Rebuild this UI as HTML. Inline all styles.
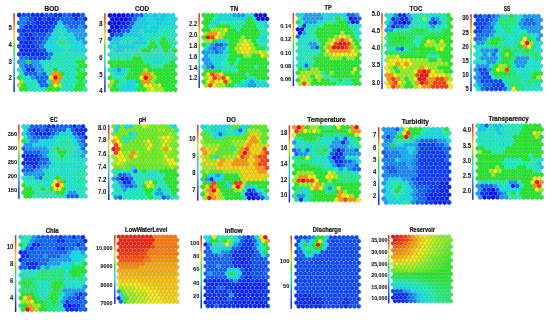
<!DOCTYPE html>
<html><head><meta charset="utf-8"><title>SOM component planes</title>
<style>
html,body{margin:0;padding:0;background:#fff;}
body{width:550px;height:320px;overflow:hidden;}
svg{display:block;}
.t{font-family:"Liberation Sans",sans-serif;font-weight:bold;fill:#181818;stroke:#181818;stroke-width:0.22px;}
.k{font-family:"Liberation Sans",sans-serif;font-weight:bold;fill:#181818;stroke:#181818;stroke-width:0.08px;}
</style></head><body>
<svg width="550" height="320" viewBox="0 0 550 320">
<defs><linearGradient id="cbg" x1="0" y1="0" x2="0" y2="1"><stop offset="0.00" stop-color="#ec120c"/><stop offset="0.09" stop-color="#ff3e05"/><stop offset="0.18" stop-color="#ff9600"/><stop offset="0.27" stop-color="#faf000"/><stop offset="0.36" stop-color="#96f814"/><stop offset="0.45" stop-color="#19ee19"/><stop offset="0.55" stop-color="#14f5b9"/><stop offset="0.64" stop-color="#04e3ec"/><stop offset="0.73" stop-color="#0f9cfc"/><stop offset="0.82" stop-color="#0862ff"/><stop offset="0.91" stop-color="#042afc"/><stop offset="1.00" stop-color="#000ee8"/></linearGradient><polygon id="h0" points="2.27,1.30 0.00,2.61 -2.27,1.30 -2.27,-1.30 -0.00,-2.61 2.27,-1.30"/><pattern id="d0" patternUnits="userSpaceOnUse" x="18.13" y="11.20" width="4.535" height="7.820"><g fill="#fff" fill-opacity="0.6"><circle cx="1.13" cy="1.30" r="0.5"/><circle cx="1.13" cy="6.52" r="0.5"/><circle cx="3.40" cy="2.61" r="0.5"/><circle cx="3.40" cy="5.21" r="0.5"/></g></pattern><polygon id="h1" points="2.24,1.30 0.00,2.60 -2.24,1.30 -2.24,-1.30 -0.00,-2.60 2.24,-1.30"/><pattern id="d1" patternUnits="userSpaceOnUse" x="108.92" y="11.50" width="4.484" height="7.810"><g fill="#fff" fill-opacity="0.6"><circle cx="1.12" cy="1.30" r="0.5"/><circle cx="1.12" cy="6.51" r="0.5"/><circle cx="3.36" cy="2.60" r="0.5"/><circle cx="3.36" cy="5.21" r="0.5"/></g></pattern><polygon id="h2" points="2.18,1.23 0.00,2.46 -2.18,1.23 -2.18,-1.23 -0.00,-2.46 2.18,-1.23"/><pattern id="d2" patternUnits="userSpaceOnUse" x="202.69" y="11.57" width="4.361" height="7.387"><g fill="#fff" fill-opacity="0.6"><circle cx="1.09" cy="1.23" r="0.5"/><circle cx="1.09" cy="6.16" r="0.5"/><circle cx="3.27" cy="2.46" r="0.5"/><circle cx="3.27" cy="4.92" r="0.5"/></g></pattern><polygon id="h3" points="2.12,1.21 0.00,2.41 -2.12,1.21 -2.12,-1.21 -0.00,-2.41 2.12,-1.21"/><pattern id="d3" patternUnits="userSpaceOnUse" x="296.86" y="11.29" width="4.232" height="7.239"><g fill="#fff" fill-opacity="0.6"><circle cx="1.06" cy="1.21" r="0.5"/><circle cx="1.06" cy="6.03" r="0.5"/><circle cx="3.17" cy="2.41" r="0.5"/><circle cx="3.17" cy="4.83" r="0.5"/></g></pattern><polygon id="h4" points="2.20,1.25 0.00,2.50 -2.20,1.25 -2.20,-1.25 -0.00,-2.50 2.20,-1.25"/><pattern id="d4" patternUnits="userSpaceOnUse" x="385.60" y="11.55" width="4.406" height="7.505"><g fill="#fff" fill-opacity="0.6"><circle cx="1.10" cy="1.25" r="0.5"/><circle cx="1.10" cy="6.25" r="0.5"/><circle cx="3.30" cy="2.50" r="0.5"/><circle cx="3.30" cy="5.00" r="0.5"/></g></pattern><polygon id="h5" points="2.23,1.28 0.00,2.55 -2.23,1.28 -2.23,-1.28 -0.00,-2.55 2.23,-1.28"/><pattern id="d5" patternUnits="userSpaceOnUse" x="474.72" y="12.32" width="4.465" height="7.662"><g fill="#fff" fill-opacity="0.6"><circle cx="1.12" cy="1.28" r="0.5"/><circle cx="1.12" cy="6.39" r="0.5"/><circle cx="3.35" cy="2.55" r="0.5"/><circle cx="3.35" cy="5.11" r="0.5"/></g></pattern><polygon id="h6" points="2.13,1.23 0.00,2.45 -2.13,1.23 -2.13,-1.23 -0.00,-2.45 2.13,-1.23"/><pattern id="d6" patternUnits="userSpaceOnUse" x="22.56" y="122.77" width="4.252" height="7.352"><g fill="#fff" fill-opacity="0.6"><circle cx="1.06" cy="1.23" r="0.5"/><circle cx="1.06" cy="6.13" r="0.5"/><circle cx="3.19" cy="2.45" r="0.5"/><circle cx="3.19" cy="4.90" r="0.5"/></g></pattern><polygon id="h7" points="2.18,1.25 0.00,2.49 -2.18,1.25 -2.18,-1.25 -0.00,-2.49 2.18,-1.25"/><pattern id="d7" patternUnits="userSpaceOnUse" x="112.59" y="122.75" width="4.355" height="7.475"><g fill="#fff" fill-opacity="0.6"><circle cx="1.09" cy="1.25" r="0.5"/><circle cx="1.09" cy="6.23" r="0.5"/><circle cx="3.27" cy="2.49" r="0.5"/><circle cx="3.27" cy="4.98" r="0.5"/></g></pattern><polygon id="h8" points="2.21,1.25 0.00,2.50 -2.21,1.25 -2.21,-1.25 -0.00,-2.50 2.21,-1.25"/><pattern id="d8" patternUnits="userSpaceOnUse" x="201.61" y="122.95" width="4.426" height="7.515"><g fill="#fff" fill-opacity="0.6"><circle cx="1.11" cy="1.25" r="0.5"/><circle cx="1.11" cy="6.26" r="0.5"/><circle cx="3.32" cy="2.50" r="0.5"/><circle cx="3.32" cy="5.01" r="0.5"/></g></pattern><polygon id="h9" points="2.22,1.27 0.00,2.54 -2.22,1.27 -2.22,-1.27 -0.00,-2.54 2.22,-1.27"/><pattern id="d9" patternUnits="userSpaceOnUse" x="293.21" y="123.53" width="4.439" height="7.623"><g fill="#fff" fill-opacity="0.6"><circle cx="1.11" cy="1.27" r="0.5"/><circle cx="1.11" cy="6.35" r="0.5"/><circle cx="3.33" cy="2.54" r="0.5"/><circle cx="3.33" cy="5.08" r="0.5"/></g></pattern><polygon id="h10" points="2.25,1.28 0.00,2.57 -2.25,1.28 -2.25,-1.28 -0.00,-2.57 2.25,-1.28"/><pattern id="d10" patternUnits="userSpaceOnUse" x="382.72" y="125.42" width="4.490" height="7.702"><g fill="#fff" fill-opacity="0.6"><circle cx="1.12" cy="1.28" r="0.5"/><circle cx="1.12" cy="6.42" r="0.5"/><circle cx="3.37" cy="2.57" r="0.5"/><circle cx="3.37" cy="5.13" r="0.5"/></g></pattern><polygon id="h11" points="2.19,1.25 0.00,2.51 -2.19,1.25 -2.19,-1.25 -0.00,-2.51 2.19,-1.25"/><pattern id="d11" patternUnits="userSpaceOnUse" x="476.70" y="122.00" width="4.387" height="7.530"><g fill="#fff" fill-opacity="0.6"><circle cx="1.10" cy="1.25" r="0.5"/><circle cx="1.10" cy="6.27" r="0.5"/><circle cx="3.29" cy="2.51" r="0.5"/><circle cx="3.29" cy="5.02" r="0.5"/></g></pattern><polygon id="h12" points="2.22,1.27 0.00,2.53 -2.22,1.27 -2.22,-1.27 -0.00,-2.53 2.22,-1.27"/><pattern id="d12" patternUnits="userSpaceOnUse" x="19.71" y="233.43" width="4.432" height="7.603"><g fill="#fff" fill-opacity="0.6"><circle cx="1.11" cy="1.27" r="0.5"/><circle cx="1.11" cy="6.34" r="0.5"/><circle cx="3.32" cy="2.53" r="0.5"/><circle cx="3.32" cy="5.07" r="0.5"/></g></pattern><polygon id="h13" points="2.01,1.14 0.00,2.28 -2.01,1.14 -2.01,-1.14 -0.00,-2.28 2.01,-1.14"/><pattern id="d13" patternUnits="userSpaceOnUse" x="117.80" y="233.26" width="4.013" height="6.836"><g fill="#fff" fill-opacity="0.6"><circle cx="1.00" cy="1.14" r="0.5"/><circle cx="1.00" cy="5.70" r="0.5"/><circle cx="3.01" cy="2.28" r="0.5"/><circle cx="3.01" cy="4.56" r="0.5"/></g></pattern><polygon id="h14" points="2.13,1.20 0.00,2.41 -2.13,1.20 -2.13,-1.20 -0.00,-2.41 2.13,-1.20"/><pattern id="d14" patternUnits="userSpaceOnUse" x="204.67" y="233.70" width="4.265" height="7.230"><g fill="#fff" fill-opacity="0.6"><circle cx="1.07" cy="1.20" r="0.5"/><circle cx="1.07" cy="6.02" r="0.5"/><circle cx="3.20" cy="2.41" r="0.5"/><circle cx="3.20" cy="4.82" r="0.5"/></g></pattern><polygon id="h15" points="2.14,1.21 0.00,2.41 -2.14,1.21 -2.14,-1.21 -0.00,-2.41 2.14,-1.21"/><pattern id="d15" patternUnits="userSpaceOnUse" x="295.47" y="233.89" width="4.284" height="7.244"><g fill="#fff" fill-opacity="0.6"><circle cx="1.07" cy="1.21" r="0.5"/><circle cx="1.07" cy="6.04" r="0.5"/><circle cx="3.21" cy="2.41" r="0.5"/><circle cx="3.21" cy="4.83" r="0.5"/></g></pattern><polygon id="h16" points="1.99,1.13 0.00,2.26 -1.99,1.13 -1.99,-1.13 -0.00,-2.26 1.99,-1.13"/><pattern id="d16" patternUnits="userSpaceOnUse" x="392.00" y="233.27" width="3.987" height="6.787"><g fill="#fff" fill-opacity="0.6"><circle cx="1.00" cy="1.13" r="0.5"/><circle cx="1.00" cy="5.66" r="0.5"/><circle cx="2.99" cy="2.26" r="0.5"/><circle cx="2.99" cy="4.52" r="0.5"/></g></pattern></defs>
<rect width="550" height="320" fill="#fff"/>
<g stroke="#454550" stroke-opacity="0.33" stroke-width="0.6" stroke-linejoin="round"><use href="#h0" x="19.3" y="15.1" fill="#042bfc"/><use href="#h0" x="23.8" y="15.1" fill="#064dfe"/><use href="#h0" x="28.3" y="15.1" fill="#064dfe"/><use href="#h0" x="32.9" y="15.1" fill="#042bfc"/><use href="#h0" x="37.4" y="15.1" fill="#042bfc"/><use href="#h0" x="41.9" y="15.1" fill="#042bfc"/><use href="#h0" x="46.5" y="15.1" fill="#064dfe"/><use href="#h0" x="51.0" y="15.1" fill="#064dfe"/><use href="#h0" x="55.6" y="15.1" fill="#042bfc"/><use href="#h0" x="60.1" y="15.1" fill="#042bfc"/><use href="#h0" x="64.6" y="15.1" fill="#0863ff"/><use href="#h0" x="69.2" y="15.1" fill="#0863ff"/><use href="#h0" x="73.7" y="15.1" fill="#042bfc"/><use href="#h0" x="78.2" y="15.1" fill="#042bfc"/><use href="#h0" x="82.8" y="15.1" fill="#0863ff"/><use href="#h0" x="21.5" y="19.0" fill="#0b7bfe"/><use href="#h0" x="26.1" y="19.0" fill="#0b7bfe"/><use href="#h0" x="30.6" y="19.0" fill="#064dfe"/><use href="#h0" x="35.1" y="19.0" fill="#042bfc"/><use href="#h0" x="39.7" y="19.0" fill="#042bfc"/><use href="#h0" x="44.2" y="19.0" fill="#064dfe"/><use href="#h0" x="48.7" y="19.0" fill="#042bfc"/><use href="#h0" x="53.3" y="19.0" fill="#042bfc"/><use href="#h0" x="57.8" y="19.0" fill="#064dfe"/><use href="#h0" x="62.4" y="19.0" fill="#0863ff"/><use href="#h0" x="66.9" y="19.0" fill="#0863ff"/><use href="#h0" x="71.4" y="19.0" fill="#0863ff"/><use href="#h0" x="76.0" y="19.0" fill="#042bfc"/><use href="#h0" x="80.5" y="19.0" fill="#0863ff"/><use href="#h0" x="85.0" y="19.0" fill="#042bfc"/><use href="#h0" x="19.3" y="22.9" fill="#0b7bfe"/><use href="#h0" x="23.8" y="22.9" fill="#0b7bfe"/><use href="#h0" x="28.3" y="22.9" fill="#064dfe"/><use href="#h0" x="32.9" y="22.9" fill="#064dfe"/><use href="#h0" x="37.4" y="22.9" fill="#042bfc"/><use href="#h0" x="41.9" y="22.9" fill="#042bfc"/><use href="#h0" x="46.5" y="22.9" fill="#042bfc"/><use href="#h0" x="51.0" y="22.9" fill="#042bfc"/><use href="#h0" x="55.6" y="22.9" fill="#064dfe"/><use href="#h0" x="60.1" y="22.9" fill="#05e4ea"/><use href="#h0" x="64.6" y="22.9" fill="#0863ff"/><use href="#h0" x="69.2" y="22.9" fill="#0863ff"/><use href="#h0" x="73.7" y="22.9" fill="#0863ff"/><use href="#h0" x="78.2" y="22.9" fill="#0863ff"/><use href="#h0" x="82.8" y="22.9" fill="#0863ff"/><use href="#h0" x="21.5" y="26.8" fill="#0b7bfe"/><use href="#h0" x="26.1" y="26.8" fill="#042bfc"/><use href="#h0" x="30.6" y="26.8" fill="#042bfc"/><use href="#h0" x="35.1" y="26.8" fill="#042bfc"/><use href="#h0" x="39.7" y="26.8" fill="#042bfc"/><use href="#h0" x="44.2" y="26.8" fill="#042bfc"/><use href="#h0" x="48.7" y="26.8" fill="#042bfc"/><use href="#h0" x="53.3" y="26.8" fill="#064dfe"/><use href="#h0" x="57.8" y="26.8" fill="#05e4ea"/><use href="#h0" x="62.4" y="26.8" fill="#05e4ea"/><use href="#h0" x="66.9" y="26.8" fill="#0f9efc"/><use href="#h0" x="71.4" y="26.8" fill="#0863ff"/><use href="#h0" x="76.0" y="26.8" fill="#0863ff"/><use href="#h0" x="80.5" y="26.8" fill="#0f9efc"/><use href="#h0" x="85.0" y="26.8" fill="#0863ff"/><use href="#h0" x="19.3" y="30.7" fill="#064dfe"/><use href="#h0" x="23.8" y="30.7" fill="#042bfc"/><use href="#h0" x="28.3" y="30.7" fill="#064dfe"/><use href="#h0" x="32.9" y="30.7" fill="#042bfc"/><use href="#h0" x="37.4" y="30.7" fill="#042bfc"/><use href="#h0" x="41.9" y="30.7" fill="#042bfc"/><use href="#h0" x="46.5" y="30.7" fill="#042bfc"/><use href="#h0" x="51.0" y="30.7" fill="#064dfe"/><use href="#h0" x="55.6" y="30.7" fill="#05e4ea"/><use href="#h0" x="60.1" y="30.7" fill="#14f5b2"/><use href="#h0" x="64.6" y="30.7" fill="#05e4ea"/><use href="#h0" x="69.2" y="30.7" fill="#0f9efc"/><use href="#h0" x="73.7" y="30.7" fill="#0f9efc"/><use href="#h0" x="78.2" y="30.7" fill="#0f9efc"/><use href="#h0" x="82.8" y="30.7" fill="#0f9efc"/><use href="#h0" x="21.5" y="34.7" fill="#064dfe"/><use href="#h0" x="26.1" y="34.7" fill="#042bfc"/><use href="#h0" x="30.6" y="34.7" fill="#042bfc"/><use href="#h0" x="35.1" y="34.7" fill="#064dfe"/><use href="#h0" x="39.7" y="34.7" fill="#064dfe"/><use href="#h0" x="44.2" y="34.7" fill="#064dfe"/><use href="#h0" x="48.7" y="34.7" fill="#0b7bfe"/><use href="#h0" x="53.3" y="34.7" fill="#05e4ea"/><use href="#h0" x="57.8" y="34.7" fill="#05e4ea"/><use href="#h0" x="62.4" y="34.7" fill="#14f5b2"/><use href="#h0" x="66.9" y="34.7" fill="#05e4ea"/><use href="#h0" x="71.4" y="34.7" fill="#05e4ea"/><use href="#h0" x="76.0" y="34.7" fill="#0f9efc"/><use href="#h0" x="80.5" y="34.7" fill="#0f9efc"/><use href="#h0" x="85.0" y="34.7" fill="#0f9efc"/><use href="#h0" x="19.3" y="38.6" fill="#064dfe"/><use href="#h0" x="23.8" y="38.6" fill="#064dfe"/><use href="#h0" x="28.3" y="38.6" fill="#042bfc"/><use href="#h0" x="32.9" y="38.6" fill="#042bfc"/><use href="#h0" x="37.4" y="38.6" fill="#064dfe"/><use href="#h0" x="41.9" y="38.6" fill="#064dfe"/><use href="#h0" x="46.5" y="38.6" fill="#0b7bfe"/><use href="#h0" x="51.0" y="38.6" fill="#05e4ea"/><use href="#h0" x="55.6" y="38.6" fill="#05e4ea"/><use href="#h0" x="60.1" y="38.6" fill="#14f5b2"/><use href="#h0" x="64.6" y="38.6" fill="#14f5b2"/><use href="#h0" x="69.2" y="38.6" fill="#05e4ea"/><use href="#h0" x="73.7" y="38.6" fill="#05e4ea"/><use href="#h0" x="78.2" y="38.6" fill="#0f9efc"/><use href="#h0" x="82.8" y="38.6" fill="#0f9efc"/><use href="#h0" x="21.5" y="42.5" fill="#042bfc"/><use href="#h0" x="26.1" y="42.5" fill="#042bfc"/><use href="#h0" x="30.6" y="42.5" fill="#042bfc"/><use href="#h0" x="35.1" y="42.5" fill="#064dfe"/><use href="#h0" x="39.7" y="42.5" fill="#064dfe"/><use href="#h0" x="44.2" y="42.5" fill="#0b7bfe"/><use href="#h0" x="48.7" y="42.5" fill="#05e4ea"/><use href="#h0" x="53.3" y="42.5" fill="#05e4ea"/><use href="#h0" x="57.8" y="42.5" fill="#14f5b2"/><use href="#h0" x="62.4" y="42.5" fill="#16f278"/><use href="#h0" x="66.9" y="42.5" fill="#14f5b2"/><use href="#h0" x="71.4" y="42.5" fill="#05e4ea"/><use href="#h0" x="76.0" y="42.5" fill="#05e4ea"/><use href="#h0" x="80.5" y="42.5" fill="#05e4ea"/><use href="#h0" x="85.0" y="42.5" fill="#0f9efc"/><use href="#h0" x="19.3" y="46.4" fill="#064dfe"/><use href="#h0" x="23.8" y="46.4" fill="#042bfc"/><use href="#h0" x="28.3" y="46.4" fill="#042bfc"/><use href="#h0" x="32.9" y="46.4" fill="#042bfc"/><use href="#h0" x="37.4" y="46.4" fill="#064dfe"/><use href="#h0" x="41.9" y="46.4" fill="#0b7bfe"/><use href="#h0" x="46.5" y="46.4" fill="#05e4ea"/><use href="#h0" x="51.0" y="46.4" fill="#05e4ea"/><use href="#h0" x="55.6" y="46.4" fill="#05e4ea"/><use href="#h0" x="60.1" y="46.4" fill="#14f5b2"/><use href="#h0" x="64.6" y="46.4" fill="#14f5b2"/><use href="#h0" x="69.2" y="46.4" fill="#14f5b2"/><use href="#h0" x="73.7" y="46.4" fill="#05e4ea"/><use href="#h0" x="78.2" y="46.4" fill="#05e4ea"/><use href="#h0" x="82.8" y="46.4" fill="#05e4ea"/><use href="#h0" x="21.5" y="50.3" fill="#042bfc"/><use href="#h0" x="26.1" y="50.3" fill="#042bfc"/><use href="#h0" x="30.6" y="50.3" fill="#042bfc"/><use href="#h0" x="35.1" y="50.3" fill="#042bfc"/><use href="#h0" x="39.7" y="50.3" fill="#064dfe"/><use href="#h0" x="44.2" y="50.3" fill="#064dfe"/><use href="#h0" x="48.7" y="50.3" fill="#05e4ea"/><use href="#h0" x="53.3" y="50.3" fill="#05e4ea"/><use href="#h0" x="57.8" y="50.3" fill="#05e4ea"/><use href="#h0" x="62.4" y="50.3" fill="#05e4ea"/><use href="#h0" x="66.9" y="50.3" fill="#14f5b2"/><use href="#h0" x="71.4" y="50.3" fill="#05e4ea"/><use href="#h0" x="76.0" y="50.3" fill="#05e4ea"/><use href="#h0" x="80.5" y="50.3" fill="#05e4ea"/><use href="#h0" x="85.0" y="50.3" fill="#05e4ea"/><use href="#h0" x="19.3" y="54.2" fill="#064dfe"/><use href="#h0" x="23.8" y="54.2" fill="#042bfc"/><use href="#h0" x="28.3" y="54.2" fill="#042bfc"/><use href="#h0" x="32.9" y="54.2" fill="#042bfc"/><use href="#h0" x="37.4" y="54.2" fill="#042bfc"/><use href="#h0" x="41.9" y="54.2" fill="#042bfc"/><use href="#h0" x="46.5" y="54.2" fill="#064dfe"/><use href="#h0" x="51.0" y="54.2" fill="#0b7bfe"/><use href="#h0" x="55.6" y="54.2" fill="#10f0c6"/><use href="#h0" x="60.1" y="54.2" fill="#10f0c6"/><use href="#h0" x="64.6" y="54.2" fill="#10f0c6"/><use href="#h0" x="69.2" y="54.2" fill="#10f0c6"/><use href="#h0" x="73.7" y="54.2" fill="#10f0c6"/><use href="#h0" x="78.2" y="54.2" fill="#10f0c6"/><use href="#h0" x="82.8" y="54.2" fill="#10f0c6"/><use href="#h0" x="21.5" y="58.1" fill="#0b7bfe"/><use href="#h0" x="26.1" y="58.1" fill="#0b7bfe"/><use href="#h0" x="30.6" y="58.1" fill="#064dfe"/><use href="#h0" x="35.1" y="58.1" fill="#064dfe"/><use href="#h0" x="39.7" y="58.1" fill="#064dfe"/><use href="#h0" x="44.2" y="58.1" fill="#064dfe"/><use href="#h0" x="48.7" y="58.1" fill="#0b7bfe"/><use href="#h0" x="53.3" y="58.1" fill="#10f0c6"/><use href="#h0" x="57.8" y="58.1" fill="#10f0c6"/><use href="#h0" x="62.4" y="58.1" fill="#10f0c6"/><use href="#h0" x="66.9" y="58.1" fill="#10f0c6"/><use href="#h0" x="71.4" y="58.1" fill="#10f0c6"/><use href="#h0" x="76.0" y="58.1" fill="#10f0c6"/><use href="#h0" x="80.5" y="58.1" fill="#10f0c6"/><use href="#h0" x="85.0" y="58.1" fill="#10f0c6"/><use href="#h0" x="19.3" y="62.0" fill="#0f9efc"/><use href="#h0" x="23.8" y="62.0" fill="#0f9efc"/><use href="#h0" x="28.3" y="62.0" fill="#19ee20"/><use href="#h0" x="32.9" y="62.0" fill="#0f9efc"/><use href="#h0" x="37.4" y="62.0" fill="#0f9efc"/><use href="#h0" x="41.9" y="62.0" fill="#10f0c6"/><use href="#h0" x="46.5" y="62.0" fill="#10f0c6"/><use href="#h0" x="51.0" y="62.0" fill="#10f0c6"/><use href="#h0" x="55.6" y="62.0" fill="#14f5b2"/><use href="#h0" x="60.1" y="62.0" fill="#14f5b2"/><use href="#h0" x="64.6" y="62.0" fill="#10f0c6"/><use href="#h0" x="69.2" y="62.0" fill="#10f0c6"/><use href="#h0" x="73.7" y="62.0" fill="#10f0c6"/><use href="#h0" x="78.2" y="62.0" fill="#19ee20"/><use href="#h0" x="82.8" y="62.0" fill="#19ee20"/><use href="#h0" x="21.5" y="65.9" fill="#0f9efc"/><use href="#h0" x="26.1" y="65.9" fill="#0863ff"/><use href="#h0" x="30.6" y="65.9" fill="#0863ff"/><use href="#h0" x="35.1" y="65.9" fill="#0f9efc"/><use href="#h0" x="39.7" y="65.9" fill="#0f9efc"/><use href="#h0" x="44.2" y="65.9" fill="#10f0c6"/><use href="#h0" x="48.7" y="65.9" fill="#14f5b2"/><use href="#h0" x="53.3" y="65.9" fill="#14f5b2"/><use href="#h0" x="57.8" y="65.9" fill="#14f5b2"/><use href="#h0" x="62.4" y="65.9" fill="#10f0c6"/><use href="#h0" x="66.9" y="65.9" fill="#10f0c6"/><use href="#h0" x="71.4" y="65.9" fill="#10f0c6"/><use href="#h0" x="76.0" y="65.9" fill="#14f5b2"/><use href="#h0" x="80.5" y="65.9" fill="#19ee20"/><use href="#h0" x="85.0" y="65.9" fill="#19ee20"/><use href="#h0" x="19.3" y="69.8" fill="#10f0c6"/><use href="#h0" x="23.8" y="69.8" fill="#0f9efc"/><use href="#h0" x="28.3" y="69.8" fill="#042bfc"/><use href="#h0" x="32.9" y="69.8" fill="#042bfc"/><use href="#h0" x="37.4" y="69.8" fill="#0f9efc"/><use href="#h0" x="41.9" y="69.8" fill="#0f9efc"/><use href="#h0" x="46.5" y="69.8" fill="#10f0c6"/><use href="#h0" x="51.0" y="69.8" fill="#14f5b2"/><use href="#h0" x="55.6" y="69.8" fill="#19ee20"/><use href="#h0" x="60.1" y="69.8" fill="#14f5b2"/><use href="#h0" x="64.6" y="69.8" fill="#10f0c6"/><use href="#h0" x="69.2" y="69.8" fill="#10f0c6"/><use href="#h0" x="73.7" y="69.8" fill="#10f0c6"/><use href="#h0" x="78.2" y="69.8" fill="#19ee20"/><use href="#h0" x="82.8" y="69.8" fill="#14f5b2"/><use href="#h0" x="21.5" y="73.8" fill="#10f0c6"/><use href="#h0" x="26.1" y="73.8" fill="#0863ff"/><use href="#h0" x="30.6" y="73.8" fill="#0863ff"/><use href="#h0" x="35.1" y="73.8" fill="#0863ff"/><use href="#h0" x="39.7" y="73.8" fill="#0f9efc"/><use href="#h0" x="44.2" y="73.8" fill="#0863ff"/><use href="#h0" x="48.7" y="73.8" fill="#14f5b2"/><use href="#h0" x="53.3" y="73.8" fill="#ff9800"/><use href="#h0" x="57.8" y="73.8" fill="#ff9800"/><use href="#h0" x="62.4" y="73.8" fill="#19ee20"/><use href="#h0" x="66.9" y="73.8" fill="#10f0c6"/><use href="#h0" x="71.4" y="73.8" fill="#10f0c6"/><use href="#h0" x="76.0" y="73.8" fill="#14f5b2"/><use href="#h0" x="80.5" y="73.8" fill="#19ee20"/><use href="#h0" x="85.0" y="73.8" fill="#19ee20"/><use href="#h0" x="19.3" y="77.7" fill="#19ee20"/><use href="#h0" x="23.8" y="77.7" fill="#10f0c6"/><use href="#h0" x="28.3" y="77.7" fill="#10f0c6"/><use href="#h0" x="32.9" y="77.7" fill="#0f9efc"/><use href="#h0" x="37.4" y="77.7" fill="#0863ff"/><use href="#h0" x="41.9" y="77.7" fill="#0863ff"/><use href="#h0" x="46.5" y="77.7" fill="#0863ff"/><use href="#h0" x="51.0" y="77.7" fill="#f7f001"/><use href="#h0" x="55.6" y="77.7" fill="#ec120c"/><use href="#h0" x="60.1" y="77.7" fill="#ff9800"/><use href="#h0" x="64.6" y="77.7" fill="#14f5b2"/><use href="#h0" x="69.2" y="77.7" fill="#10f0c6"/><use href="#h0" x="73.7" y="77.7" fill="#10f0c6"/><use href="#h0" x="78.2" y="77.7" fill="#19ee20"/><use href="#h0" x="82.8" y="77.7" fill="#19ee20"/><use href="#h0" x="21.5" y="81.6" fill="#91f814"/><use href="#h0" x="26.1" y="81.6" fill="#14f5b2"/><use href="#h0" x="30.6" y="81.6" fill="#10f0c6"/><use href="#h0" x="35.1" y="81.6" fill="#10f0c6"/><use href="#h0" x="39.7" y="81.6" fill="#0863ff"/><use href="#h0" x="44.2" y="81.6" fill="#0863ff"/><use href="#h0" x="48.7" y="81.6" fill="#10f0c6"/><use href="#h0" x="53.3" y="81.6" fill="#ff9800"/><use href="#h0" x="57.8" y="81.6" fill="#ff9800"/><use href="#h0" x="62.4" y="81.6" fill="#14f5b2"/><use href="#h0" x="66.9" y="81.6" fill="#10f0c6"/><use href="#h0" x="71.4" y="81.6" fill="#10f0c6"/><use href="#h0" x="76.0" y="81.6" fill="#14f5b2"/><use href="#h0" x="80.5" y="81.6" fill="#19ee20"/><use href="#h0" x="85.0" y="81.6" fill="#14f5b2"/><use href="#h0" x="19.3" y="85.5" fill="#91f814"/><use href="#h0" x="23.8" y="85.5" fill="#19ee20"/><use href="#h0" x="28.3" y="85.5" fill="#10f0c6"/><use href="#h0" x="32.9" y="85.5" fill="#10f0c6"/><use href="#h0" x="37.4" y="85.5" fill="#10f0c6"/><use href="#h0" x="41.9" y="85.5" fill="#0863ff"/><use href="#h0" x="46.5" y="85.5" fill="#0863ff"/><use href="#h0" x="51.0" y="85.5" fill="#19ee20"/><use href="#h0" x="55.6" y="85.5" fill="#f7f001"/><use href="#h0" x="60.1" y="85.5" fill="#91f814"/><use href="#h0" x="64.6" y="85.5" fill="#10f0c6"/><use href="#h0" x="69.2" y="85.5" fill="#10f0c6"/><use href="#h0" x="73.7" y="85.5" fill="#14f5b2"/><use href="#h0" x="78.2" y="85.5" fill="#19ee20"/><use href="#h0" x="82.8" y="85.5" fill="#19ee20"/><use href="#h0" x="21.5" y="89.4" fill="#19ee20"/><use href="#h0" x="26.1" y="89.4" fill="#19ee20"/><use href="#h0" x="30.6" y="89.4" fill="#10f0c6"/><use href="#h0" x="35.1" y="89.4" fill="#10f0c6"/><use href="#h0" x="39.7" y="89.4" fill="#10f0c6"/><use href="#h0" x="44.2" y="89.4" fill="#10f0c6"/><use href="#h0" x="48.7" y="89.4" fill="#19ee20"/><use href="#h0" x="53.3" y="89.4" fill="#19ee20"/><use href="#h0" x="57.8" y="89.4" fill="#19ee20"/><use href="#h0" x="62.4" y="89.4" fill="#14f5b2"/><use href="#h0" x="66.9" y="89.4" fill="#10f0c6"/><use href="#h0" x="71.4" y="89.4" fill="#10f0c6"/><use href="#h0" x="76.0" y="89.4" fill="#19ee20"/><use href="#h0" x="80.5" y="89.4" fill="#19ee20"/><use href="#h0" x="85.0" y="89.4" fill="#14f5b2"/></g>
<rect x="16.0" y="11.5" width="72.3" height="81.5" fill="url(#d0)"/>
<rect x="13.40" y="13.10" width="1.4" height="78.90" fill="url(#cbg)"/>
<rect x="13.40" y="13.10" width="1.4" height="78.90" fill="#707080" fill-opacity="0.18"/>
<text x="51.8" y="11.0" class="t" font-size="6.50" text-anchor="middle" textLength="14.4" lengthAdjust="spacingAndGlyphs">BOD</text>
<text x="11.9" y="30.4" class="k" font-size="6.60" text-anchor="end" textLength="3.4" lengthAdjust="spacingAndGlyphs">5</text>
<text x="11.9" y="47.1" class="k" font-size="6.60" text-anchor="end" textLength="3.4" lengthAdjust="spacingAndGlyphs">4</text>
<text x="11.9" y="64.0" class="k" font-size="6.60" text-anchor="end" textLength="3.4" lengthAdjust="spacingAndGlyphs">3</text>
<text x="11.9" y="80.4" class="k" font-size="6.60" text-anchor="end" textLength="3.4" lengthAdjust="spacingAndGlyphs">2</text>
<g stroke="#454550" stroke-opacity="0.33" stroke-width="0.6" stroke-linejoin="round"><use href="#h1" x="110.0" y="15.4" fill="#000ee8"/><use href="#h1" x="114.5" y="15.4" fill="#000ee8"/><use href="#h1" x="119.0" y="15.4" fill="#000ee8"/><use href="#h1" x="123.5" y="15.4" fill="#000ee8"/><use href="#h1" x="128.0" y="15.4" fill="#042bfc"/><use href="#h1" x="132.5" y="15.4" fill="#042bfc"/><use href="#h1" x="136.9" y="15.4" fill="#0863ff"/><use href="#h1" x="141.4" y="15.4" fill="#0863ff"/><use href="#h1" x="145.9" y="15.4" fill="#07d0f0"/><use href="#h1" x="150.4" y="15.4" fill="#05e4ea"/><use href="#h1" x="154.9" y="15.4" fill="#07d0f0"/><use href="#h1" x="159.4" y="15.4" fill="#05e4ea"/><use href="#h1" x="163.8" y="15.4" fill="#07d0f0"/><use href="#h1" x="168.3" y="15.4" fill="#05e4ea"/><use href="#h1" x="172.8" y="15.4" fill="#05e4ea"/><use href="#h1" x="112.3" y="19.3" fill="#000ee8"/><use href="#h1" x="116.8" y="19.3" fill="#000ee8"/><use href="#h1" x="121.3" y="19.3" fill="#000ee8"/><use href="#h1" x="125.7" y="19.3" fill="#000ee8"/><use href="#h1" x="130.2" y="19.3" fill="#042bfc"/><use href="#h1" x="134.7" y="19.3" fill="#0863ff"/><use href="#h1" x="139.2" y="19.3" fill="#07d0f0"/><use href="#h1" x="143.7" y="19.3" fill="#07d0f0"/><use href="#h1" x="148.2" y="19.3" fill="#05e4ea"/><use href="#h1" x="152.6" y="19.3" fill="#05e4ea"/><use href="#h1" x="157.1" y="19.3" fill="#07d0f0"/><use href="#h1" x="161.6" y="19.3" fill="#07d0f0"/><use href="#h1" x="166.1" y="19.3" fill="#05e4ea"/><use href="#h1" x="170.6" y="19.3" fill="#05e4ea"/><use href="#h1" x="175.1" y="19.3" fill="#05e4ea"/><use href="#h1" x="110.0" y="23.2" fill="#000ee8"/><use href="#h1" x="114.5" y="23.2" fill="#000ee8"/><use href="#h1" x="119.0" y="23.2" fill="#000ee8"/><use href="#h1" x="123.5" y="23.2" fill="#000ee8"/><use href="#h1" x="128.0" y="23.2" fill="#042bfc"/><use href="#h1" x="132.5" y="23.2" fill="#0863ff"/><use href="#h1" x="136.9" y="23.2" fill="#07d0f0"/><use href="#h1" x="141.4" y="23.2" fill="#07d0f0"/><use href="#h1" x="145.9" y="23.2" fill="#07d0f0"/><use href="#h1" x="150.4" y="23.2" fill="#05e4ea"/><use href="#h1" x="154.9" y="23.2" fill="#05e4ea"/><use href="#h1" x="159.4" y="23.2" fill="#07d0f0"/><use href="#h1" x="163.8" y="23.2" fill="#05e4ea"/><use href="#h1" x="168.3" y="23.2" fill="#05e4ea"/><use href="#h1" x="172.8" y="23.2" fill="#05e4ea"/><use href="#h1" x="112.3" y="27.1" fill="#000ee8"/><use href="#h1" x="116.8" y="27.1" fill="#000ee8"/><use href="#h1" x="121.3" y="27.1" fill="#042bfc"/><use href="#h1" x="125.7" y="27.1" fill="#042bfc"/><use href="#h1" x="130.2" y="27.1" fill="#0863ff"/><use href="#h1" x="134.7" y="27.1" fill="#06d8ef"/><use href="#h1" x="139.2" y="27.1" fill="#06d8ef"/><use href="#h1" x="143.7" y="27.1" fill="#06d8ef"/><use href="#h1" x="148.2" y="27.1" fill="#0eefcb"/><use href="#h1" x="152.6" y="27.1" fill="#06d8ef"/><use href="#h1" x="157.1" y="27.1" fill="#06d8ef"/><use href="#h1" x="161.6" y="27.1" fill="#0eefcb"/><use href="#h1" x="166.1" y="27.1" fill="#0eefcb"/><use href="#h1" x="170.6" y="27.1" fill="#0eefcb"/><use href="#h1" x="175.1" y="27.1" fill="#0eefcb"/><use href="#h1" x="110.0" y="31.0" fill="#000ee8"/><use href="#h1" x="114.5" y="31.0" fill="#042bfc"/><use href="#h1" x="119.0" y="31.0" fill="#042bfc"/><use href="#h1" x="123.5" y="31.0" fill="#0863ff"/><use href="#h1" x="128.0" y="31.0" fill="#0863ff"/><use href="#h1" x="132.5" y="31.0" fill="#06d8ef"/><use href="#h1" x="136.9" y="31.0" fill="#06d8ef"/><use href="#h1" x="141.4" y="31.0" fill="#0eefcb"/><use href="#h1" x="145.9" y="31.0" fill="#06d8ef"/><use href="#h1" x="150.4" y="31.0" fill="#06d8ef"/><use href="#h1" x="154.9" y="31.0" fill="#06d8ef"/><use href="#h1" x="159.4" y="31.0" fill="#0eefcb"/><use href="#h1" x="163.8" y="31.0" fill="#0eefcb"/><use href="#h1" x="168.3" y="31.0" fill="#0eefcb"/><use href="#h1" x="172.8" y="31.0" fill="#0eefcb"/><use href="#h1" x="112.3" y="34.9" fill="#042bfc"/><use href="#h1" x="116.8" y="34.9" fill="#0863ff"/><use href="#h1" x="121.3" y="34.9" fill="#0863ff"/><use href="#h1" x="125.7" y="34.9" fill="#06d8ef"/><use href="#h1" x="130.2" y="34.9" fill="#06d8ef"/><use href="#h1" x="134.7" y="34.9" fill="#06d8ef"/><use href="#h1" x="139.2" y="34.9" fill="#06d8ef"/><use href="#h1" x="143.7" y="34.9" fill="#0eefcb"/><use href="#h1" x="148.2" y="34.9" fill="#0eefcb"/><use href="#h1" x="152.6" y="34.9" fill="#0eefcb"/><use href="#h1" x="157.1" y="34.9" fill="#0eefcb"/><use href="#h1" x="161.6" y="34.9" fill="#14f5b2"/><use href="#h1" x="166.1" y="34.9" fill="#14f5b2"/><use href="#h1" x="170.6" y="34.9" fill="#14f5b2"/><use href="#h1" x="175.1" y="34.9" fill="#0eefcb"/><use href="#h1" x="110.0" y="38.8" fill="#0863ff"/><use href="#h1" x="114.5" y="38.8" fill="#06d8ef"/><use href="#h1" x="119.0" y="38.8" fill="#06d8ef"/><use href="#h1" x="123.5" y="38.8" fill="#0eefcb"/><use href="#h1" x="128.0" y="38.8" fill="#0eefcb"/><use href="#h1" x="132.5" y="38.8" fill="#0eefcb"/><use href="#h1" x="136.9" y="38.8" fill="#0eefcb"/><use href="#h1" x="141.4" y="38.8" fill="#06d8ef"/><use href="#h1" x="145.9" y="38.8" fill="#0eefcb"/><use href="#h1" x="150.4" y="38.8" fill="#0eefcb"/><use href="#h1" x="154.9" y="38.8" fill="#14f5b2"/><use href="#h1" x="159.4" y="38.8" fill="#14f5b2"/><use href="#h1" x="163.8" y="38.8" fill="#19ee20"/><use href="#h1" x="168.3" y="38.8" fill="#14f5b2"/><use href="#h1" x="172.8" y="38.8" fill="#14f5b2"/><use href="#h1" x="112.3" y="42.7" fill="#06d8ef"/><use href="#h1" x="116.8" y="42.7" fill="#06d8ef"/><use href="#h1" x="121.3" y="42.7" fill="#0eefcb"/><use href="#h1" x="125.7" y="42.7" fill="#0eefcb"/><use href="#h1" x="130.2" y="42.7" fill="#0eefcb"/><use href="#h1" x="134.7" y="42.7" fill="#06d8ef"/><use href="#h1" x="139.2" y="42.7" fill="#06d8ef"/><use href="#h1" x="143.7" y="42.7" fill="#06d8ef"/><use href="#h1" x="148.2" y="42.7" fill="#14f5b2"/><use href="#h1" x="152.6" y="42.7" fill="#19ee20"/><use href="#h1" x="157.1" y="42.7" fill="#14f5b2"/><use href="#h1" x="161.6" y="42.7" fill="#19ee20"/><use href="#h1" x="166.1" y="42.7" fill="#19ee20"/><use href="#h1" x="170.6" y="42.7" fill="#14f5b2"/><use href="#h1" x="175.1" y="42.7" fill="#14f5b2"/><use href="#h1" x="110.0" y="46.6" fill="#06d8ef"/><use href="#h1" x="114.5" y="46.6" fill="#0eefcb"/><use href="#h1" x="119.0" y="46.6" fill="#06d8ef"/><use href="#h1" x="123.5" y="46.6" fill="#06d8ef"/><use href="#h1" x="128.0" y="46.6" fill="#06d8ef"/><use href="#h1" x="132.5" y="46.6" fill="#06d8ef"/><use href="#h1" x="136.9" y="46.6" fill="#0eefcb"/><use href="#h1" x="141.4" y="46.6" fill="#0eefcb"/><use href="#h1" x="145.9" y="46.6" fill="#14f5b2"/><use href="#h1" x="150.4" y="46.6" fill="#19ee20"/><use href="#h1" x="154.9" y="46.6" fill="#19ee20"/><use href="#h1" x="159.4" y="46.6" fill="#14f5b2"/><use href="#h1" x="163.8" y="46.6" fill="#19ee20"/><use href="#h1" x="168.3" y="46.6" fill="#19ee20"/><use href="#h1" x="172.8" y="46.6" fill="#14f5b2"/><use href="#h1" x="112.3" y="50.5" fill="#0eefcb"/><use href="#h1" x="116.8" y="50.5" fill="#06d8ef"/><use href="#h1" x="121.3" y="50.5" fill="#06d8ef"/><use href="#h1" x="125.7" y="50.5" fill="#0eefcb"/><use href="#h1" x="130.2" y="50.5" fill="#0eefcb"/><use href="#h1" x="134.7" y="50.5" fill="#0eefcb"/><use href="#h1" x="139.2" y="50.5" fill="#14f5b2"/><use href="#h1" x="143.7" y="50.5" fill="#19ee20"/><use href="#h1" x="148.2" y="50.5" fill="#19ee20"/><use href="#h1" x="152.6" y="50.5" fill="#14f5b2"/><use href="#h1" x="157.1" y="50.5" fill="#14f5b2"/><use href="#h1" x="161.6" y="50.5" fill="#14f5b2"/><use href="#h1" x="166.1" y="50.5" fill="#19ee20"/><use href="#h1" x="170.6" y="50.5" fill="#14f5b2"/><use href="#h1" x="175.1" y="50.5" fill="#19ee20"/><use href="#h1" x="110.0" y="54.5" fill="#0eefcb"/><use href="#h1" x="114.5" y="54.5" fill="#0eefcb"/><use href="#h1" x="119.0" y="54.5" fill="#0eefcb"/><use href="#h1" x="123.5" y="54.5" fill="#0eefcb"/><use href="#h1" x="128.0" y="54.5" fill="#0eefcb"/><use href="#h1" x="132.5" y="54.5" fill="#14f5b2"/><use href="#h1" x="136.9" y="54.5" fill="#14f5b2"/><use href="#h1" x="141.4" y="54.5" fill="#14f5b2"/><use href="#h1" x="145.9" y="54.5" fill="#14f5b2"/><use href="#h1" x="150.4" y="54.5" fill="#0eefcb"/><use href="#h1" x="154.9" y="54.5" fill="#0eefcb"/><use href="#h1" x="159.4" y="54.5" fill="#0eefcb"/><use href="#h1" x="163.8" y="54.5" fill="#14f5b2"/><use href="#h1" x="168.3" y="54.5" fill="#14f5b2"/><use href="#h1" x="172.8" y="54.5" fill="#14f5b2"/><use href="#h1" x="112.3" y="58.4" fill="#0eefcb"/><use href="#h1" x="116.8" y="58.4" fill="#14f5b2"/><use href="#h1" x="121.3" y="58.4" fill="#14f5b2"/><use href="#h1" x="125.7" y="58.4" fill="#14f5b2"/><use href="#h1" x="130.2" y="58.4" fill="#14f5b2"/><use href="#h1" x="134.7" y="58.4" fill="#19ee20"/><use href="#h1" x="139.2" y="58.4" fill="#19ee20"/><use href="#h1" x="143.7" y="58.4" fill="#14f5b2"/><use href="#h1" x="148.2" y="58.4" fill="#14f5b2"/><use href="#h1" x="152.6" y="58.4" fill="#0eefcb"/><use href="#h1" x="157.1" y="58.4" fill="#0eefcb"/><use href="#h1" x="161.6" y="58.4" fill="#0eefcb"/><use href="#h1" x="166.1" y="58.4" fill="#14f5b2"/><use href="#h1" x="170.6" y="58.4" fill="#14f5b2"/><use href="#h1" x="175.1" y="58.4" fill="#14f5b2"/><use href="#h1" x="110.0" y="62.3" fill="#19ee20"/><use href="#h1" x="114.5" y="62.3" fill="#19ee20"/><use href="#h1" x="119.0" y="62.3" fill="#19ee20"/><use href="#h1" x="123.5" y="62.3" fill="#19ee20"/><use href="#h1" x="128.0" y="62.3" fill="#19ee20"/><use href="#h1" x="132.5" y="62.3" fill="#19ee20"/><use href="#h1" x="136.9" y="62.3" fill="#19ee20"/><use href="#h1" x="141.4" y="62.3" fill="#19ee20"/><use href="#h1" x="145.9" y="62.3" fill="#14f5b2"/><use href="#h1" x="150.4" y="62.3" fill="#14f5b2"/><use href="#h1" x="154.9" y="62.3" fill="#05e4ea"/><use href="#h1" x="159.4" y="62.3" fill="#05e4ea"/><use href="#h1" x="163.8" y="62.3" fill="#14f5b2"/><use href="#h1" x="168.3" y="62.3" fill="#14f5b2"/><use href="#h1" x="172.8" y="62.3" fill="#19ee20"/><use href="#h1" x="112.3" y="66.2" fill="#19ee20"/><use href="#h1" x="116.8" y="66.2" fill="#19ee20"/><use href="#h1" x="121.3" y="66.2" fill="#19ee20"/><use href="#h1" x="125.7" y="66.2" fill="#19ee20"/><use href="#h1" x="130.2" y="66.2" fill="#19ee20"/><use href="#h1" x="134.7" y="66.2" fill="#19ee20"/><use href="#h1" x="139.2" y="66.2" fill="#19ee20"/><use href="#h1" x="143.7" y="66.2" fill="#19ee20"/><use href="#h1" x="148.2" y="66.2" fill="#19ee20"/><use href="#h1" x="152.6" y="66.2" fill="#14f5b2"/><use href="#h1" x="157.1" y="66.2" fill="#14f5b2"/><use href="#h1" x="161.6" y="66.2" fill="#14f5b2"/><use href="#h1" x="166.1" y="66.2" fill="#19ee20"/><use href="#h1" x="170.6" y="66.2" fill="#19ee20"/><use href="#h1" x="175.1" y="66.2" fill="#19ee20"/><use href="#h1" x="110.0" y="70.1" fill="#14f5b2"/><use href="#h1" x="114.5" y="70.1" fill="#05e4ea"/><use href="#h1" x="119.0" y="70.1" fill="#0f9efc"/><use href="#h1" x="123.5" y="70.1" fill="#05e4ea"/><use href="#h1" x="128.0" y="70.1" fill="#14f5b2"/><use href="#h1" x="132.5" y="70.1" fill="#19ee20"/><use href="#h1" x="136.9" y="70.1" fill="#19ee20"/><use href="#h1" x="141.4" y="70.1" fill="#19ee20"/><use href="#h1" x="145.9" y="70.1" fill="#91f814"/><use href="#h1" x="150.4" y="70.1" fill="#19ee20"/><use href="#h1" x="154.9" y="70.1" fill="#19ee20"/><use href="#h1" x="159.4" y="70.1" fill="#19ee20"/><use href="#h1" x="163.8" y="70.1" fill="#19ee20"/><use href="#h1" x="168.3" y="70.1" fill="#19ee20"/><use href="#h1" x="172.8" y="70.1" fill="#19ee20"/><use href="#h1" x="112.3" y="74.0" fill="#14f5b2"/><use href="#h1" x="116.8" y="74.0" fill="#05e4ea"/><use href="#h1" x="121.3" y="74.0" fill="#05e4ea"/><use href="#h1" x="125.7" y="74.0" fill="#14f5b2"/><use href="#h1" x="130.2" y="74.0" fill="#19ee20"/><use href="#h1" x="134.7" y="74.0" fill="#19ee20"/><use href="#h1" x="139.2" y="74.0" fill="#19ee20"/><use href="#h1" x="143.7" y="74.0" fill="#ff9800"/><use href="#h1" x="148.2" y="74.0" fill="#ff9800"/><use href="#h1" x="152.6" y="74.0" fill="#91f814"/><use href="#h1" x="157.1" y="74.0" fill="#19ee20"/><use href="#h1" x="161.6" y="74.0" fill="#19ee20"/><use href="#h1" x="166.1" y="74.0" fill="#19ee20"/><use href="#h1" x="170.6" y="74.0" fill="#19ee20"/><use href="#h1" x="175.1" y="74.0" fill="#19ee20"/><use href="#h1" x="110.0" y="77.9" fill="#19ee20"/><use href="#h1" x="114.5" y="77.9" fill="#14f5b2"/><use href="#h1" x="119.0" y="77.9" fill="#14f5b2"/><use href="#h1" x="123.5" y="77.9" fill="#14f5b2"/><use href="#h1" x="128.0" y="77.9" fill="#19ee20"/><use href="#h1" x="132.5" y="77.9" fill="#19ee20"/><use href="#h1" x="136.9" y="77.9" fill="#19ee20"/><use href="#h1" x="141.4" y="77.9" fill="#f7f001"/><use href="#h1" x="145.9" y="77.9" fill="#ec120c"/><use href="#h1" x="150.4" y="77.9" fill="#ff9800"/><use href="#h1" x="154.9" y="77.9" fill="#91f814"/><use href="#h1" x="159.4" y="77.9" fill="#19ee20"/><use href="#h1" x="163.8" y="77.9" fill="#19ee20"/><use href="#h1" x="168.3" y="77.9" fill="#19ee20"/><use href="#h1" x="172.8" y="77.9" fill="#19ee20"/><use href="#h1" x="112.3" y="81.8" fill="#91f814"/><use href="#h1" x="116.8" y="81.8" fill="#19ee20"/><use href="#h1" x="121.3" y="81.8" fill="#14f5b2"/><use href="#h1" x="125.7" y="81.8" fill="#14f5b2"/><use href="#h1" x="130.2" y="81.8" fill="#05e4ea"/><use href="#h1" x="134.7" y="81.8" fill="#05e4ea"/><use href="#h1" x="139.2" y="81.8" fill="#19ee20"/><use href="#h1" x="143.7" y="81.8" fill="#ff9800"/><use href="#h1" x="148.2" y="81.8" fill="#ff9800"/><use href="#h1" x="152.6" y="81.8" fill="#91f814"/><use href="#h1" x="157.1" y="81.8" fill="#19ee20"/><use href="#h1" x="161.6" y="81.8" fill="#19ee20"/><use href="#h1" x="166.1" y="81.8" fill="#19ee20"/><use href="#h1" x="170.6" y="81.8" fill="#19ee20"/><use href="#h1" x="175.1" y="81.8" fill="#19ee20"/><use href="#h1" x="110.0" y="85.7" fill="#91f814"/><use href="#h1" x="114.5" y="85.7" fill="#19ee20"/><use href="#h1" x="119.0" y="85.7" fill="#14f5b2"/><use href="#h1" x="123.5" y="85.7" fill="#05e4ea"/><use href="#h1" x="128.0" y="85.7" fill="#05e4ea"/><use href="#h1" x="132.5" y="85.7" fill="#05e4ea"/><use href="#h1" x="136.9" y="85.7" fill="#14f5b2"/><use href="#h1" x="141.4" y="85.7" fill="#19ee20"/><use href="#h1" x="145.9" y="85.7" fill="#f7f001"/><use href="#h1" x="150.4" y="85.7" fill="#f7f001"/><use href="#h1" x="154.9" y="85.7" fill="#91f814"/><use href="#h1" x="159.4" y="85.7" fill="#f7f001"/><use href="#h1" x="163.8" y="85.7" fill="#19ee20"/><use href="#h1" x="168.3" y="85.7" fill="#19ee20"/><use href="#h1" x="172.8" y="85.7" fill="#19ee20"/><use href="#h1" x="112.3" y="89.6" fill="#19ee20"/><use href="#h1" x="116.8" y="89.6" fill="#19ee20"/><use href="#h1" x="121.3" y="89.6" fill="#05e4ea"/><use href="#h1" x="125.7" y="89.6" fill="#05e4ea"/><use href="#h1" x="130.2" y="89.6" fill="#05e4ea"/><use href="#h1" x="134.7" y="89.6" fill="#05e4ea"/><use href="#h1" x="139.2" y="89.6" fill="#19ee20"/><use href="#h1" x="143.7" y="89.6" fill="#19ee20"/><use href="#h1" x="148.2" y="89.6" fill="#91f814"/><use href="#h1" x="152.6" y="89.6" fill="#f7f001"/><use href="#h1" x="157.1" y="89.6" fill="#91f814"/><use href="#h1" x="161.6" y="89.6" fill="#91f814"/><use href="#h1" x="166.1" y="89.6" fill="#19ee20"/><use href="#h1" x="170.6" y="89.6" fill="#19ee20"/><use href="#h1" x="175.1" y="89.6" fill="#19ee20"/></g>
<rect x="106.8" y="11.8" width="71.5" height="81.4" fill="url(#d1)"/>
<rect x="104.20" y="13.40" width="1.4" height="78.80" fill="url(#cbg)"/>
<rect x="104.20" y="13.40" width="1.4" height="78.80" fill="#707080" fill-opacity="0.18"/>
<text x="142.0" y="11.4" class="t" font-size="6.46" text-anchor="middle" textLength="14.1" lengthAdjust="spacingAndGlyphs">COD</text>
<text x="102.5" y="26.3" class="k" font-size="6.53" text-anchor="end" textLength="3.3" lengthAdjust="spacingAndGlyphs">8</text>
<text x="102.5" y="42.9" class="k" font-size="6.53" text-anchor="end" textLength="3.3" lengthAdjust="spacingAndGlyphs">7</text>
<text x="102.5" y="60.1" class="k" font-size="6.53" text-anchor="end" textLength="3.3" lengthAdjust="spacingAndGlyphs">6</text>
<text x="102.5" y="76.7" class="k" font-size="6.53" text-anchor="end" textLength="3.3" lengthAdjust="spacingAndGlyphs">5</text>
<text x="102.5" y="92.9" class="k" font-size="6.53" text-anchor="end" textLength="3.3" lengthAdjust="spacingAndGlyphs">4</text>
<g stroke="#454550" stroke-opacity="0.33" stroke-width="0.6" stroke-linejoin="round"><use href="#h2" x="203.8" y="15.3" fill="#19ee20"/><use href="#h2" x="208.1" y="15.3" fill="#19ee20"/><use href="#h2" x="212.5" y="15.3" fill="#19ee20"/><use href="#h2" x="216.9" y="15.3" fill="#14f5b2"/><use href="#h2" x="221.2" y="15.3" fill="#05e4ea"/><use href="#h2" x="225.6" y="15.3" fill="#05e4ea"/><use href="#h2" x="229.9" y="15.3" fill="#05e4ea"/><use href="#h2" x="234.3" y="15.3" fill="#0f9efc"/><use href="#h2" x="238.7" y="15.3" fill="#0f9efc"/><use href="#h2" x="243.0" y="15.3" fill="#0f9efc"/><use href="#h2" x="247.4" y="15.3" fill="#05e4ea"/><use href="#h2" x="251.8" y="15.3" fill="#05e4ea"/><use href="#h2" x="256.1" y="15.3" fill="#000ee8"/><use href="#h2" x="260.5" y="15.3" fill="#000ee8"/><use href="#h2" x="264.8" y="15.3" fill="#000ee8"/><use href="#h2" x="206.0" y="19.0" fill="#19ee20"/><use href="#h2" x="210.3" y="19.0" fill="#19ee20"/><use href="#h2" x="214.7" y="19.0" fill="#14f5b2"/><use href="#h2" x="219.0" y="19.0" fill="#05e4ea"/><use href="#h2" x="223.4" y="19.0" fill="#05e4ea"/><use href="#h2" x="227.8" y="19.0" fill="#05e4ea"/><use href="#h2" x="232.1" y="19.0" fill="#05e4ea"/><use href="#h2" x="236.5" y="19.0" fill="#05e4ea"/><use href="#h2" x="240.9" y="19.0" fill="#05e4ea"/><use href="#h2" x="245.2" y="19.0" fill="#05e4ea"/><use href="#h2" x="249.6" y="19.0" fill="#19ee20"/><use href="#h2" x="253.9" y="19.0" fill="#14f5b2"/><use href="#h2" x="258.3" y="19.0" fill="#000ee8"/><use href="#h2" x="262.7" y="19.0" fill="#000ee8"/><use href="#h2" x="267.0" y="19.0" fill="#000ee8"/><use href="#h2" x="203.8" y="22.6" fill="#19ee20"/><use href="#h2" x="208.1" y="22.6" fill="#19ee20"/><use href="#h2" x="212.5" y="22.6" fill="#05e4ea"/><use href="#h2" x="216.9" y="22.6" fill="#05e4ea"/><use href="#h2" x="221.2" y="22.6" fill="#14f5b2"/><use href="#h2" x="225.6" y="22.6" fill="#14f5b2"/><use href="#h2" x="229.9" y="22.6" fill="#14f5b2"/><use href="#h2" x="234.3" y="22.6" fill="#14f5b2"/><use href="#h2" x="238.7" y="22.6" fill="#14f5b2"/><use href="#h2" x="243.0" y="22.6" fill="#14f5b2"/><use href="#h2" x="247.4" y="22.6" fill="#19ee20"/><use href="#h2" x="251.8" y="22.6" fill="#19ee20"/><use href="#h2" x="256.1" y="22.6" fill="#14f5b2"/><use href="#h2" x="260.5" y="22.6" fill="#05e4ea"/><use href="#h2" x="264.8" y="22.6" fill="#05e4ea"/><use href="#h2" x="206.0" y="26.3" fill="#19ee20"/><use href="#h2" x="210.3" y="26.3" fill="#14f5b2"/><use href="#h2" x="214.7" y="26.3" fill="#14f5b2"/><use href="#h2" x="219.0" y="26.3" fill="#19ee20"/><use href="#h2" x="223.4" y="26.3" fill="#19ee20"/><use href="#h2" x="227.8" y="26.3" fill="#19ee20"/><use href="#h2" x="232.1" y="26.3" fill="#14f5b2"/><use href="#h2" x="236.5" y="26.3" fill="#14f5b2"/><use href="#h2" x="240.9" y="26.3" fill="#14f5b2"/><use href="#h2" x="245.2" y="26.3" fill="#19ee20"/><use href="#h2" x="249.6" y="26.3" fill="#19ee20"/><use href="#h2" x="253.9" y="26.3" fill="#19ee20"/><use href="#h2" x="258.3" y="26.3" fill="#14f5b2"/><use href="#h2" x="262.7" y="26.3" fill="#14f5b2"/><use href="#h2" x="267.0" y="26.3" fill="#05e4ea"/><use href="#h2" x="203.8" y="30.0" fill="#19ee20"/><use href="#h2" x="208.1" y="30.0" fill="#19ee20"/><use href="#h2" x="212.5" y="30.0" fill="#91f814"/><use href="#h2" x="216.9" y="30.0" fill="#91f814"/><use href="#h2" x="221.2" y="30.0" fill="#91f814"/><use href="#h2" x="225.6" y="30.0" fill="#f7f001"/><use href="#h2" x="229.9" y="30.0" fill="#19ee20"/><use href="#h2" x="234.3" y="30.0" fill="#19ee20"/><use href="#h2" x="238.7" y="30.0" fill="#14f5b2"/><use href="#h2" x="243.0" y="30.0" fill="#19ee20"/><use href="#h2" x="247.4" y="30.0" fill="#19ee20"/><use href="#h2" x="251.8" y="30.0" fill="#19ee20"/><use href="#h2" x="256.1" y="30.0" fill="#19ee20"/><use href="#h2" x="260.5" y="30.0" fill="#14f5b2"/><use href="#h2" x="264.8" y="30.0" fill="#14f5b2"/><use href="#h2" x="206.0" y="33.7" fill="#91f814"/><use href="#h2" x="210.3" y="33.7" fill="#ff9800"/><use href="#h2" x="214.7" y="33.7" fill="#ff9800"/><use href="#h2" x="219.0" y="33.7" fill="#f7f001"/><use href="#h2" x="223.4" y="33.7" fill="#91f814"/><use href="#h2" x="227.8" y="33.7" fill="#19ee20"/><use href="#h2" x="232.1" y="33.7" fill="#19ee20"/><use href="#h2" x="236.5" y="33.7" fill="#19ee20"/><use href="#h2" x="240.9" y="33.7" fill="#19ee20"/><use href="#h2" x="245.2" y="33.7" fill="#19ee20"/><use href="#h2" x="249.6" y="33.7" fill="#19ee20"/><use href="#h2" x="253.9" y="33.7" fill="#19ee20"/><use href="#h2" x="258.3" y="33.7" fill="#19ee20"/><use href="#h2" x="262.7" y="33.7" fill="#14f5b2"/><use href="#h2" x="267.0" y="33.7" fill="#14f5b2"/><use href="#h2" x="203.8" y="37.4" fill="#19ee20"/><use href="#h2" x="208.1" y="37.4" fill="#ec120c"/><use href="#h2" x="212.5" y="37.4" fill="#ff3f05"/><use href="#h2" x="216.9" y="37.4" fill="#f7f001"/><use href="#h2" x="221.2" y="37.4" fill="#91f814"/><use href="#h2" x="225.6" y="37.4" fill="#19ee20"/><use href="#h2" x="229.9" y="37.4" fill="#19ee20"/><use href="#h2" x="234.3" y="37.4" fill="#19ee20"/><use href="#h2" x="238.7" y="37.4" fill="#19ee20"/><use href="#h2" x="243.0" y="37.4" fill="#91f814"/><use href="#h2" x="247.4" y="37.4" fill="#19ee20"/><use href="#h2" x="251.8" y="37.4" fill="#19ee20"/><use href="#h2" x="256.1" y="37.4" fill="#19ee20"/><use href="#h2" x="260.5" y="37.4" fill="#05e4ea"/><use href="#h2" x="264.8" y="37.4" fill="#05e4ea"/><use href="#h2" x="206.0" y="41.1" fill="#91f814"/><use href="#h2" x="210.3" y="41.1" fill="#91f814"/><use href="#h2" x="214.7" y="41.1" fill="#19ee20"/><use href="#h2" x="219.0" y="41.1" fill="#05e4ea"/><use href="#h2" x="223.4" y="41.1" fill="#05e4ea"/><use href="#h2" x="227.8" y="41.1" fill="#14f5b2"/><use href="#h2" x="232.1" y="41.1" fill="#19ee20"/><use href="#h2" x="236.5" y="41.1" fill="#19ee20"/><use href="#h2" x="240.9" y="41.1" fill="#91f814"/><use href="#h2" x="245.2" y="41.1" fill="#f7f001"/><use href="#h2" x="249.6" y="41.1" fill="#91f814"/><use href="#h2" x="253.9" y="41.1" fill="#19ee20"/><use href="#h2" x="258.3" y="41.1" fill="#14f5b2"/><use href="#h2" x="262.7" y="41.1" fill="#05e4ea"/><use href="#h2" x="267.0" y="41.1" fill="#14f5b2"/><use href="#h2" x="203.8" y="44.8" fill="#19ee20"/><use href="#h2" x="208.1" y="44.8" fill="#14f5b2"/><use href="#h2" x="212.5" y="44.8" fill="#0f9efc"/><use href="#h2" x="216.9" y="44.8" fill="#0863ff"/><use href="#h2" x="221.2" y="44.8" fill="#0863ff"/><use href="#h2" x="225.6" y="44.8" fill="#0f9efc"/><use href="#h2" x="229.9" y="44.8" fill="#19ee20"/><use href="#h2" x="234.3" y="44.8" fill="#19ee20"/><use href="#h2" x="238.7" y="44.8" fill="#91f814"/><use href="#h2" x="243.0" y="44.8" fill="#f7f001"/><use href="#h2" x="247.4" y="44.8" fill="#f7f001"/><use href="#h2" x="251.8" y="44.8" fill="#91f814"/><use href="#h2" x="256.1" y="44.8" fill="#19ee20"/><use href="#h2" x="260.5" y="44.8" fill="#14f5b2"/><use href="#h2" x="264.8" y="44.8" fill="#14f5b2"/><use href="#h2" x="206.0" y="48.5" fill="#05e4ea"/><use href="#h2" x="210.3" y="48.5" fill="#0f9efc"/><use href="#h2" x="214.7" y="48.5" fill="#0863ff"/><use href="#h2" x="219.0" y="48.5" fill="#0f9efc"/><use href="#h2" x="223.4" y="48.5" fill="#0f9efc"/><use href="#h2" x="227.8" y="48.5" fill="#14f5b2"/><use href="#h2" x="232.1" y="48.5" fill="#19ee20"/><use href="#h2" x="236.5" y="48.5" fill="#91f814"/><use href="#h2" x="240.9" y="48.5" fill="#f7f001"/><use href="#h2" x="245.2" y="48.5" fill="#f7f001"/><use href="#h2" x="249.6" y="48.5" fill="#f7f001"/><use href="#h2" x="253.9" y="48.5" fill="#91f814"/><use href="#h2" x="258.3" y="48.5" fill="#19ee20"/><use href="#h2" x="262.7" y="48.5" fill="#19ee20"/><use href="#h2" x="267.0" y="48.5" fill="#14f5b2"/><use href="#h2" x="203.8" y="52.2" fill="#0f9efc"/><use href="#h2" x="208.1" y="52.2" fill="#0f9efc"/><use href="#h2" x="212.5" y="52.2" fill="#0f9efc"/><use href="#h2" x="216.9" y="52.2" fill="#0863ff"/><use href="#h2" x="221.2" y="52.2" fill="#0f9efc"/><use href="#h2" x="225.6" y="52.2" fill="#05e4ea"/><use href="#h2" x="229.9" y="52.2" fill="#19ee20"/><use href="#h2" x="234.3" y="52.2" fill="#19ee20"/><use href="#h2" x="238.7" y="52.2" fill="#91f814"/><use href="#h2" x="243.0" y="52.2" fill="#f7f001"/><use href="#h2" x="247.4" y="52.2" fill="#f7f001"/><use href="#h2" x="251.8" y="52.2" fill="#91f814"/><use href="#h2" x="256.1" y="52.2" fill="#91f814"/><use href="#h2" x="260.5" y="52.2" fill="#f7f001"/><use href="#h2" x="264.8" y="52.2" fill="#91f814"/><use href="#h2" x="206.0" y="55.9" fill="#0f9efc"/><use href="#h2" x="210.3" y="55.9" fill="#05e4ea"/><use href="#h2" x="214.7" y="55.9" fill="#05e4ea"/><use href="#h2" x="219.0" y="55.9" fill="#05e4ea"/><use href="#h2" x="223.4" y="55.9" fill="#05e4ea"/><use href="#h2" x="227.8" y="55.9" fill="#14f5b2"/><use href="#h2" x="232.1" y="55.9" fill="#19ee20"/><use href="#h2" x="236.5" y="55.9" fill="#19ee20"/><use href="#h2" x="240.9" y="55.9" fill="#19ee20"/><use href="#h2" x="245.2" y="55.9" fill="#91f814"/><use href="#h2" x="249.6" y="55.9" fill="#91f814"/><use href="#h2" x="253.9" y="55.9" fill="#19ee20"/><use href="#h2" x="258.3" y="55.9" fill="#19ee20"/><use href="#h2" x="262.7" y="55.9" fill="#f7f001"/><use href="#h2" x="267.0" y="55.9" fill="#91f814"/><use href="#h2" x="203.8" y="59.6" fill="#0f9efc"/><use href="#h2" x="208.1" y="59.6" fill="#0f9efc"/><use href="#h2" x="212.5" y="59.6" fill="#05e4ea"/><use href="#h2" x="216.9" y="59.6" fill="#05e4ea"/><use href="#h2" x="221.2" y="59.6" fill="#05e4ea"/><use href="#h2" x="225.6" y="59.6" fill="#14f5b2"/><use href="#h2" x="229.9" y="59.6" fill="#19ee20"/><use href="#h2" x="234.3" y="59.6" fill="#19ee20"/><use href="#h2" x="238.7" y="59.6" fill="#14f5b2"/><use href="#h2" x="243.0" y="59.6" fill="#19ee20"/><use href="#h2" x="247.4" y="59.6" fill="#19ee20"/><use href="#h2" x="251.8" y="59.6" fill="#19ee20"/><use href="#h2" x="256.1" y="59.6" fill="#19ee20"/><use href="#h2" x="260.5" y="59.6" fill="#19ee20"/><use href="#h2" x="264.8" y="59.6" fill="#19ee20"/><use href="#h2" x="206.0" y="63.3" fill="#0f9efc"/><use href="#h2" x="210.3" y="63.3" fill="#0f9efc"/><use href="#h2" x="214.7" y="63.3" fill="#05e4ea"/><use href="#h2" x="219.0" y="63.3" fill="#05e4ea"/><use href="#h2" x="223.4" y="63.3" fill="#14f5b2"/><use href="#h2" x="227.8" y="63.3" fill="#14f5b2"/><use href="#h2" x="232.1" y="63.3" fill="#19ee20"/><use href="#h2" x="236.5" y="63.3" fill="#14f5b2"/><use href="#h2" x="240.9" y="63.3" fill="#19ee20"/><use href="#h2" x="245.2" y="63.3" fill="#19ee20"/><use href="#h2" x="249.6" y="63.3" fill="#19ee20"/><use href="#h2" x="253.9" y="63.3" fill="#19ee20"/><use href="#h2" x="258.3" y="63.3" fill="#19ee20"/><use href="#h2" x="262.7" y="63.3" fill="#19ee20"/><use href="#h2" x="267.0" y="63.3" fill="#19ee20"/><use href="#h2" x="203.8" y="67.0" fill="#05e4ea"/><use href="#h2" x="208.1" y="67.0" fill="#0f9efc"/><use href="#h2" x="212.5" y="67.0" fill="#0863ff"/><use href="#h2" x="216.9" y="67.0" fill="#05e4ea"/><use href="#h2" x="221.2" y="67.0" fill="#05e4ea"/><use href="#h2" x="225.6" y="67.0" fill="#14f5b2"/><use href="#h2" x="229.9" y="67.0" fill="#14f5b2"/><use href="#h2" x="234.3" y="67.0" fill="#14f5b2"/><use href="#h2" x="238.7" y="67.0" fill="#19ee20"/><use href="#h2" x="243.0" y="67.0" fill="#19ee20"/><use href="#h2" x="247.4" y="67.0" fill="#19ee20"/><use href="#h2" x="251.8" y="67.0" fill="#19ee20"/><use href="#h2" x="256.1" y="67.0" fill="#14f5b2"/><use href="#h2" x="260.5" y="67.0" fill="#19ee20"/><use href="#h2" x="264.8" y="67.0" fill="#19ee20"/><use href="#h2" x="206.0" y="70.7" fill="#19ee20"/><use href="#h2" x="210.3" y="70.7" fill="#19ee20"/><use href="#h2" x="214.7" y="70.7" fill="#19ee20"/><use href="#h2" x="219.0" y="70.7" fill="#19ee20"/><use href="#h2" x="223.4" y="70.7" fill="#14f5b2"/><use href="#h2" x="227.8" y="70.7" fill="#14f5b2"/><use href="#h2" x="232.1" y="70.7" fill="#14f5b2"/><use href="#h2" x="236.5" y="70.7" fill="#14f5b2"/><use href="#h2" x="240.9" y="70.7" fill="#19ee20"/><use href="#h2" x="245.2" y="70.7" fill="#19ee20"/><use href="#h2" x="249.6" y="70.7" fill="#19ee20"/><use href="#h2" x="253.9" y="70.7" fill="#19ee20"/><use href="#h2" x="258.3" y="70.7" fill="#19ee20"/><use href="#h2" x="262.7" y="70.7" fill="#19ee20"/><use href="#h2" x="267.0" y="70.7" fill="#19ee20"/><use href="#h2" x="203.8" y="74.4" fill="#19ee20"/><use href="#h2" x="208.1" y="74.4" fill="#f7f001"/><use href="#h2" x="212.5" y="74.4" fill="#ff3f05"/><use href="#h2" x="216.9" y="74.4" fill="#ff9800"/><use href="#h2" x="221.2" y="74.4" fill="#f7f001"/><use href="#h2" x="225.6" y="74.4" fill="#19ee20"/><use href="#h2" x="229.9" y="74.4" fill="#19ee20"/><use href="#h2" x="234.3" y="74.4" fill="#19ee20"/><use href="#h2" x="238.7" y="74.4" fill="#19ee20"/><use href="#h2" x="243.0" y="74.4" fill="#19ee20"/><use href="#h2" x="247.4" y="74.4" fill="#14f5b2"/><use href="#h2" x="251.8" y="74.4" fill="#19ee20"/><use href="#h2" x="256.1" y="74.4" fill="#19ee20"/><use href="#h2" x="260.5" y="74.4" fill="#19ee20"/><use href="#h2" x="264.8" y="74.4" fill="#19ee20"/><use href="#h2" x="206.0" y="78.1" fill="#91f814"/><use href="#h2" x="210.3" y="78.1" fill="#f7f001"/><use href="#h2" x="214.7" y="78.1" fill="#ff3f05"/><use href="#h2" x="219.0" y="78.1" fill="#ff9800"/><use href="#h2" x="223.4" y="78.1" fill="#ff3f05"/><use href="#h2" x="227.8" y="78.1" fill="#f7f001"/><use href="#h2" x="232.1" y="78.1" fill="#19ee20"/><use href="#h2" x="236.5" y="78.1" fill="#19ee20"/><use href="#h2" x="240.9" y="78.1" fill="#19ee20"/><use href="#h2" x="245.2" y="78.1" fill="#19ee20"/><use href="#h2" x="249.6" y="78.1" fill="#14f5b2"/><use href="#h2" x="253.9" y="78.1" fill="#14f5b2"/><use href="#h2" x="258.3" y="78.1" fill="#19ee20"/><use href="#h2" x="262.7" y="78.1" fill="#19ee20"/><use href="#h2" x="267.0" y="78.1" fill="#19ee20"/><use href="#h2" x="203.8" y="81.7" fill="#19ee20"/><use href="#h2" x="208.1" y="81.7" fill="#f7f001"/><use href="#h2" x="212.5" y="81.7" fill="#ff9800"/><use href="#h2" x="216.9" y="81.7" fill="#f7f001"/><use href="#h2" x="221.2" y="81.7" fill="#f7f001"/><use href="#h2" x="225.6" y="81.7" fill="#ff3f05"/><use href="#h2" x="229.9" y="81.7" fill="#91f814"/><use href="#h2" x="234.3" y="81.7" fill="#19ee20"/><use href="#h2" x="238.7" y="81.7" fill="#19ee20"/><use href="#h2" x="243.0" y="81.7" fill="#14f5b2"/><use href="#h2" x="247.4" y="81.7" fill="#05e4ea"/><use href="#h2" x="251.8" y="81.7" fill="#0f9efc"/><use href="#h2" x="256.1" y="81.7" fill="#05e4ea"/><use href="#h2" x="260.5" y="81.7" fill="#14f5b2"/><use href="#h2" x="264.8" y="81.7" fill="#14f5b2"/><use href="#h2" x="206.0" y="85.4" fill="#91f814"/><use href="#h2" x="210.3" y="85.4" fill="#ff3f05"/><use href="#h2" x="214.7" y="85.4" fill="#f7f001"/><use href="#h2" x="219.0" y="85.4" fill="#91f814"/><use href="#h2" x="223.4" y="85.4" fill="#91f814"/><use href="#h2" x="227.8" y="85.4" fill="#19ee20"/><use href="#h2" x="232.1" y="85.4" fill="#19ee20"/><use href="#h2" x="236.5" y="85.4" fill="#14f5b2"/><use href="#h2" x="240.9" y="85.4" fill="#05e4ea"/><use href="#h2" x="245.2" y="85.4" fill="#05e4ea"/><use href="#h2" x="249.6" y="85.4" fill="#0f9efc"/><use href="#h2" x="253.9" y="85.4" fill="#0f9efc"/><use href="#h2" x="258.3" y="85.4" fill="#05e4ea"/><use href="#h2" x="262.7" y="85.4" fill="#05e4ea"/><use href="#h2" x="267.0" y="85.4" fill="#05e4ea"/></g>
<rect x="200.6" y="11.8" width="69.6" height="77.1" fill="url(#d2)"/>
<rect x="198.50" y="13.40" width="1.4" height="74.50" fill="url(#cbg)"/>
<rect x="198.50" y="13.40" width="1.4" height="74.50" fill="#707080" fill-opacity="0.18"/>
<text x="234.2" y="11.3" class="t" font-size="6.90" text-anchor="middle" textLength="8.3" lengthAdjust="spacingAndGlyphs">TN</text>
<text x="197.2" y="25.7" class="k" font-size="6.35" text-anchor="end" textLength="8.1" lengthAdjust="spacingAndGlyphs">2.2</text>
<text x="197.2" y="36.7" class="k" font-size="6.35" text-anchor="end" textLength="8.1" lengthAdjust="spacingAndGlyphs">2.0</text>
<text x="197.2" y="48.3" class="k" font-size="6.35" text-anchor="end" textLength="8.1" lengthAdjust="spacingAndGlyphs">1.8</text>
<text x="197.2" y="59.2" class="k" font-size="6.35" text-anchor="end" textLength="8.1" lengthAdjust="spacingAndGlyphs">1.6</text>
<text x="197.2" y="69.5" class="k" font-size="6.35" text-anchor="end" textLength="8.1" lengthAdjust="spacingAndGlyphs">1.4</text>
<text x="197.2" y="79.8" class="k" font-size="6.35" text-anchor="end" textLength="8.1" lengthAdjust="spacingAndGlyphs">1.2</text>
<g stroke="#454550" stroke-opacity="0.33" stroke-width="0.6" stroke-linejoin="round"><use href="#h3" x="297.9" y="14.9" fill="#05e4ea"/><use href="#h3" x="302.1" y="14.9" fill="#05e4ea"/><use href="#h3" x="306.4" y="14.9" fill="#0f9efc"/><use href="#h3" x="310.6" y="14.9" fill="#0f9efc"/><use href="#h3" x="314.8" y="14.9" fill="#0f9efc"/><use href="#h3" x="319.1" y="14.9" fill="#0f9efc"/><use href="#h3" x="323.3" y="14.9" fill="#05e4ea"/><use href="#h3" x="327.5" y="14.9" fill="#05e4ea"/><use href="#h3" x="331.8" y="14.9" fill="#05e4ea"/><use href="#h3" x="336.0" y="14.9" fill="#05e4ea"/><use href="#h3" x="340.2" y="14.9" fill="#05e4ea"/><use href="#h3" x="344.5" y="14.9" fill="#05e4ea"/><use href="#h3" x="348.7" y="14.9" fill="#0863ff"/><use href="#h3" x="352.9" y="14.9" fill="#0863ff"/><use href="#h3" x="357.2" y="14.9" fill="#0f9efc"/><use href="#h3" x="300.0" y="18.5" fill="#14f5b2"/><use href="#h3" x="304.3" y="18.5" fill="#0f9efc"/><use href="#h3" x="308.5" y="18.5" fill="#0f9efc"/><use href="#h3" x="312.7" y="18.5" fill="#0f9efc"/><use href="#h3" x="317.0" y="18.5" fill="#0f9efc"/><use href="#h3" x="321.2" y="18.5" fill="#0f9efc"/><use href="#h3" x="325.4" y="18.5" fill="#05e4ea"/><use href="#h3" x="329.7" y="18.5" fill="#05e4ea"/><use href="#h3" x="333.9" y="18.5" fill="#14f5b2"/><use href="#h3" x="338.1" y="18.5" fill="#19ee20"/><use href="#h3" x="342.4" y="18.5" fill="#14f5b2"/><use href="#h3" x="346.6" y="18.5" fill="#05e4ea"/><use href="#h3" x="350.8" y="18.5" fill="#000ee8"/><use href="#h3" x="355.1" y="18.5" fill="#042bfc"/><use href="#h3" x="359.3" y="18.5" fill="#0863ff"/><use href="#h3" x="297.9" y="22.2" fill="#19ee20"/><use href="#h3" x="302.1" y="22.2" fill="#14f5b2"/><use href="#h3" x="306.4" y="22.2" fill="#0f9efc"/><use href="#h3" x="310.6" y="22.2" fill="#0f9efc"/><use href="#h3" x="314.8" y="22.2" fill="#0f9efc"/><use href="#h3" x="319.1" y="22.2" fill="#0eefcb"/><use href="#h3" x="323.3" y="22.2" fill="#0eefcb"/><use href="#h3" x="327.5" y="22.2" fill="#14f5b2"/><use href="#h3" x="331.8" y="22.2" fill="#14f5b2"/><use href="#h3" x="336.0" y="22.2" fill="#14f5b2"/><use href="#h3" x="340.2" y="22.2" fill="#19ee20"/><use href="#h3" x="344.5" y="22.2" fill="#19ee20"/><use href="#h3" x="348.7" y="22.2" fill="#0f9efc"/><use href="#h3" x="352.9" y="22.2" fill="#000ee8"/><use href="#h3" x="357.2" y="22.2" fill="#042bfc"/><use href="#h3" x="300.0" y="25.8" fill="#0eefcb"/><use href="#h3" x="304.3" y="25.8" fill="#042bfc"/><use href="#h3" x="308.5" y="25.8" fill="#0eefcb"/><use href="#h3" x="312.7" y="25.8" fill="#0eefcb"/><use href="#h3" x="317.0" y="25.8" fill="#14f5b2"/><use href="#h3" x="321.2" y="25.8" fill="#14f5b2"/><use href="#h3" x="325.4" y="25.8" fill="#19ee20"/><use href="#h3" x="329.7" y="25.8" fill="#19ee20"/><use href="#h3" x="333.9" y="25.8" fill="#19ee20"/><use href="#h3" x="338.1" y="25.8" fill="#19ee20"/><use href="#h3" x="342.4" y="25.8" fill="#19ee20"/><use href="#h3" x="346.6" y="25.8" fill="#19ee20"/><use href="#h3" x="350.8" y="25.8" fill="#14f5b2"/><use href="#h3" x="355.1" y="25.8" fill="#0eefcb"/><use href="#h3" x="359.3" y="25.8" fill="#0eefcb"/><use href="#h3" x="297.9" y="29.4" fill="#000ee8"/><use href="#h3" x="302.1" y="29.4" fill="#000ee8"/><use href="#h3" x="306.4" y="29.4" fill="#0eefcb"/><use href="#h3" x="310.6" y="29.4" fill="#0eefcb"/><use href="#h3" x="314.8" y="29.4" fill="#14f5b2"/><use href="#h3" x="319.1" y="29.4" fill="#19ee20"/><use href="#h3" x="323.3" y="29.4" fill="#19ee20"/><use href="#h3" x="327.5" y="29.4" fill="#19ee20"/><use href="#h3" x="331.8" y="29.4" fill="#19ee20"/><use href="#h3" x="336.0" y="29.4" fill="#19ee20"/><use href="#h3" x="340.2" y="29.4" fill="#19ee20"/><use href="#h3" x="344.5" y="29.4" fill="#19ee20"/><use href="#h3" x="348.7" y="29.4" fill="#19ee20"/><use href="#h3" x="352.9" y="29.4" fill="#14f5b2"/><use href="#h3" x="357.2" y="29.4" fill="#0eefcb"/><use href="#h3" x="300.0" y="33.0" fill="#000ee8"/><use href="#h3" x="304.3" y="33.0" fill="#0f9efc"/><use href="#h3" x="308.5" y="33.0" fill="#0eefcb"/><use href="#h3" x="312.7" y="33.0" fill="#14f5b2"/><use href="#h3" x="317.0" y="33.0" fill="#19ee20"/><use href="#h3" x="321.2" y="33.0" fill="#19ee20"/><use href="#h3" x="325.4" y="33.0" fill="#19ee20"/><use href="#h3" x="329.7" y="33.0" fill="#19ee20"/><use href="#h3" x="333.9" y="33.0" fill="#19ee20"/><use href="#h3" x="338.1" y="33.0" fill="#19ee20"/><use href="#h3" x="342.4" y="33.0" fill="#91f814"/><use href="#h3" x="346.6" y="33.0" fill="#19ee20"/><use href="#h3" x="350.8" y="33.0" fill="#19ee20"/><use href="#h3" x="355.1" y="33.0" fill="#14f5b2"/><use href="#h3" x="359.3" y="33.0" fill="#0eefcb"/><use href="#h3" x="297.9" y="36.6" fill="#0863ff"/><use href="#h3" x="302.1" y="36.6" fill="#0eefcb"/><use href="#h3" x="306.4" y="36.6" fill="#0eefcb"/><use href="#h3" x="310.6" y="36.6" fill="#14f5b2"/><use href="#h3" x="314.8" y="36.6" fill="#14f5b2"/><use href="#h3" x="319.1" y="36.6" fill="#19ee20"/><use href="#h3" x="323.3" y="36.6" fill="#19ee20"/><use href="#h3" x="327.5" y="36.6" fill="#19ee20"/><use href="#h3" x="331.8" y="36.6" fill="#19ee20"/><use href="#h3" x="336.0" y="36.6" fill="#91f814"/><use href="#h3" x="340.2" y="36.6" fill="#f7f001"/><use href="#h3" x="344.5" y="36.6" fill="#f7f001"/><use href="#h3" x="348.7" y="36.6" fill="#91f814"/><use href="#h3" x="352.9" y="36.6" fill="#19ee20"/><use href="#h3" x="357.2" y="36.6" fill="#14f5b2"/><use href="#h3" x="300.0" y="40.3" fill="#0eefcb"/><use href="#h3" x="304.3" y="40.3" fill="#0eefcb"/><use href="#h3" x="308.5" y="40.3" fill="#0eefcb"/><use href="#h3" x="312.7" y="40.3" fill="#0eefcb"/><use href="#h3" x="317.0" y="40.3" fill="#14f5b2"/><use href="#h3" x="321.2" y="40.3" fill="#19ee20"/><use href="#h3" x="325.4" y="40.3" fill="#19ee20"/><use href="#h3" x="329.7" y="40.3" fill="#91f814"/><use href="#h3" x="333.9" y="40.3" fill="#f7f001"/><use href="#h3" x="338.1" y="40.3" fill="#ff9800"/><use href="#h3" x="342.4" y="40.3" fill="#ff3f05"/><use href="#h3" x="346.6" y="40.3" fill="#ff9800"/><use href="#h3" x="350.8" y="40.3" fill="#f7f001"/><use href="#h3" x="355.1" y="40.3" fill="#19ee20"/><use href="#h3" x="359.3" y="40.3" fill="#14f5b2"/><use href="#h3" x="297.9" y="43.9" fill="#0eefcb"/><use href="#h3" x="302.1" y="43.9" fill="#0eefcb"/><use href="#h3" x="306.4" y="43.9" fill="#0eefcb"/><use href="#h3" x="310.6" y="43.9" fill="#0f9efc"/><use href="#h3" x="314.8" y="43.9" fill="#0f9efc"/><use href="#h3" x="319.1" y="43.9" fill="#14f5b2"/><use href="#h3" x="323.3" y="43.9" fill="#19ee20"/><use href="#h3" x="327.5" y="43.9" fill="#91f814"/><use href="#h3" x="331.8" y="43.9" fill="#f7f001"/><use href="#h3" x="336.0" y="43.9" fill="#ff3f05"/><use href="#h3" x="340.2" y="43.9" fill="#ec120c"/><use href="#h3" x="344.5" y="43.9" fill="#ec120c"/><use href="#h3" x="348.7" y="43.9" fill="#ff3f05"/><use href="#h3" x="352.9" y="43.9" fill="#91f814"/><use href="#h3" x="357.2" y="43.9" fill="#19ee20"/><use href="#h3" x="300.0" y="47.5" fill="#0eefcb"/><use href="#h3" x="304.3" y="47.5" fill="#0eefcb"/><use href="#h3" x="308.5" y="47.5" fill="#0eefcb"/><use href="#h3" x="312.7" y="47.5" fill="#0f9efc"/><use href="#h3" x="317.0" y="47.5" fill="#0863ff"/><use href="#h3" x="321.2" y="47.5" fill="#19ee20"/><use href="#h3" x="325.4" y="47.5" fill="#91f814"/><use href="#h3" x="329.7" y="47.5" fill="#ff9800"/><use href="#h3" x="333.9" y="47.5" fill="#ec120c"/><use href="#h3" x="338.1" y="47.5" fill="#ec120c"/><use href="#h3" x="342.4" y="47.5" fill="#ec120c"/><use href="#h3" x="346.6" y="47.5" fill="#ff3f05"/><use href="#h3" x="350.8" y="47.5" fill="#ff9800"/><use href="#h3" x="355.1" y="47.5" fill="#91f814"/><use href="#h3" x="359.3" y="47.5" fill="#19ee20"/><use href="#h3" x="297.9" y="51.1" fill="#0eefcb"/><use href="#h3" x="302.1" y="51.1" fill="#0eefcb"/><use href="#h3" x="306.4" y="51.1" fill="#0eefcb"/><use href="#h3" x="310.6" y="51.1" fill="#0eefcb"/><use href="#h3" x="314.8" y="51.1" fill="#0eefcb"/><use href="#h3" x="319.1" y="51.1" fill="#14f5b2"/><use href="#h3" x="323.3" y="51.1" fill="#19ee20"/><use href="#h3" x="327.5" y="51.1" fill="#f7f001"/><use href="#h3" x="331.8" y="51.1" fill="#ff9800"/><use href="#h3" x="336.0" y="51.1" fill="#ff9800"/><use href="#h3" x="340.2" y="51.1" fill="#ff9800"/><use href="#h3" x="344.5" y="51.1" fill="#ff9800"/><use href="#h3" x="348.7" y="51.1" fill="#ff9800"/><use href="#h3" x="352.9" y="51.1" fill="#f7f001"/><use href="#h3" x="357.2" y="51.1" fill="#91f814"/><use href="#h3" x="300.0" y="54.7" fill="#0eefcb"/><use href="#h3" x="304.3" y="54.7" fill="#0eefcb"/><use href="#h3" x="308.5" y="54.7" fill="#14f5b2"/><use href="#h3" x="312.7" y="54.7" fill="#14f5b2"/><use href="#h3" x="317.0" y="54.7" fill="#14f5b2"/><use href="#h3" x="321.2" y="54.7" fill="#19ee20"/><use href="#h3" x="325.4" y="54.7" fill="#91f814"/><use href="#h3" x="329.7" y="54.7" fill="#91f814"/><use href="#h3" x="333.9" y="54.7" fill="#f7f001"/><use href="#h3" x="338.1" y="54.7" fill="#f7f001"/><use href="#h3" x="342.4" y="54.7" fill="#f7f001"/><use href="#h3" x="346.6" y="54.7" fill="#f7f001"/><use href="#h3" x="350.8" y="54.7" fill="#f7f001"/><use href="#h3" x="355.1" y="54.7" fill="#f7f001"/><use href="#h3" x="359.3" y="54.7" fill="#19ee20"/><use href="#h3" x="297.9" y="58.3" fill="#0eefcb"/><use href="#h3" x="302.1" y="58.3" fill="#0eefcb"/><use href="#h3" x="306.4" y="58.3" fill="#14f5b2"/><use href="#h3" x="310.6" y="58.3" fill="#14f5b2"/><use href="#h3" x="314.8" y="58.3" fill="#19ee20"/><use href="#h3" x="319.1" y="58.3" fill="#19ee20"/><use href="#h3" x="323.3" y="58.3" fill="#19ee20"/><use href="#h3" x="327.5" y="58.3" fill="#19ee20"/><use href="#h3" x="331.8" y="58.3" fill="#91f814"/><use href="#h3" x="336.0" y="58.3" fill="#91f814"/><use href="#h3" x="340.2" y="58.3" fill="#91f814"/><use href="#h3" x="344.5" y="58.3" fill="#19ee20"/><use href="#h3" x="348.7" y="58.3" fill="#91f814"/><use href="#h3" x="352.9" y="58.3" fill="#91f814"/><use href="#h3" x="357.2" y="58.3" fill="#19ee20"/><use href="#h3" x="300.0" y="62.0" fill="#0eefcb"/><use href="#h3" x="304.3" y="62.0" fill="#0eefcb"/><use href="#h3" x="308.5" y="62.0" fill="#0eefcb"/><use href="#h3" x="312.7" y="62.0" fill="#14f5b2"/><use href="#h3" x="317.0" y="62.0" fill="#19ee20"/><use href="#h3" x="321.2" y="62.0" fill="#19ee20"/><use href="#h3" x="325.4" y="62.0" fill="#19ee20"/><use href="#h3" x="329.7" y="62.0" fill="#19ee20"/><use href="#h3" x="333.9" y="62.0" fill="#19ee20"/><use href="#h3" x="338.1" y="62.0" fill="#19ee20"/><use href="#h3" x="342.4" y="62.0" fill="#19ee20"/><use href="#h3" x="346.6" y="62.0" fill="#19ee20"/><use href="#h3" x="350.8" y="62.0" fill="#19ee20"/><use href="#h3" x="355.1" y="62.0" fill="#19ee20"/><use href="#h3" x="359.3" y="62.0" fill="#19ee20"/><use href="#h3" x="297.9" y="65.6" fill="#14f5b2"/><use href="#h3" x="302.1" y="65.6" fill="#0eefcb"/><use href="#h3" x="306.4" y="65.6" fill="#0863ff"/><use href="#h3" x="310.6" y="65.6" fill="#0eefcb"/><use href="#h3" x="314.8" y="65.6" fill="#19ee20"/><use href="#h3" x="319.1" y="65.6" fill="#19ee20"/><use href="#h3" x="323.3" y="65.6" fill="#19ee20"/><use href="#h3" x="327.5" y="65.6" fill="#19ee20"/><use href="#h3" x="331.8" y="65.6" fill="#19ee20"/><use href="#h3" x="336.0" y="65.6" fill="#19ee20"/><use href="#h3" x="340.2" y="65.6" fill="#19ee20"/><use href="#h3" x="344.5" y="65.6" fill="#19ee20"/><use href="#h3" x="348.7" y="65.6" fill="#19ee20"/><use href="#h3" x="352.9" y="65.6" fill="#19ee20"/><use href="#h3" x="357.2" y="65.6" fill="#19ee20"/><use href="#h3" x="300.0" y="69.2" fill="#19ee20"/><use href="#h3" x="304.3" y="69.2" fill="#14f5b2"/><use href="#h3" x="308.5" y="69.2" fill="#19ee20"/><use href="#h3" x="312.7" y="69.2" fill="#91f814"/><use href="#h3" x="317.0" y="69.2" fill="#91f814"/><use href="#h3" x="321.2" y="69.2" fill="#19ee20"/><use href="#h3" x="325.4" y="69.2" fill="#19ee20"/><use href="#h3" x="329.7" y="69.2" fill="#19ee20"/><use href="#h3" x="333.9" y="69.2" fill="#19ee20"/><use href="#h3" x="338.1" y="69.2" fill="#19ee20"/><use href="#h3" x="342.4" y="69.2" fill="#19ee20"/><use href="#h3" x="346.6" y="69.2" fill="#19ee20"/><use href="#h3" x="350.8" y="69.2" fill="#19ee20"/><use href="#h3" x="355.1" y="69.2" fill="#f7f001"/><use href="#h3" x="359.3" y="69.2" fill="#19ee20"/><use href="#h3" x="297.9" y="72.8" fill="#19ee20"/><use href="#h3" x="302.1" y="72.8" fill="#91f814"/><use href="#h3" x="306.4" y="72.8" fill="#c4f40b"/><use href="#h3" x="310.6" y="72.8" fill="#91f814"/><use href="#h3" x="314.8" y="72.8" fill="#91f814"/><use href="#h3" x="319.1" y="72.8" fill="#91f814"/><use href="#h3" x="323.3" y="72.8" fill="#14f5b2"/><use href="#h3" x="327.5" y="72.8" fill="#19ee20"/><use href="#h3" x="331.8" y="72.8" fill="#91f814"/><use href="#h3" x="336.0" y="72.8" fill="#19ee20"/><use href="#h3" x="340.2" y="72.8" fill="#19ee20"/><use href="#h3" x="344.5" y="72.8" fill="#19ee20"/><use href="#h3" x="348.7" y="72.8" fill="#19ee20"/><use href="#h3" x="352.9" y="72.8" fill="#91f814"/><use href="#h3" x="357.2" y="72.8" fill="#19ee20"/><use href="#h3" x="300.0" y="76.4" fill="#91f814"/><use href="#h3" x="304.3" y="76.4" fill="#c4f40b"/><use href="#h3" x="308.5" y="76.4" fill="#91f814"/><use href="#h3" x="312.7" y="76.4" fill="#19ee20"/><use href="#h3" x="317.0" y="76.4" fill="#c4f40b"/><use href="#h3" x="321.2" y="76.4" fill="#91f814"/><use href="#h3" x="325.4" y="76.4" fill="#14f5b2"/><use href="#h3" x="329.7" y="76.4" fill="#14f5b2"/><use href="#h3" x="333.9" y="76.4" fill="#19ee20"/><use href="#h3" x="338.1" y="76.4" fill="#19ee20"/><use href="#h3" x="342.4" y="76.4" fill="#19ee20"/><use href="#h3" x="346.6" y="76.4" fill="#19ee20"/><use href="#h3" x="350.8" y="76.4" fill="#19ee20"/><use href="#h3" x="355.1" y="76.4" fill="#19ee20"/><use href="#h3" x="359.3" y="76.4" fill="#19ee20"/><use href="#h3" x="297.9" y="80.1" fill="#19ee20"/><use href="#h3" x="302.1" y="80.1" fill="#c4f40b"/><use href="#h3" x="306.4" y="80.1" fill="#c4f40b"/><use href="#h3" x="310.6" y="80.1" fill="#91f814"/><use href="#h3" x="314.8" y="80.1" fill="#19ee20"/><use href="#h3" x="319.1" y="80.1" fill="#91f814"/><use href="#h3" x="323.3" y="80.1" fill="#19ee20"/><use href="#h3" x="327.5" y="80.1" fill="#19ee20"/><use href="#h3" x="331.8" y="80.1" fill="#14f5b2"/><use href="#h3" x="336.0" y="80.1" fill="#14f5b2"/><use href="#h3" x="340.2" y="80.1" fill="#19ee20"/><use href="#h3" x="344.5" y="80.1" fill="#14f5b2"/><use href="#h3" x="348.7" y="80.1" fill="#14f5b2"/><use href="#h3" x="352.9" y="80.1" fill="#19ee20"/><use href="#h3" x="357.2" y="80.1" fill="#19ee20"/><use href="#h3" x="300.0" y="83.7" fill="#91f814"/><use href="#h3" x="304.3" y="83.7" fill="#ff3f05"/><use href="#h3" x="308.5" y="83.7" fill="#c4f40b"/><use href="#h3" x="312.7" y="83.7" fill="#19ee20"/><use href="#h3" x="317.0" y="83.7" fill="#19ee20"/><use href="#h3" x="321.2" y="83.7" fill="#19ee20"/><use href="#h3" x="325.4" y="83.7" fill="#19ee20"/><use href="#h3" x="329.7" y="83.7" fill="#19ee20"/><use href="#h3" x="333.9" y="83.7" fill="#19ee20"/><use href="#h3" x="338.1" y="83.7" fill="#14f5b2"/><use href="#h3" x="342.4" y="83.7" fill="#14f5b2"/><use href="#h3" x="346.6" y="83.7" fill="#14f5b2"/><use href="#h3" x="350.8" y="83.7" fill="#14f5b2"/><use href="#h3" x="355.1" y="83.7" fill="#19ee20"/><use href="#h3" x="359.3" y="83.7" fill="#19ee20"/></g>
<rect x="294.8" y="11.5" width="67.6" height="75.6" fill="url(#d3)"/>
<rect x="292.70" y="13.10" width="1.4" height="73.00" fill="url(#cbg)"/>
<rect x="292.70" y="13.10" width="1.4" height="73.00" fill="#707080" fill-opacity="0.18"/>
<text x="328.2" y="10.0" class="t" font-size="6.90" text-anchor="middle" textLength="7.2" lengthAdjust="spacingAndGlyphs">TP</text>
<text x="291.2" y="28.2" class="k" font-size="6.16" text-anchor="end" textLength="11.0" lengthAdjust="spacingAndGlyphs">0.14</text>
<text x="291.2" y="41.2" class="k" font-size="6.16" text-anchor="end" textLength="11.0" lengthAdjust="spacingAndGlyphs">0.12</text>
<text x="291.2" y="54.7" class="k" font-size="6.16" text-anchor="end" textLength="11.0" lengthAdjust="spacingAndGlyphs">0.10</text>
<text x="291.2" y="68.2" class="k" font-size="6.16" text-anchor="end" textLength="11.0" lengthAdjust="spacingAndGlyphs">0.08</text>
<text x="291.2" y="81.2" class="k" font-size="6.16" text-anchor="end" textLength="11.0" lengthAdjust="spacingAndGlyphs">0.06</text>
<g stroke="#454550" stroke-opacity="0.33" stroke-width="0.6" stroke-linejoin="round"><use href="#h4" x="386.7" y="15.3" fill="#0dedd0"/><use href="#h4" x="391.1" y="15.3" fill="#0dedd0"/><use href="#h4" x="395.5" y="15.3" fill="#0f9efc"/><use href="#h4" x="399.9" y="15.3" fill="#042bfc"/><use href="#h4" x="404.3" y="15.3" fill="#042bfc"/><use href="#h4" x="408.7" y="15.3" fill="#0f9efc"/><use href="#h4" x="413.1" y="15.3" fill="#0dedd0"/><use href="#h4" x="417.5" y="15.3" fill="#0dedd0"/><use href="#h4" x="422.0" y="15.3" fill="#14f5b2"/><use href="#h4" x="426.4" y="15.3" fill="#14f5b2"/><use href="#h4" x="430.8" y="15.3" fill="#0dedd0"/><use href="#h4" x="435.2" y="15.3" fill="#0dedd0"/><use href="#h4" x="439.6" y="15.3" fill="#0dedd0"/><use href="#h4" x="444.0" y="15.3" fill="#14f5b2"/><use href="#h4" x="448.4" y="15.3" fill="#19ee20"/><use href="#h4" x="388.9" y="19.1" fill="#0dedd0"/><use href="#h4" x="393.3" y="19.1" fill="#042bfc"/><use href="#h4" x="397.7" y="19.1" fill="#0863ff"/><use href="#h4" x="402.1" y="19.1" fill="#042bfc"/><use href="#h4" x="406.5" y="19.1" fill="#042bfc"/><use href="#h4" x="410.9" y="19.1" fill="#0f9efc"/><use href="#h4" x="415.3" y="19.1" fill="#0dedd0"/><use href="#h4" x="419.8" y="19.1" fill="#14f5b2"/><use href="#h4" x="424.2" y="19.1" fill="#91f814"/><use href="#h4" x="428.6" y="19.1" fill="#0dedd0"/><use href="#h4" x="433.0" y="19.1" fill="#0863ff"/><use href="#h4" x="437.4" y="19.1" fill="#0f9efc"/><use href="#h4" x="441.8" y="19.1" fill="#0dedd0"/><use href="#h4" x="446.2" y="19.1" fill="#14f5b2"/><use href="#h4" x="450.6" y="19.1" fill="#19ee20"/><use href="#h4" x="386.7" y="22.8" fill="#0dedd0"/><use href="#h4" x="391.1" y="22.8" fill="#0f9efc"/><use href="#h4" x="395.5" y="22.8" fill="#042bfc"/><use href="#h4" x="399.9" y="22.8" fill="#042bfc"/><use href="#h4" x="404.3" y="22.8" fill="#000ee8"/><use href="#h4" x="408.7" y="22.8" fill="#042bfc"/><use href="#h4" x="413.1" y="22.8" fill="#0dedd0"/><use href="#h4" x="417.5" y="22.8" fill="#0dedd0"/><use href="#h4" x="422.0" y="22.8" fill="#14f5b2"/><use href="#h4" x="426.4" y="22.8" fill="#0dedd0"/><use href="#h4" x="430.8" y="22.8" fill="#0863ff"/><use href="#h4" x="435.2" y="22.8" fill="#042bfc"/><use href="#h4" x="439.6" y="22.8" fill="#0f9efc"/><use href="#h4" x="444.0" y="22.8" fill="#14f5b2"/><use href="#h4" x="448.4" y="22.8" fill="#19ee20"/><use href="#h4" x="388.9" y="26.6" fill="#0f9efc"/><use href="#h4" x="393.3" y="26.6" fill="#042bfc"/><use href="#h4" x="397.7" y="26.6" fill="#0863ff"/><use href="#h4" x="402.1" y="26.6" fill="#0863ff"/><use href="#h4" x="406.5" y="26.6" fill="#0f9efc"/><use href="#h4" x="410.9" y="26.6" fill="#0dedd0"/><use href="#h4" x="415.3" y="26.6" fill="#0dedd0"/><use href="#h4" x="419.8" y="26.6" fill="#14f5b2"/><use href="#h4" x="424.2" y="26.6" fill="#14f5b2"/><use href="#h4" x="428.6" y="26.6" fill="#0dedd0"/><use href="#h4" x="433.0" y="26.6" fill="#0f9efc"/><use href="#h4" x="437.4" y="26.6" fill="#0dedd0"/><use href="#h4" x="441.8" y="26.6" fill="#0dedd0"/><use href="#h4" x="446.2" y="26.6" fill="#14f5b2"/><use href="#h4" x="450.6" y="26.6" fill="#19ee20"/><use href="#h4" x="386.7" y="30.3" fill="#0f9efc"/><use href="#h4" x="391.1" y="30.3" fill="#0f9efc"/><use href="#h4" x="395.5" y="30.3" fill="#14f5b2"/><use href="#h4" x="399.9" y="30.3" fill="#14f5b2"/><use href="#h4" x="404.3" y="30.3" fill="#14f5b2"/><use href="#h4" x="408.7" y="30.3" fill="#14f5b2"/><use href="#h4" x="413.1" y="30.3" fill="#17f15a"/><use href="#h4" x="417.5" y="30.3" fill="#19ee20"/><use href="#h4" x="422.0" y="30.3" fill="#19ee20"/><use href="#h4" x="426.4" y="30.3" fill="#17f15a"/><use href="#h4" x="430.8" y="30.3" fill="#14f5b2"/><use href="#h4" x="435.2" y="30.3" fill="#14f5b2"/><use href="#h4" x="439.6" y="30.3" fill="#14f5b2"/><use href="#h4" x="444.0" y="30.3" fill="#17f15a"/><use href="#h4" x="448.4" y="30.3" fill="#19ee20"/><use href="#h4" x="388.9" y="34.1" fill="#17f15a"/><use href="#h4" x="393.3" y="34.1" fill="#17f15a"/><use href="#h4" x="397.7" y="34.1" fill="#17f15a"/><use href="#h4" x="402.1" y="34.1" fill="#17f15a"/><use href="#h4" x="406.5" y="34.1" fill="#17f15a"/><use href="#h4" x="410.9" y="34.1" fill="#17f15a"/><use href="#h4" x="415.3" y="34.1" fill="#17f15a"/><use href="#h4" x="419.8" y="34.1" fill="#17f15a"/><use href="#h4" x="424.2" y="34.1" fill="#17f15a"/><use href="#h4" x="428.6" y="34.1" fill="#17f15a"/><use href="#h4" x="433.0" y="34.1" fill="#17f15a"/><use href="#h4" x="437.4" y="34.1" fill="#17f15a"/><use href="#h4" x="441.8" y="34.1" fill="#17f15a"/><use href="#h4" x="446.2" y="34.1" fill="#19ee20"/><use href="#h4" x="450.6" y="34.1" fill="#19ee20"/><use href="#h4" x="386.7" y="37.8" fill="#14f5b2"/><use href="#h4" x="391.1" y="37.8" fill="#17f15a"/><use href="#h4" x="395.5" y="37.8" fill="#19ee20"/><use href="#h4" x="399.9" y="37.8" fill="#19ee20"/><use href="#h4" x="404.3" y="37.8" fill="#19ee20"/><use href="#h4" x="408.7" y="37.8" fill="#17f15a"/><use href="#h4" x="413.1" y="37.8" fill="#17f15a"/><use href="#h4" x="417.5" y="37.8" fill="#14f5b2"/><use href="#h4" x="422.0" y="37.8" fill="#14f5b2"/><use href="#h4" x="426.4" y="37.8" fill="#19ee20"/><use href="#h4" x="430.8" y="37.8" fill="#19ee20"/><use href="#h4" x="435.2" y="37.8" fill="#19ee20"/><use href="#h4" x="439.6" y="37.8" fill="#19ee20"/><use href="#h4" x="444.0" y="37.8" fill="#19ee20"/><use href="#h4" x="448.4" y="37.8" fill="#19ee20"/><use href="#h4" x="388.9" y="41.6" fill="#17f15a"/><use href="#h4" x="393.3" y="41.6" fill="#19ee20"/><use href="#h4" x="397.7" y="41.6" fill="#19ee20"/><use href="#h4" x="402.1" y="41.6" fill="#19ee20"/><use href="#h4" x="406.5" y="41.6" fill="#19ee20"/><use href="#h4" x="410.9" y="41.6" fill="#17f15a"/><use href="#h4" x="415.3" y="41.6" fill="#14f5b2"/><use href="#h4" x="419.8" y="41.6" fill="#14f5b2"/><use href="#h4" x="424.2" y="41.6" fill="#19ee20"/><use href="#h4" x="428.6" y="41.6" fill="#f7f001"/><use href="#h4" x="433.0" y="41.6" fill="#91f814"/><use href="#h4" x="437.4" y="41.6" fill="#19ee20"/><use href="#h4" x="441.8" y="41.6" fill="#f7f001"/><use href="#h4" x="446.2" y="41.6" fill="#19ee20"/><use href="#h4" x="450.6" y="41.6" fill="#19ee20"/><use href="#h4" x="386.7" y="45.3" fill="#14f5b2"/><use href="#h4" x="391.1" y="45.3" fill="#17f15a"/><use href="#h4" x="395.5" y="45.3" fill="#17f15a"/><use href="#h4" x="399.9" y="45.3" fill="#17f15a"/><use href="#h4" x="404.3" y="45.3" fill="#17f15a"/><use href="#h4" x="408.7" y="45.3" fill="#17f15a"/><use href="#h4" x="413.1" y="45.3" fill="#17f15a"/><use href="#h4" x="417.5" y="45.3" fill="#14f5b2"/><use href="#h4" x="422.0" y="45.3" fill="#19ee20"/><use href="#h4" x="426.4" y="45.3" fill="#91f814"/><use href="#h4" x="430.8" y="45.3" fill="#91f814"/><use href="#h4" x="435.2" y="45.3" fill="#91f814"/><use href="#h4" x="439.6" y="45.3" fill="#91f814"/><use href="#h4" x="444.0" y="45.3" fill="#91f814"/><use href="#h4" x="448.4" y="45.3" fill="#19ee20"/><use href="#h4" x="388.9" y="49.1" fill="#14f5b2"/><use href="#h4" x="393.3" y="49.1" fill="#14f5b2"/><use href="#h4" x="397.7" y="49.1" fill="#0f9efc"/><use href="#h4" x="402.1" y="49.1" fill="#0863ff"/><use href="#h4" x="406.5" y="49.1" fill="#14f5b2"/><use href="#h4" x="410.9" y="49.1" fill="#17f15a"/><use href="#h4" x="415.3" y="49.1" fill="#19ee20"/><use href="#h4" x="419.8" y="49.1" fill="#19ee20"/><use href="#h4" x="424.2" y="49.1" fill="#19ee20"/><use href="#h4" x="428.6" y="49.1" fill="#19ee20"/><use href="#h4" x="433.0" y="49.1" fill="#19ee20"/><use href="#h4" x="437.4" y="49.1" fill="#91f814"/><use href="#h4" x="441.8" y="49.1" fill="#f7f001"/><use href="#h4" x="446.2" y="49.1" fill="#19ee20"/><use href="#h4" x="450.6" y="49.1" fill="#19ee20"/><use href="#h4" x="386.7" y="52.8" fill="#17f15a"/><use href="#h4" x="391.1" y="52.8" fill="#17f15a"/><use href="#h4" x="395.5" y="52.8" fill="#17f15a"/><use href="#h4" x="399.9" y="52.8" fill="#17f15a"/><use href="#h4" x="404.3" y="52.8" fill="#17f15a"/><use href="#h4" x="408.7" y="52.8" fill="#17f15a"/><use href="#h4" x="413.1" y="52.8" fill="#17f15a"/><use href="#h4" x="417.5" y="52.8" fill="#17f15a"/><use href="#h4" x="422.0" y="52.8" fill="#19ee20"/><use href="#h4" x="426.4" y="52.8" fill="#19ee20"/><use href="#h4" x="430.8" y="52.8" fill="#17f15a"/><use href="#h4" x="435.2" y="52.8" fill="#17f15a"/><use href="#h4" x="439.6" y="52.8" fill="#19ee20"/><use href="#h4" x="444.0" y="52.8" fill="#19ee20"/><use href="#h4" x="448.4" y="52.8" fill="#19ee20"/><use href="#h4" x="388.9" y="56.6" fill="#91f814"/><use href="#h4" x="393.3" y="56.6" fill="#91f814"/><use href="#h4" x="397.7" y="56.6" fill="#f7f001"/><use href="#h4" x="402.1" y="56.6" fill="#19ee20"/><use href="#h4" x="406.5" y="56.6" fill="#19ee20"/><use href="#h4" x="410.9" y="56.6" fill="#19ee20"/><use href="#h4" x="415.3" y="56.6" fill="#19ee20"/><use href="#h4" x="419.8" y="56.6" fill="#19ee20"/><use href="#h4" x="424.2" y="56.6" fill="#19ee20"/><use href="#h4" x="428.6" y="56.6" fill="#14f5b2"/><use href="#h4" x="433.0" y="56.6" fill="#0dedd0"/><use href="#h4" x="437.4" y="56.6" fill="#14f5b2"/><use href="#h4" x="441.8" y="56.6" fill="#19ee20"/><use href="#h4" x="446.2" y="56.6" fill="#19ee20"/><use href="#h4" x="450.6" y="56.6" fill="#19ee20"/><use href="#h4" x="386.7" y="60.3" fill="#91f814"/><use href="#h4" x="391.1" y="60.3" fill="#f7f001"/><use href="#h4" x="395.5" y="60.3" fill="#f7f001"/><use href="#h4" x="399.9" y="60.3" fill="#f7f001"/><use href="#h4" x="404.3" y="60.3" fill="#f7f001"/><use href="#h4" x="408.7" y="60.3" fill="#f7f001"/><use href="#h4" x="413.1" y="60.3" fill="#91f814"/><use href="#h4" x="417.5" y="60.3" fill="#91f814"/><use href="#h4" x="422.0" y="60.3" fill="#91f814"/><use href="#h4" x="426.4" y="60.3" fill="#91f814"/><use href="#h4" x="430.8" y="60.3" fill="#19ee20"/><use href="#h4" x="435.2" y="60.3" fill="#19ee20"/><use href="#h4" x="439.6" y="60.3" fill="#91f814"/><use href="#h4" x="444.0" y="60.3" fill="#19ee20"/><use href="#h4" x="448.4" y="60.3" fill="#19ee20"/><use href="#h4" x="388.9" y="64.1" fill="#f7f001"/><use href="#h4" x="393.3" y="64.1" fill="#f7f001"/><use href="#h4" x="397.7" y="64.1" fill="#ff9800"/><use href="#h4" x="402.1" y="64.1" fill="#f7f001"/><use href="#h4" x="406.5" y="64.1" fill="#ff9800"/><use href="#h4" x="410.9" y="64.1" fill="#f7f001"/><use href="#h4" x="415.3" y="64.1" fill="#91f814"/><use href="#h4" x="419.8" y="64.1" fill="#91f814"/><use href="#h4" x="424.2" y="64.1" fill="#91f814"/><use href="#h4" x="428.6" y="64.1" fill="#91f814"/><use href="#h4" x="433.0" y="64.1" fill="#91f814"/><use href="#h4" x="437.4" y="64.1" fill="#91f814"/><use href="#h4" x="441.8" y="64.1" fill="#91f814"/><use href="#h4" x="446.2" y="64.1" fill="#91f814"/><use href="#h4" x="450.6" y="64.1" fill="#19ee20"/><use href="#h4" x="386.7" y="67.8" fill="#f7f001"/><use href="#h4" x="391.1" y="67.8" fill="#91f814"/><use href="#h4" x="395.5" y="67.8" fill="#19ee20"/><use href="#h4" x="399.9" y="67.8" fill="#91f814"/><use href="#h4" x="404.3" y="67.8" fill="#f7f001"/><use href="#h4" x="408.7" y="67.8" fill="#91f814"/><use href="#h4" x="413.1" y="67.8" fill="#91f814"/><use href="#h4" x="417.5" y="67.8" fill="#91f814"/><use href="#h4" x="422.0" y="67.8" fill="#ff9800"/><use href="#h4" x="426.4" y="67.8" fill="#f7f001"/><use href="#h4" x="430.8" y="67.8" fill="#91f814"/><use href="#h4" x="435.2" y="67.8" fill="#91f814"/><use href="#h4" x="439.6" y="67.8" fill="#19ee20"/><use href="#h4" x="444.0" y="67.8" fill="#19ee20"/><use href="#h4" x="448.4" y="67.8" fill="#19ee20"/><use href="#h4" x="388.9" y="71.6" fill="#f7f001"/><use href="#h4" x="393.3" y="71.6" fill="#91f814"/><use href="#h4" x="397.7" y="71.6" fill="#19ee20"/><use href="#h4" x="402.1" y="71.6" fill="#91f814"/><use href="#h4" x="406.5" y="71.6" fill="#91f814"/><use href="#h4" x="410.9" y="71.6" fill="#91f814"/><use href="#h4" x="415.3" y="71.6" fill="#f7f001"/><use href="#h4" x="419.8" y="71.6" fill="#ff3f05"/><use href="#h4" x="424.2" y="71.6" fill="#ec120c"/><use href="#h4" x="428.6" y="71.6" fill="#ff3f05"/><use href="#h4" x="433.0" y="71.6" fill="#f7f001"/><use href="#h4" x="437.4" y="71.6" fill="#91f814"/><use href="#h4" x="441.8" y="71.6" fill="#91f814"/><use href="#h4" x="446.2" y="71.6" fill="#19ee20"/><use href="#h4" x="450.6" y="71.6" fill="#19ee20"/><use href="#h4" x="386.7" y="75.3" fill="#ff9800"/><use href="#h4" x="391.1" y="75.3" fill="#ff9800"/><use href="#h4" x="395.5" y="75.3" fill="#f7f001"/><use href="#h4" x="399.9" y="75.3" fill="#91f814"/><use href="#h4" x="404.3" y="75.3" fill="#91f814"/><use href="#h4" x="408.7" y="75.3" fill="#91f814"/><use href="#h4" x="413.1" y="75.3" fill="#91f814"/><use href="#h4" x="417.5" y="75.3" fill="#ff3f05"/><use href="#h4" x="422.0" y="75.3" fill="#ec120c"/><use href="#h4" x="426.4" y="75.3" fill="#ec120c"/><use href="#h4" x="430.8" y="75.3" fill="#f7f001"/><use href="#h4" x="435.2" y="75.3" fill="#f7f001"/><use href="#h4" x="439.6" y="75.3" fill="#f7f001"/><use href="#h4" x="444.0" y="75.3" fill="#f7f001"/><use href="#h4" x="448.4" y="75.3" fill="#91f814"/><use href="#h4" x="388.9" y="79.1" fill="#ff9800"/><use href="#h4" x="393.3" y="79.1" fill="#ff3f05"/><use href="#h4" x="397.7" y="79.1" fill="#ff9800"/><use href="#h4" x="402.1" y="79.1" fill="#91f814"/><use href="#h4" x="406.5" y="79.1" fill="#19ee20"/><use href="#h4" x="410.9" y="79.1" fill="#91f814"/><use href="#h4" x="415.3" y="79.1" fill="#f7f001"/><use href="#h4" x="419.8" y="79.1" fill="#ec120c"/><use href="#h4" x="424.2" y="79.1" fill="#ec120c"/><use href="#h4" x="428.6" y="79.1" fill="#ff9800"/><use href="#h4" x="433.0" y="79.1" fill="#ff9800"/><use href="#h4" x="437.4" y="79.1" fill="#ff3f05"/><use href="#h4" x="441.8" y="79.1" fill="#ff3f05"/><use href="#h4" x="446.2" y="79.1" fill="#ff9800"/><use href="#h4" x="450.6" y="79.1" fill="#91f814"/><use href="#h4" x="386.7" y="82.8" fill="#f7f001"/><use href="#h4" x="391.1" y="82.8" fill="#ff9800"/><use href="#h4" x="395.5" y="82.8" fill="#ff3f05"/><use href="#h4" x="399.9" y="82.8" fill="#f7f001"/><use href="#h4" x="404.3" y="82.8" fill="#91f814"/><use href="#h4" x="408.7" y="82.8" fill="#19ee20"/><use href="#h4" x="413.1" y="82.8" fill="#91f814"/><use href="#h4" x="417.5" y="82.8" fill="#ff9800"/><use href="#h4" x="422.0" y="82.8" fill="#ec120c"/><use href="#h4" x="426.4" y="82.8" fill="#ff3f05"/><use href="#h4" x="430.8" y="82.8" fill="#ff9800"/><use href="#h4" x="435.2" y="82.8" fill="#ff3f05"/><use href="#h4" x="439.6" y="82.8" fill="#ff3f05"/><use href="#h4" x="444.0" y="82.8" fill="#ff3f05"/><use href="#h4" x="448.4" y="82.8" fill="#f7f001"/><use href="#h4" x="388.9" y="86.6" fill="#f7f001"/><use href="#h4" x="393.3" y="86.6" fill="#ff3f05"/><use href="#h4" x="397.7" y="86.6" fill="#ff9800"/><use href="#h4" x="402.1" y="86.6" fill="#91f814"/><use href="#h4" x="406.5" y="86.6" fill="#19ee20"/><use href="#h4" x="410.9" y="86.6" fill="#19ee20"/><use href="#h4" x="415.3" y="86.6" fill="#91f814"/><use href="#h4" x="419.8" y="86.6" fill="#f7f001"/><use href="#h4" x="424.2" y="86.6" fill="#ff9800"/><use href="#h4" x="428.6" y="86.6" fill="#ff9800"/><use href="#h4" x="433.0" y="86.6" fill="#ff3f05"/><use href="#h4" x="437.4" y="86.6" fill="#ff3f05"/><use href="#h4" x="441.8" y="86.6" fill="#ff3f05"/><use href="#h4" x="446.2" y="86.6" fill="#ff3f05"/><use href="#h4" x="450.6" y="86.6" fill="#f7f001"/></g>
<rect x="383.5" y="11.8" width="70.3" height="78.3" fill="url(#d4)"/>
<rect x="381.30" y="13.40" width="1.4" height="75.70" fill="url(#cbg)"/>
<rect x="381.30" y="13.40" width="1.4" height="75.70" fill="#707080" fill-opacity="0.18"/>
<text x="416.0" y="10.9" class="t" font-size="6.90" text-anchor="middle" textLength="12.5" lengthAdjust="spacingAndGlyphs">TOC</text>
<text x="380.0" y="16.3" class="k" font-size="6.41" text-anchor="end" textLength="8.2" lengthAdjust="spacingAndGlyphs">5.0</text>
<text x="380.0" y="32.9" class="k" font-size="6.41" text-anchor="end" textLength="8.2" lengthAdjust="spacingAndGlyphs">4.5</text>
<text x="380.0" y="50.1" class="k" font-size="6.41" text-anchor="end" textLength="8.2" lengthAdjust="spacingAndGlyphs">4.0</text>
<text x="380.0" y="67.0" class="k" font-size="6.41" text-anchor="end" textLength="8.2" lengthAdjust="spacingAndGlyphs">3.5</text>
<text x="380.0" y="85.3" class="k" font-size="6.41" text-anchor="end" textLength="8.2" lengthAdjust="spacingAndGlyphs">3.0</text>
<g stroke="#454550" stroke-opacity="0.33" stroke-width="0.6" stroke-linejoin="round"><use href="#h5" x="475.8" y="16.2" fill="#0644fd"/><use href="#h5" x="480.3" y="16.2" fill="#0644fd"/><use href="#h5" x="484.8" y="16.2" fill="#0a6ffe"/><use href="#h5" x="489.2" y="16.2" fill="#0644fd"/><use href="#h5" x="493.7" y="16.2" fill="#0a6ffe"/><use href="#h5" x="498.2" y="16.2" fill="#0f9efc"/><use href="#h5" x="502.6" y="16.2" fill="#0dedd0"/><use href="#h5" x="507.1" y="16.2" fill="#0dedd0"/><use href="#h5" x="511.5" y="16.2" fill="#19ee20"/><use href="#h5" x="516.0" y="16.2" fill="#0dedd0"/><use href="#h5" x="520.5" y="16.2" fill="#0dedd0"/><use href="#h5" x="524.9" y="16.2" fill="#0f9efc"/><use href="#h5" x="529.4" y="16.2" fill="#0f9efc"/><use href="#h5" x="533.9" y="16.2" fill="#0f9efc"/><use href="#h5" x="538.3" y="16.2" fill="#0f9efc"/><use href="#h5" x="478.1" y="20.0" fill="#0644fd"/><use href="#h5" x="482.5" y="20.0" fill="#0644fd"/><use href="#h5" x="487.0" y="20.0" fill="#0644fd"/><use href="#h5" x="491.5" y="20.0" fill="#0a6ffe"/><use href="#h5" x="495.9" y="20.0" fill="#0f9efc"/><use href="#h5" x="500.4" y="20.0" fill="#16f278"/><use href="#h5" x="504.9" y="20.0" fill="#16f278"/><use href="#h5" x="509.3" y="20.0" fill="#16f278"/><use href="#h5" x="513.8" y="20.0" fill="#16f278"/><use href="#h5" x="518.2" y="20.0" fill="#0dedd0"/><use href="#h5" x="522.7" y="20.0" fill="#0f9efc"/><use href="#h5" x="527.2" y="20.0" fill="#0a6ffe"/><use href="#h5" x="531.6" y="20.0" fill="#0a6ffe"/><use href="#h5" x="536.1" y="20.0" fill="#0f9efc"/><use href="#h5" x="540.6" y="20.0" fill="#0f9efc"/><use href="#h5" x="475.8" y="23.8" fill="#0644fd"/><use href="#h5" x="480.3" y="23.8" fill="#0644fd"/><use href="#h5" x="484.8" y="23.8" fill="#0644fd"/><use href="#h5" x="489.2" y="23.8" fill="#0a6ffe"/><use href="#h5" x="493.7" y="23.8" fill="#0f9efc"/><use href="#h5" x="498.2" y="23.8" fill="#0dedd0"/><use href="#h5" x="502.6" y="23.8" fill="#16f278"/><use href="#h5" x="507.1" y="23.8" fill="#16f278"/><use href="#h5" x="511.5" y="23.8" fill="#16f278"/><use href="#h5" x="516.0" y="23.8" fill="#16f278"/><use href="#h5" x="520.5" y="23.8" fill="#0f9efc"/><use href="#h5" x="524.9" y="23.8" fill="#0a6ffe"/><use href="#h5" x="529.4" y="23.8" fill="#0a6ffe"/><use href="#h5" x="533.9" y="23.8" fill="#0a6ffe"/><use href="#h5" x="538.3" y="23.8" fill="#0f9efc"/><use href="#h5" x="478.1" y="27.6" fill="#0644fd"/><use href="#h5" x="482.5" y="27.6" fill="#0644fd"/><use href="#h5" x="487.0" y="27.6" fill="#0a6ffe"/><use href="#h5" x="491.5" y="27.6" fill="#0a6ffe"/><use href="#h5" x="495.9" y="27.6" fill="#0dedd0"/><use href="#h5" x="500.4" y="27.6" fill="#0dedd0"/><use href="#h5" x="504.9" y="27.6" fill="#16f278"/><use href="#h5" x="509.3" y="27.6" fill="#16f278"/><use href="#h5" x="513.8" y="27.6" fill="#0dedd0"/><use href="#h5" x="518.2" y="27.6" fill="#0dedd0"/><use href="#h5" x="522.7" y="27.6" fill="#0f9efc"/><use href="#h5" x="527.2" y="27.6" fill="#0f9efc"/><use href="#h5" x="531.6" y="27.6" fill="#0f9efc"/><use href="#h5" x="536.1" y="27.6" fill="#0f9efc"/><use href="#h5" x="540.6" y="27.6" fill="#0f9efc"/><use href="#h5" x="475.8" y="31.5" fill="#0644fd"/><use href="#h5" x="480.3" y="31.5" fill="#0644fd"/><use href="#h5" x="484.8" y="31.5" fill="#0a6ffe"/><use href="#h5" x="489.2" y="31.5" fill="#0a6ffe"/><use href="#h5" x="493.7" y="31.5" fill="#0f9efc"/><use href="#h5" x="498.2" y="31.5" fill="#0dedd0"/><use href="#h5" x="502.6" y="31.5" fill="#0dedd0"/><use href="#h5" x="507.1" y="31.5" fill="#16f278"/><use href="#h5" x="511.5" y="31.5" fill="#16f278"/><use href="#h5" x="516.0" y="31.5" fill="#0dedd0"/><use href="#h5" x="520.5" y="31.5" fill="#0dedd0"/><use href="#h5" x="524.9" y="31.5" fill="#0dedd0"/><use href="#h5" x="529.4" y="31.5" fill="#0f9efc"/><use href="#h5" x="533.9" y="31.5" fill="#0f9efc"/><use href="#h5" x="538.3" y="31.5" fill="#0f9efc"/><use href="#h5" x="478.1" y="35.3" fill="#0a6ffe"/><use href="#h5" x="482.5" y="35.3" fill="#0a6ffe"/><use href="#h5" x="487.0" y="35.3" fill="#0a6ffe"/><use href="#h5" x="491.5" y="35.3" fill="#0f9efc"/><use href="#h5" x="495.9" y="35.3" fill="#0dedd0"/><use href="#h5" x="500.4" y="35.3" fill="#0dedd0"/><use href="#h5" x="504.9" y="35.3" fill="#0dedd0"/><use href="#h5" x="509.3" y="35.3" fill="#0dedd0"/><use href="#h5" x="513.8" y="35.3" fill="#0dedd0"/><use href="#h5" x="518.2" y="35.3" fill="#0dedd0"/><use href="#h5" x="522.7" y="35.3" fill="#16f278"/><use href="#h5" x="527.2" y="35.3" fill="#16f278"/><use href="#h5" x="531.6" y="35.3" fill="#0dedd0"/><use href="#h5" x="536.1" y="35.3" fill="#0dedd0"/><use href="#h5" x="540.6" y="35.3" fill="#0f9efc"/><use href="#h5" x="475.8" y="39.1" fill="#0a6ffe"/><use href="#h5" x="480.3" y="39.1" fill="#0a6ffe"/><use href="#h5" x="484.8" y="39.1" fill="#0f9efc"/><use href="#h5" x="489.2" y="39.1" fill="#0dedd0"/><use href="#h5" x="493.7" y="39.1" fill="#19ee20"/><use href="#h5" x="498.2" y="39.1" fill="#19ee20"/><use href="#h5" x="502.6" y="39.1" fill="#16f278"/><use href="#h5" x="507.1" y="39.1" fill="#0dedd0"/><use href="#h5" x="511.5" y="39.1" fill="#0dedd0"/><use href="#h5" x="516.0" y="39.1" fill="#0dedd0"/><use href="#h5" x="520.5" y="39.1" fill="#16f278"/><use href="#h5" x="524.9" y="39.1" fill="#f7f001"/><use href="#h5" x="529.4" y="39.1" fill="#19ee20"/><use href="#h5" x="533.9" y="39.1" fill="#0dedd0"/><use href="#h5" x="538.3" y="39.1" fill="#0f9efc"/><use href="#h5" x="478.1" y="43.0" fill="#0f9efc"/><use href="#h5" x="482.5" y="43.0" fill="#0f9efc"/><use href="#h5" x="487.0" y="43.0" fill="#16f278"/><use href="#h5" x="491.5" y="43.0" fill="#19ee20"/><use href="#h5" x="495.9" y="43.0" fill="#19ee20"/><use href="#h5" x="500.4" y="43.0" fill="#16f278"/><use href="#h5" x="504.9" y="43.0" fill="#0dedd0"/><use href="#h5" x="509.3" y="43.0" fill="#0dedd0"/><use href="#h5" x="513.8" y="43.0" fill="#0dedd0"/><use href="#h5" x="518.2" y="43.0" fill="#16f278"/><use href="#h5" x="522.7" y="43.0" fill="#f7f001"/><use href="#h5" x="527.2" y="43.0" fill="#ec120c"/><use href="#h5" x="531.6" y="43.0" fill="#91f814"/><use href="#h5" x="536.1" y="43.0" fill="#0dedd0"/><use href="#h5" x="540.6" y="43.0" fill="#0dedd0"/><use href="#h5" x="475.8" y="46.8" fill="#0dedd0"/><use href="#h5" x="480.3" y="46.8" fill="#0dedd0"/><use href="#h5" x="484.8" y="46.8" fill="#0dedd0"/><use href="#h5" x="489.2" y="46.8" fill="#0dedd0"/><use href="#h5" x="493.7" y="46.8" fill="#16f278"/><use href="#h5" x="498.2" y="46.8" fill="#16f278"/><use href="#h5" x="502.6" y="46.8" fill="#16f278"/><use href="#h5" x="507.1" y="46.8" fill="#16f278"/><use href="#h5" x="511.5" y="46.8" fill="#0dedd0"/><use href="#h5" x="516.0" y="46.8" fill="#16f278"/><use href="#h5" x="520.5" y="46.8" fill="#19ee20"/><use href="#h5" x="524.9" y="46.8" fill="#ff9800"/><use href="#h5" x="529.4" y="46.8" fill="#f7f001"/><use href="#h5" x="533.9" y="46.8" fill="#16f278"/><use href="#h5" x="538.3" y="46.8" fill="#0dedd0"/><use href="#h5" x="478.1" y="50.6" fill="#0dedd0"/><use href="#h5" x="482.5" y="50.6" fill="#0f9efc"/><use href="#h5" x="487.0" y="50.6" fill="#0f9efc"/><use href="#h5" x="491.5" y="50.6" fill="#0f9efc"/><use href="#h5" x="495.9" y="50.6" fill="#0a6ffe"/><use href="#h5" x="500.4" y="50.6" fill="#0dedd0"/><use href="#h5" x="504.9" y="50.6" fill="#19ee20"/><use href="#h5" x="509.3" y="50.6" fill="#19ee20"/><use href="#h5" x="513.8" y="50.6" fill="#16f278"/><use href="#h5" x="518.2" y="50.6" fill="#16f278"/><use href="#h5" x="522.7" y="50.6" fill="#16f278"/><use href="#h5" x="527.2" y="50.6" fill="#19ee20"/><use href="#h5" x="531.6" y="50.6" fill="#16f278"/><use href="#h5" x="536.1" y="50.6" fill="#0dedd0"/><use href="#h5" x="540.6" y="50.6" fill="#0dedd0"/><use href="#h5" x="475.8" y="54.5" fill="#0dedd0"/><use href="#h5" x="480.3" y="54.5" fill="#0dedd0"/><use href="#h5" x="484.8" y="54.5" fill="#0f9efc"/><use href="#h5" x="489.2" y="54.5" fill="#0dedd0"/><use href="#h5" x="493.7" y="54.5" fill="#0a6ffe"/><use href="#h5" x="498.2" y="54.5" fill="#0dedd0"/><use href="#h5" x="502.6" y="54.5" fill="#19ee20"/><use href="#h5" x="507.1" y="54.5" fill="#91f814"/><use href="#h5" x="511.5" y="54.5" fill="#19ee20"/><use href="#h5" x="516.0" y="54.5" fill="#0dedd0"/><use href="#h5" x="520.5" y="54.5" fill="#0dedd0"/><use href="#h5" x="524.9" y="54.5" fill="#16f278"/><use href="#h5" x="529.4" y="54.5" fill="#16f278"/><use href="#h5" x="533.9" y="54.5" fill="#16f278"/><use href="#h5" x="538.3" y="54.5" fill="#16f278"/><use href="#h5" x="478.1" y="58.3" fill="#0dedd0"/><use href="#h5" x="482.5" y="58.3" fill="#0f9efc"/><use href="#h5" x="487.0" y="58.3" fill="#0f9efc"/><use href="#h5" x="491.5" y="58.3" fill="#0f9efc"/><use href="#h5" x="495.9" y="58.3" fill="#0f9efc"/><use href="#h5" x="500.4" y="58.3" fill="#0dedd0"/><use href="#h5" x="504.9" y="58.3" fill="#19ee20"/><use href="#h5" x="509.3" y="58.3" fill="#19ee20"/><use href="#h5" x="513.8" y="58.3" fill="#16f278"/><use href="#h5" x="518.2" y="58.3" fill="#0f9efc"/><use href="#h5" x="522.7" y="58.3" fill="#0f9efc"/><use href="#h5" x="527.2" y="58.3" fill="#0f9efc"/><use href="#h5" x="531.6" y="58.3" fill="#0dedd0"/><use href="#h5" x="536.1" y="58.3" fill="#16f278"/><use href="#h5" x="540.6" y="58.3" fill="#16f278"/><use href="#h5" x="475.8" y="62.1" fill="#0dedd0"/><use href="#h5" x="480.3" y="62.1" fill="#0dedd0"/><use href="#h5" x="484.8" y="62.1" fill="#0dedd0"/><use href="#h5" x="489.2" y="62.1" fill="#0f9efc"/><use href="#h5" x="493.7" y="62.1" fill="#0f9efc"/><use href="#h5" x="498.2" y="62.1" fill="#0dedd0"/><use href="#h5" x="502.6" y="62.1" fill="#19ee20"/><use href="#h5" x="507.1" y="62.1" fill="#19ee20"/><use href="#h5" x="511.5" y="62.1" fill="#16f278"/><use href="#h5" x="516.0" y="62.1" fill="#0f9efc"/><use href="#h5" x="520.5" y="62.1" fill="#0f9efc"/><use href="#h5" x="524.9" y="62.1" fill="#0f9efc"/><use href="#h5" x="529.4" y="62.1" fill="#0dedd0"/><use href="#h5" x="533.9" y="62.1" fill="#0dedd0"/><use href="#h5" x="538.3" y="62.1" fill="#0dedd0"/><use href="#h5" x="478.1" y="66.0" fill="#0f9efc"/><use href="#h5" x="482.5" y="66.0" fill="#0f9efc"/><use href="#h5" x="487.0" y="66.0" fill="#0f9efc"/><use href="#h5" x="491.5" y="66.0" fill="#0dedd0"/><use href="#h5" x="495.9" y="66.0" fill="#19ee20"/><use href="#h5" x="500.4" y="66.0" fill="#91f814"/><use href="#h5" x="504.9" y="66.0" fill="#91f814"/><use href="#h5" x="509.3" y="66.0" fill="#19ee20"/><use href="#h5" x="513.8" y="66.0" fill="#0dedd0"/><use href="#h5" x="518.2" y="66.0" fill="#0f9efc"/><use href="#h5" x="522.7" y="66.0" fill="#0f9efc"/><use href="#h5" x="527.2" y="66.0" fill="#0dedd0"/><use href="#h5" x="531.6" y="66.0" fill="#0dedd0"/><use href="#h5" x="536.1" y="66.0" fill="#0dedd0"/><use href="#h5" x="540.6" y="66.0" fill="#0dedd0"/><use href="#h5" x="475.8" y="69.8" fill="#0f9efc"/><use href="#h5" x="480.3" y="69.8" fill="#0644fd"/><use href="#h5" x="484.8" y="69.8" fill="#0644fd"/><use href="#h5" x="489.2" y="69.8" fill="#0f9efc"/><use href="#h5" x="493.7" y="69.8" fill="#19ee20"/><use href="#h5" x="498.2" y="69.8" fill="#f7f001"/><use href="#h5" x="502.6" y="69.8" fill="#91f814"/><use href="#h5" x="507.1" y="69.8" fill="#ff3f05"/><use href="#h5" x="511.5" y="69.8" fill="#16f278"/><use href="#h5" x="516.0" y="69.8" fill="#0dedd0"/><use href="#h5" x="520.5" y="69.8" fill="#0dedd0"/><use href="#h5" x="524.9" y="69.8" fill="#0dedd0"/><use href="#h5" x="529.4" y="69.8" fill="#0dedd0"/><use href="#h5" x="533.9" y="69.8" fill="#0dedd0"/><use href="#h5" x="538.3" y="69.8" fill="#0dedd0"/><use href="#h5" x="478.1" y="73.6" fill="#0f9efc"/><use href="#h5" x="482.5" y="73.6" fill="#0644fd"/><use href="#h5" x="487.0" y="73.6" fill="#0644fd"/><use href="#h5" x="491.5" y="73.6" fill="#0dedd0"/><use href="#h5" x="495.9" y="73.6" fill="#19ee20"/><use href="#h5" x="500.4" y="73.6" fill="#19ee20"/><use href="#h5" x="504.9" y="73.6" fill="#19ee20"/><use href="#h5" x="509.3" y="73.6" fill="#19ee20"/><use href="#h5" x="513.8" y="73.6" fill="#16f278"/><use href="#h5" x="518.2" y="73.6" fill="#0dedd0"/><use href="#h5" x="522.7" y="73.6" fill="#0dedd0"/><use href="#h5" x="527.2" y="73.6" fill="#0dedd0"/><use href="#h5" x="531.6" y="73.6" fill="#16f278"/><use href="#h5" x="536.1" y="73.6" fill="#19ee20"/><use href="#h5" x="540.6" y="73.6" fill="#19ee20"/><use href="#h5" x="475.8" y="77.5" fill="#0f9efc"/><use href="#h5" x="480.3" y="77.5" fill="#0a6ffe"/><use href="#h5" x="484.8" y="77.5" fill="#0644fd"/><use href="#h5" x="489.2" y="77.5" fill="#0644fd"/><use href="#h5" x="493.7" y="77.5" fill="#0dedd0"/><use href="#h5" x="498.2" y="77.5" fill="#16f278"/><use href="#h5" x="502.6" y="77.5" fill="#16f278"/><use href="#h5" x="507.1" y="77.5" fill="#16f278"/><use href="#h5" x="511.5" y="77.5" fill="#16f278"/><use href="#h5" x="516.0" y="77.5" fill="#16f278"/><use href="#h5" x="520.5" y="77.5" fill="#16f278"/><use href="#h5" x="524.9" y="77.5" fill="#0dedd0"/><use href="#h5" x="529.4" y="77.5" fill="#0dedd0"/><use href="#h5" x="533.9" y="77.5" fill="#19ee20"/><use href="#h5" x="538.3" y="77.5" fill="#91f814"/><use href="#h5" x="478.1" y="81.3" fill="#0f9efc"/><use href="#h5" x="482.5" y="81.3" fill="#0644fd"/><use href="#h5" x="487.0" y="81.3" fill="#0644fd"/><use href="#h5" x="491.5" y="81.3" fill="#0644fd"/><use href="#h5" x="495.9" y="81.3" fill="#0644fd"/><use href="#h5" x="500.4" y="81.3" fill="#0644fd"/><use href="#h5" x="504.9" y="81.3" fill="#0dedd0"/><use href="#h5" x="509.3" y="81.3" fill="#16f278"/><use href="#h5" x="513.8" y="81.3" fill="#16f278"/><use href="#h5" x="518.2" y="81.3" fill="#16f278"/><use href="#h5" x="522.7" y="81.3" fill="#0dedd0"/><use href="#h5" x="527.2" y="81.3" fill="#16f278"/><use href="#h5" x="531.6" y="81.3" fill="#16f278"/><use href="#h5" x="536.1" y="81.3" fill="#16f278"/><use href="#h5" x="540.6" y="81.3" fill="#16f278"/><use href="#h5" x="475.8" y="85.1" fill="#0dedd0"/><use href="#h5" x="480.3" y="85.1" fill="#0f9efc"/><use href="#h5" x="484.8" y="85.1" fill="#0a6ffe"/><use href="#h5" x="489.2" y="85.1" fill="#0a6ffe"/><use href="#h5" x="493.7" y="85.1" fill="#0644fd"/><use href="#h5" x="498.2" y="85.1" fill="#0644fd"/><use href="#h5" x="502.6" y="85.1" fill="#0644fd"/><use href="#h5" x="507.1" y="85.1" fill="#0dedd0"/><use href="#h5" x="511.5" y="85.1" fill="#16f278"/><use href="#h5" x="516.0" y="85.1" fill="#16f278"/><use href="#h5" x="520.5" y="85.1" fill="#16f278"/><use href="#h5" x="524.9" y="85.1" fill="#0dedd0"/><use href="#h5" x="529.4" y="85.1" fill="#16f278"/><use href="#h5" x="533.9" y="85.1" fill="#0dedd0"/><use href="#h5" x="538.3" y="85.1" fill="#0dedd0"/><use href="#h5" x="478.1" y="88.9" fill="#0dedd0"/><use href="#h5" x="482.5" y="88.9" fill="#0a6ffe"/><use href="#h5" x="487.0" y="88.9" fill="#0644fd"/><use href="#h5" x="491.5" y="88.9" fill="#0644fd"/><use href="#h5" x="495.9" y="88.9" fill="#0644fd"/><use href="#h5" x="500.4" y="88.9" fill="#0644fd"/><use href="#h5" x="504.9" y="88.9" fill="#0a6ffe"/><use href="#h5" x="509.3" y="88.9" fill="#0dedd0"/><use href="#h5" x="513.8" y="88.9" fill="#f7f001"/><use href="#h5" x="518.2" y="88.9" fill="#16f278"/><use href="#h5" x="522.7" y="88.9" fill="#16f278"/><use href="#h5" x="527.2" y="88.9" fill="#0dedd0"/><use href="#h5" x="531.6" y="88.9" fill="#0dedd0"/><use href="#h5" x="536.1" y="88.9" fill="#0dedd0"/><use href="#h5" x="540.6" y="88.9" fill="#0dedd0"/></g>
<rect x="472.6" y="12.6" width="71.2" height="79.9" fill="url(#d5)"/>
<rect x="470.30" y="14.20" width="1.4" height="77.30" fill="url(#cbg)"/>
<rect x="470.30" y="14.20" width="1.4" height="77.30" fill="#707080" fill-opacity="0.18"/>
<text x="507.0" y="10.9" class="t" font-size="6.90" text-anchor="middle" textLength="6.6" lengthAdjust="spacingAndGlyphs">SS</text>
<text x="468.8" y="20.1" class="k" font-size="6.50" text-anchor="end" textLength="6.6" lengthAdjust="spacingAndGlyphs">30</text>
<text x="468.8" y="34.5" class="k" font-size="6.50" text-anchor="end" textLength="6.6" lengthAdjust="spacingAndGlyphs">25</text>
<text x="468.8" y="48.6" class="k" font-size="6.50" text-anchor="end" textLength="6.6" lengthAdjust="spacingAndGlyphs">20</text>
<text x="468.8" y="63.3" class="k" font-size="6.50" text-anchor="end" textLength="6.6" lengthAdjust="spacingAndGlyphs">15</text>
<text x="468.8" y="77.3" class="k" font-size="6.50" text-anchor="end" textLength="6.6" lengthAdjust="spacingAndGlyphs">10</text>
<text x="468.8" y="91.3" class="k" font-size="6.50" text-anchor="end" textLength="3.3" lengthAdjust="spacingAndGlyphs">5</text>
<g stroke="#454550" stroke-opacity="0.33" stroke-width="0.6" stroke-linejoin="round"><use href="#h6" x="23.6" y="126.5" fill="#05e4ea"/><use href="#h6" x="27.9" y="126.5" fill="#05e4ea"/><use href="#h6" x="32.1" y="126.5" fill="#0863ff"/><use href="#h6" x="36.4" y="126.5" fill="#0863ff"/><use href="#h6" x="40.6" y="126.5" fill="#0863ff"/><use href="#h6" x="44.9" y="126.5" fill="#0863ff"/><use href="#h6" x="49.1" y="126.5" fill="#042bfc"/><use href="#h6" x="53.4" y="126.5" fill="#042bfc"/><use href="#h6" x="57.6" y="126.5" fill="#0863ff"/><use href="#h6" x="61.9" y="126.5" fill="#0863ff"/><use href="#h6" x="66.1" y="126.5" fill="#0863ff"/><use href="#h6" x="70.4" y="126.5" fill="#0863ff"/><use href="#h6" x="74.6" y="126.5" fill="#042bfc"/><use href="#h6" x="78.9" y="126.5" fill="#0863ff"/><use href="#h6" x="83.1" y="126.5" fill="#042bfc"/><use href="#h6" x="25.8" y="130.1" fill="#05e4ea"/><use href="#h6" x="30.0" y="130.1" fill="#0863ff"/><use href="#h6" x="34.3" y="130.1" fill="#042bfc"/><use href="#h6" x="38.5" y="130.1" fill="#042bfc"/><use href="#h6" x="42.8" y="130.1" fill="#0863ff"/><use href="#h6" x="47.0" y="130.1" fill="#042bfc"/><use href="#h6" x="51.3" y="130.1" fill="#0863ff"/><use href="#h6" x="55.5" y="130.1" fill="#0863ff"/><use href="#h6" x="59.8" y="130.1" fill="#0863ff"/><use href="#h6" x="64.0" y="130.1" fill="#0863ff"/><use href="#h6" x="68.3" y="130.1" fill="#05e4ea"/><use href="#h6" x="72.5" y="130.1" fill="#0863ff"/><use href="#h6" x="76.8" y="130.1" fill="#042bfc"/><use href="#h6" x="81.0" y="130.1" fill="#042bfc"/><use href="#h6" x="85.3" y="130.1" fill="#042bfc"/><use href="#h6" x="23.6" y="133.8" fill="#05e4ea"/><use href="#h6" x="27.9" y="133.8" fill="#0f9efc"/><use href="#h6" x="32.1" y="133.8" fill="#0863ff"/><use href="#h6" x="36.4" y="133.8" fill="#042bfc"/><use href="#h6" x="40.6" y="133.8" fill="#042bfc"/><use href="#h6" x="44.9" y="133.8" fill="#042bfc"/><use href="#h6" x="49.1" y="133.8" fill="#042bfc"/><use href="#h6" x="53.4" y="133.8" fill="#0863ff"/><use href="#h6" x="57.6" y="133.8" fill="#0f9efc"/><use href="#h6" x="61.9" y="133.8" fill="#05e4ea"/><use href="#h6" x="66.1" y="133.8" fill="#05e4ea"/><use href="#h6" x="70.4" y="133.8" fill="#05e4ea"/><use href="#h6" x="74.6" y="133.8" fill="#0863ff"/><use href="#h6" x="78.9" y="133.8" fill="#042bfc"/><use href="#h6" x="83.1" y="133.8" fill="#042bfc"/><use href="#h6" x="25.8" y="137.5" fill="#14f5b2"/><use href="#h6" x="30.0" y="137.5" fill="#0f9efc"/><use href="#h6" x="34.3" y="137.5" fill="#0863ff"/><use href="#h6" x="38.5" y="137.5" fill="#0863ff"/><use href="#h6" x="42.8" y="137.5" fill="#0863ff"/><use href="#h6" x="47.0" y="137.5" fill="#0863ff"/><use href="#h6" x="51.3" y="137.5" fill="#0f9efc"/><use href="#h6" x="55.5" y="137.5" fill="#05e4ea"/><use href="#h6" x="59.8" y="137.5" fill="#14f5b2"/><use href="#h6" x="64.0" y="137.5" fill="#14f5b2"/><use href="#h6" x="68.3" y="137.5" fill="#14f5b2"/><use href="#h6" x="72.5" y="137.5" fill="#05e4ea"/><use href="#h6" x="76.8" y="137.5" fill="#0f9efc"/><use href="#h6" x="81.0" y="137.5" fill="#0863ff"/><use href="#h6" x="85.3" y="137.5" fill="#042bfc"/><use href="#h6" x="23.6" y="141.2" fill="#19ee20"/><use href="#h6" x="27.9" y="141.2" fill="#05e4ea"/><use href="#h6" x="32.1" y="141.2" fill="#0f9efc"/><use href="#h6" x="36.4" y="141.2" fill="#0f9efc"/><use href="#h6" x="40.6" y="141.2" fill="#05e4ea"/><use href="#h6" x="44.9" y="141.2" fill="#05e4ea"/><use href="#h6" x="49.1" y="141.2" fill="#05e4ea"/><use href="#h6" x="53.4" y="141.2" fill="#05e4ea"/><use href="#h6" x="57.6" y="141.2" fill="#14f5b2"/><use href="#h6" x="61.9" y="141.2" fill="#14f5b2"/><use href="#h6" x="66.1" y="141.2" fill="#14f5b2"/><use href="#h6" x="70.4" y="141.2" fill="#14f5b2"/><use href="#h6" x="74.6" y="141.2" fill="#05e4ea"/><use href="#h6" x="78.9" y="141.2" fill="#0f9efc"/><use href="#h6" x="83.1" y="141.2" fill="#0863ff"/><use href="#h6" x="25.8" y="144.8" fill="#0f9efc"/><use href="#h6" x="30.0" y="144.8" fill="#0f9efc"/><use href="#h6" x="34.3" y="144.8" fill="#05e4ea"/><use href="#h6" x="38.5" y="144.8" fill="#05e4ea"/><use href="#h6" x="42.8" y="144.8" fill="#05e4ea"/><use href="#h6" x="47.0" y="144.8" fill="#05e4ea"/><use href="#h6" x="51.3" y="144.8" fill="#05e4ea"/><use href="#h6" x="55.5" y="144.8" fill="#14f5b2"/><use href="#h6" x="59.8" y="144.8" fill="#14f5b2"/><use href="#h6" x="64.0" y="144.8" fill="#14f5b2"/><use href="#h6" x="68.3" y="144.8" fill="#14f5b2"/><use href="#h6" x="72.5" y="144.8" fill="#14f5b2"/><use href="#h6" x="76.8" y="144.8" fill="#05e4ea"/><use href="#h6" x="81.0" y="144.8" fill="#0f9efc"/><use href="#h6" x="85.3" y="144.8" fill="#0863ff"/><use href="#h6" x="23.6" y="148.5" fill="#0863ff"/><use href="#h6" x="27.9" y="148.5" fill="#0f9efc"/><use href="#h6" x="32.1" y="148.5" fill="#0f9efc"/><use href="#h6" x="36.4" y="148.5" fill="#0f9efc"/><use href="#h6" x="40.6" y="148.5" fill="#0f9efc"/><use href="#h6" x="44.9" y="148.5" fill="#0f9efc"/><use href="#h6" x="49.1" y="148.5" fill="#05e4ea"/><use href="#h6" x="53.4" y="148.5" fill="#14f5b2"/><use href="#h6" x="57.6" y="148.5" fill="#19ee20"/><use href="#h6" x="61.9" y="148.5" fill="#14f5b2"/><use href="#h6" x="66.1" y="148.5" fill="#14f5b2"/><use href="#h6" x="70.4" y="148.5" fill="#14f5b2"/><use href="#h6" x="74.6" y="148.5" fill="#14f5b2"/><use href="#h6" x="78.9" y="148.5" fill="#05e4ea"/><use href="#h6" x="83.1" y="148.5" fill="#0863ff"/><use href="#h6" x="25.8" y="152.2" fill="#0863ff"/><use href="#h6" x="30.0" y="152.2" fill="#0863ff"/><use href="#h6" x="34.3" y="152.2" fill="#0863ff"/><use href="#h6" x="38.5" y="152.2" fill="#0863ff"/><use href="#h6" x="42.8" y="152.2" fill="#0f9efc"/><use href="#h6" x="47.0" y="152.2" fill="#0f9efc"/><use href="#h6" x="51.3" y="152.2" fill="#14f5b2"/><use href="#h6" x="55.5" y="152.2" fill="#14f5b2"/><use href="#h6" x="59.8" y="152.2" fill="#19ee20"/><use href="#h6" x="64.0" y="152.2" fill="#19ee20"/><use href="#h6" x="68.3" y="152.2" fill="#14f5b2"/><use href="#h6" x="72.5" y="152.2" fill="#14f5b2"/><use href="#h6" x="76.8" y="152.2" fill="#05e4ea"/><use href="#h6" x="81.0" y="152.2" fill="#05e4ea"/><use href="#h6" x="85.3" y="152.2" fill="#0f9efc"/><use href="#h6" x="23.6" y="155.9" fill="#042bfc"/><use href="#h6" x="27.9" y="155.9" fill="#042bfc"/><use href="#h6" x="32.1" y="155.9" fill="#042bfc"/><use href="#h6" x="36.4" y="155.9" fill="#042bfc"/><use href="#h6" x="40.6" y="155.9" fill="#0863ff"/><use href="#h6" x="44.9" y="155.9" fill="#0f9efc"/><use href="#h6" x="49.1" y="155.9" fill="#05e4ea"/><use href="#h6" x="53.4" y="155.9" fill="#14f5b2"/><use href="#h6" x="57.6" y="155.9" fill="#14f5b2"/><use href="#h6" x="61.9" y="155.9" fill="#19ee20"/><use href="#h6" x="66.1" y="155.9" fill="#14f5b2"/><use href="#h6" x="70.4" y="155.9" fill="#14f5b2"/><use href="#h6" x="74.6" y="155.9" fill="#05e4ea"/><use href="#h6" x="78.9" y="155.9" fill="#05e4ea"/><use href="#h6" x="83.1" y="155.9" fill="#0f9efc"/><use href="#h6" x="25.8" y="159.5" fill="#042bfc"/><use href="#h6" x="30.0" y="159.5" fill="#042bfc"/><use href="#h6" x="34.3" y="159.5" fill="#042bfc"/><use href="#h6" x="38.5" y="159.5" fill="#042bfc"/><use href="#h6" x="42.8" y="159.5" fill="#0863ff"/><use href="#h6" x="47.0" y="159.5" fill="#0863ff"/><use href="#h6" x="51.3" y="159.5" fill="#0dedd0"/><use href="#h6" x="55.5" y="159.5" fill="#14f5b2"/><use href="#h6" x="59.8" y="159.5" fill="#14f5b2"/><use href="#h6" x="64.0" y="159.5" fill="#14f5b2"/><use href="#h6" x="68.3" y="159.5" fill="#14f5b2"/><use href="#h6" x="72.5" y="159.5" fill="#14f5b2"/><use href="#h6" x="76.8" y="159.5" fill="#0dedd0"/><use href="#h6" x="81.0" y="159.5" fill="#0dedd0"/><use href="#h6" x="85.3" y="159.5" fill="#0dedd0"/><use href="#h6" x="23.6" y="163.2" fill="#042bfc"/><use href="#h6" x="27.9" y="163.2" fill="#042bfc"/><use href="#h6" x="32.1" y="163.2" fill="#042bfc"/><use href="#h6" x="36.4" y="163.2" fill="#042bfc"/><use href="#h6" x="40.6" y="163.2" fill="#0863ff"/><use href="#h6" x="44.9" y="163.2" fill="#0863ff"/><use href="#h6" x="49.1" y="163.2" fill="#0f9efc"/><use href="#h6" x="53.4" y="163.2" fill="#0dedd0"/><use href="#h6" x="57.6" y="163.2" fill="#0dedd0"/><use href="#h6" x="61.9" y="163.2" fill="#0dedd0"/><use href="#h6" x="66.1" y="163.2" fill="#0dedd0"/><use href="#h6" x="70.4" y="163.2" fill="#0dedd0"/><use href="#h6" x="74.6" y="163.2" fill="#0dedd0"/><use href="#h6" x="78.9" y="163.2" fill="#0dedd0"/><use href="#h6" x="83.1" y="163.2" fill="#0dedd0"/><use href="#h6" x="25.8" y="166.9" fill="#0863ff"/><use href="#h6" x="30.0" y="166.9" fill="#0863ff"/><use href="#h6" x="34.3" y="166.9" fill="#042bfc"/><use href="#h6" x="38.5" y="166.9" fill="#0863ff"/><use href="#h6" x="42.8" y="166.9" fill="#0f9efc"/><use href="#h6" x="47.0" y="166.9" fill="#0f9efc"/><use href="#h6" x="51.3" y="166.9" fill="#0dedd0"/><use href="#h6" x="55.5" y="166.9" fill="#0dedd0"/><use href="#h6" x="59.8" y="166.9" fill="#0dedd0"/><use href="#h6" x="64.0" y="166.9" fill="#0dedd0"/><use href="#h6" x="68.3" y="166.9" fill="#0dedd0"/><use href="#h6" x="72.5" y="166.9" fill="#0dedd0"/><use href="#h6" x="76.8" y="166.9" fill="#0dedd0"/><use href="#h6" x="81.0" y="166.9" fill="#0dedd0"/><use href="#h6" x="85.3" y="166.9" fill="#14f5b2"/><use href="#h6" x="23.6" y="170.6" fill="#0863ff"/><use href="#h6" x="27.9" y="170.6" fill="#0863ff"/><use href="#h6" x="32.1" y="170.6" fill="#0863ff"/><use href="#h6" x="36.4" y="170.6" fill="#0f9efc"/><use href="#h6" x="40.6" y="170.6" fill="#0f9efc"/><use href="#h6" x="44.9" y="170.6" fill="#0dedd0"/><use href="#h6" x="49.1" y="170.6" fill="#0dedd0"/><use href="#h6" x="53.4" y="170.6" fill="#0dedd0"/><use href="#h6" x="57.6" y="170.6" fill="#0dedd0"/><use href="#h6" x="61.9" y="170.6" fill="#0dedd0"/><use href="#h6" x="66.1" y="170.6" fill="#0dedd0"/><use href="#h6" x="70.4" y="170.6" fill="#0dedd0"/><use href="#h6" x="74.6" y="170.6" fill="#0dedd0"/><use href="#h6" x="78.9" y="170.6" fill="#0dedd0"/><use href="#h6" x="83.1" y="170.6" fill="#14f5b2"/><use href="#h6" x="25.8" y="174.2" fill="#0f9efc"/><use href="#h6" x="30.0" y="174.2" fill="#0f9efc"/><use href="#h6" x="34.3" y="174.2" fill="#0f9efc"/><use href="#h6" x="38.5" y="174.2" fill="#0f9efc"/><use href="#h6" x="42.8" y="174.2" fill="#0f9efc"/><use href="#h6" x="47.0" y="174.2" fill="#0dedd0"/><use href="#h6" x="51.3" y="174.2" fill="#0dedd0"/><use href="#h6" x="55.5" y="174.2" fill="#0dedd0"/><use href="#h6" x="59.8" y="174.2" fill="#0dedd0"/><use href="#h6" x="64.0" y="174.2" fill="#0dedd0"/><use href="#h6" x="68.3" y="174.2" fill="#0dedd0"/><use href="#h6" x="72.5" y="174.2" fill="#0dedd0"/><use href="#h6" x="76.8" y="174.2" fill="#0dedd0"/><use href="#h6" x="81.0" y="174.2" fill="#14f5b2"/><use href="#h6" x="85.3" y="174.2" fill="#14f5b2"/><use href="#h6" x="23.6" y="177.9" fill="#0dedd0"/><use href="#h6" x="27.9" y="177.9" fill="#0dedd0"/><use href="#h6" x="32.1" y="177.9" fill="#0dedd0"/><use href="#h6" x="36.4" y="177.9" fill="#0f9efc"/><use href="#h6" x="40.6" y="177.9" fill="#0863ff"/><use href="#h6" x="44.9" y="177.9" fill="#0dedd0"/><use href="#h6" x="49.1" y="177.9" fill="#0dedd0"/><use href="#h6" x="53.4" y="177.9" fill="#14f5b2"/><use href="#h6" x="57.6" y="177.9" fill="#19ee20"/><use href="#h6" x="61.9" y="177.9" fill="#14f5b2"/><use href="#h6" x="66.1" y="177.9" fill="#0dedd0"/><use href="#h6" x="70.4" y="177.9" fill="#0dedd0"/><use href="#h6" x="74.6" y="177.9" fill="#0dedd0"/><use href="#h6" x="78.9" y="177.9" fill="#14f5b2"/><use href="#h6" x="83.1" y="177.9" fill="#14f5b2"/><use href="#h6" x="25.8" y="181.6" fill="#14f5b2"/><use href="#h6" x="30.0" y="181.6" fill="#14f5b2"/><use href="#h6" x="34.3" y="181.6" fill="#14f5b2"/><use href="#h6" x="38.5" y="181.6" fill="#0dedd0"/><use href="#h6" x="42.8" y="181.6" fill="#0dedd0"/><use href="#h6" x="47.0" y="181.6" fill="#0dedd0"/><use href="#h6" x="51.3" y="181.6" fill="#14f5b2"/><use href="#h6" x="55.5" y="181.6" fill="#f7f001"/><use href="#h6" x="59.8" y="181.6" fill="#ff9800"/><use href="#h6" x="64.0" y="181.6" fill="#19ee20"/><use href="#h6" x="68.3" y="181.6" fill="#0dedd0"/><use href="#h6" x="72.5" y="181.6" fill="#0dedd0"/><use href="#h6" x="76.8" y="181.6" fill="#0dedd0"/><use href="#h6" x="81.0" y="181.6" fill="#14f5b2"/><use href="#h6" x="85.3" y="181.6" fill="#14f5b2"/><use href="#h6" x="23.6" y="185.3" fill="#19ee20"/><use href="#h6" x="27.9" y="185.3" fill="#14f5b2"/><use href="#h6" x="32.1" y="185.3" fill="#14f5b2"/><use href="#h6" x="36.4" y="185.3" fill="#14f5b2"/><use href="#h6" x="40.6" y="185.3" fill="#14f5b2"/><use href="#h6" x="44.9" y="185.3" fill="#0dedd0"/><use href="#h6" x="49.1" y="185.3" fill="#0dedd0"/><use href="#h6" x="53.4" y="185.3" fill="#f7f001"/><use href="#h6" x="57.6" y="185.3" fill="#ec120c"/><use href="#h6" x="61.9" y="185.3" fill="#f7f001"/><use href="#h6" x="66.1" y="185.3" fill="#14f5b2"/><use href="#h6" x="70.4" y="185.3" fill="#0dedd0"/><use href="#h6" x="74.6" y="185.3" fill="#0dedd0"/><use href="#h6" x="78.9" y="185.3" fill="#14f5b2"/><use href="#h6" x="83.1" y="185.3" fill="#14f5b2"/><use href="#h6" x="25.8" y="188.9" fill="#19ee20"/><use href="#h6" x="30.0" y="188.9" fill="#19ee20"/><use href="#h6" x="34.3" y="188.9" fill="#14f5b2"/><use href="#h6" x="38.5" y="188.9" fill="#14f5b2"/><use href="#h6" x="42.8" y="188.9" fill="#19ee20"/><use href="#h6" x="47.0" y="188.9" fill="#14f5b2"/><use href="#h6" x="51.3" y="188.9" fill="#19ee20"/><use href="#h6" x="55.5" y="188.9" fill="#f7f001"/><use href="#h6" x="59.8" y="188.9" fill="#f7f001"/><use href="#h6" x="64.0" y="188.9" fill="#19ee20"/><use href="#h6" x="68.3" y="188.9" fill="#0dedd0"/><use href="#h6" x="72.5" y="188.9" fill="#0dedd0"/><use href="#h6" x="76.8" y="188.9" fill="#0dedd0"/><use href="#h6" x="81.0" y="188.9" fill="#0dedd0"/><use href="#h6" x="85.3" y="188.9" fill="#14f5b2"/><use href="#h6" x="23.6" y="192.6" fill="#19ee20"/><use href="#h6" x="27.9" y="192.6" fill="#19ee20"/><use href="#h6" x="32.1" y="192.6" fill="#19ee20"/><use href="#h6" x="36.4" y="192.6" fill="#14f5b2"/><use href="#h6" x="40.6" y="192.6" fill="#14f5b2"/><use href="#h6" x="44.9" y="192.6" fill="#14f5b2"/><use href="#h6" x="49.1" y="192.6" fill="#14f5b2"/><use href="#h6" x="53.4" y="192.6" fill="#14f5b2"/><use href="#h6" x="57.6" y="192.6" fill="#19ee20"/><use href="#h6" x="61.9" y="192.6" fill="#19ee20"/><use href="#h6" x="66.1" y="192.6" fill="#0dedd0"/><use href="#h6" x="70.4" y="192.6" fill="#0f9efc"/><use href="#h6" x="74.6" y="192.6" fill="#0f9efc"/><use href="#h6" x="78.9" y="192.6" fill="#0dedd0"/><use href="#h6" x="83.1" y="192.6" fill="#14f5b2"/><use href="#h6" x="25.8" y="196.3" fill="#19ee20"/><use href="#h6" x="30.0" y="196.3" fill="#19ee20"/><use href="#h6" x="34.3" y="196.3" fill="#14f5b2"/><use href="#h6" x="38.5" y="196.3" fill="#14f5b2"/><use href="#h6" x="42.8" y="196.3" fill="#14f5b2"/><use href="#h6" x="47.0" y="196.3" fill="#14f5b2"/><use href="#h6" x="51.3" y="196.3" fill="#14f5b2"/><use href="#h6" x="55.5" y="196.3" fill="#14f5b2"/><use href="#h6" x="59.8" y="196.3" fill="#14f5b2"/><use href="#h6" x="64.0" y="196.3" fill="#0dedd0"/><use href="#h6" x="68.3" y="196.3" fill="#0863ff"/><use href="#h6" x="72.5" y="196.3" fill="#0863ff"/><use href="#h6" x="76.8" y="196.3" fill="#0863ff"/><use href="#h6" x="81.0" y="196.3" fill="#0dedd0"/><use href="#h6" x="85.3" y="196.3" fill="#0dedd0"/></g>
<rect x="20.5" y="123.0" width="67.9" height="76.8" fill="url(#d6)"/>
<rect x="18.20" y="124.60" width="1.4" height="74.15" fill="url(#cbg)"/>
<rect x="18.20" y="124.60" width="1.4" height="74.15" fill="#707080" fill-opacity="0.18"/>
<text x="54.0" y="121.8" class="t" font-size="6.90" text-anchor="middle" textLength="7.5" lengthAdjust="spacingAndGlyphs">EC</text>
<text x="17.2" y="136.0" class="k" font-size="6.19" text-anchor="end" textLength="9.5" lengthAdjust="spacingAndGlyphs">350</text>
<text x="17.2" y="150.0" class="k" font-size="6.19" text-anchor="end" textLength="9.5" lengthAdjust="spacingAndGlyphs">300</text>
<text x="17.2" y="164.1" class="k" font-size="6.19" text-anchor="end" textLength="9.5" lengthAdjust="spacingAndGlyphs">250</text>
<text x="17.2" y="177.8" class="k" font-size="6.19" text-anchor="end" textLength="9.5" lengthAdjust="spacingAndGlyphs">200</text>
<text x="17.2" y="191.6" class="k" font-size="6.19" text-anchor="end" textLength="9.5" lengthAdjust="spacingAndGlyphs">150</text>
<g stroke="#454550" stroke-opacity="0.33" stroke-width="0.6" stroke-linejoin="round"><use href="#h7" x="113.7" y="126.5" fill="#6bf516"/><use href="#h7" x="118.0" y="126.5" fill="#05e4ea"/><use href="#h7" x="122.4" y="126.5" fill="#6bf516"/><use href="#h7" x="126.7" y="126.5" fill="#05e4ea"/><use href="#h7" x="131.1" y="126.5" fill="#05e4ea"/><use href="#h7" x="135.5" y="126.5" fill="#6bf516"/><use href="#h7" x="139.8" y="126.5" fill="#6bf516"/><use href="#h7" x="144.2" y="126.5" fill="#f7f001"/><use href="#h7" x="148.5" y="126.5" fill="#91f814"/><use href="#h7" x="152.9" y="126.5" fill="#6bf516"/><use href="#h7" x="157.2" y="126.5" fill="#6bf516"/><use href="#h7" x="161.6" y="126.5" fill="#6bf516"/><use href="#h7" x="165.9" y="126.5" fill="#6bf516"/><use href="#h7" x="170.3" y="126.5" fill="#14f5b2"/><use href="#h7" x="174.6" y="126.5" fill="#05e4ea"/><use href="#h7" x="115.9" y="130.2" fill="#05e4ea"/><use href="#h7" x="120.2" y="130.2" fill="#6bf516"/><use href="#h7" x="124.6" y="130.2" fill="#6bf516"/><use href="#h7" x="128.9" y="130.2" fill="#6bf516"/><use href="#h7" x="133.3" y="130.2" fill="#6bf516"/><use href="#h7" x="137.6" y="130.2" fill="#6bf516"/><use href="#h7" x="142.0" y="130.2" fill="#6bf516"/><use href="#h7" x="146.3" y="130.2" fill="#6bf516"/><use href="#h7" x="150.7" y="130.2" fill="#6bf516"/><use href="#h7" x="155.0" y="130.2" fill="#6bf516"/><use href="#h7" x="159.4" y="130.2" fill="#91f814"/><use href="#h7" x="163.8" y="130.2" fill="#91f814"/><use href="#h7" x="168.1" y="130.2" fill="#6bf516"/><use href="#h7" x="172.5" y="130.2" fill="#6bf516"/><use href="#h7" x="176.8" y="130.2" fill="#14f5b2"/><use href="#h7" x="113.7" y="134.0" fill="#6bf516"/><use href="#h7" x="118.0" y="134.0" fill="#6bf516"/><use href="#h7" x="122.4" y="134.0" fill="#6bf516"/><use href="#h7" x="126.7" y="134.0" fill="#6bf516"/><use href="#h7" x="131.1" y="134.0" fill="#05e4ea"/><use href="#h7" x="135.5" y="134.0" fill="#14f5b2"/><use href="#h7" x="139.8" y="134.0" fill="#6bf516"/><use href="#h7" x="144.2" y="134.0" fill="#6bf516"/><use href="#h7" x="148.5" y="134.0" fill="#6bf516"/><use href="#h7" x="152.9" y="134.0" fill="#6bf516"/><use href="#h7" x="157.2" y="134.0" fill="#6bf516"/><use href="#h7" x="161.6" y="134.0" fill="#6bf516"/><use href="#h7" x="165.9" y="134.0" fill="#6bf516"/><use href="#h7" x="170.3" y="134.0" fill="#91f814"/><use href="#h7" x="174.6" y="134.0" fill="#6bf516"/><use href="#h7" x="115.9" y="137.7" fill="#f7f001"/><use href="#h7" x="120.2" y="137.7" fill="#6bf516"/><use href="#h7" x="124.6" y="137.7" fill="#14f5b2"/><use href="#h7" x="128.9" y="137.7" fill="#14f5b2"/><use href="#h7" x="133.3" y="137.7" fill="#14f5b2"/><use href="#h7" x="137.6" y="137.7" fill="#6bf516"/><use href="#h7" x="142.0" y="137.7" fill="#6bf516"/><use href="#h7" x="146.3" y="137.7" fill="#6bf516"/><use href="#h7" x="150.7" y="137.7" fill="#6bf516"/><use href="#h7" x="155.0" y="137.7" fill="#6bf516"/><use href="#h7" x="159.4" y="137.7" fill="#91f814"/><use href="#h7" x="163.8" y="137.7" fill="#f7f001"/><use href="#h7" x="168.1" y="137.7" fill="#f7f001"/><use href="#h7" x="172.5" y="137.7" fill="#91f814"/><use href="#h7" x="176.8" y="137.7" fill="#6bf516"/><use href="#h7" x="113.7" y="141.4" fill="#ff9800"/><use href="#h7" x="118.0" y="141.4" fill="#f7f001"/><use href="#h7" x="122.4" y="141.4" fill="#6bf516"/><use href="#h7" x="126.7" y="141.4" fill="#14f5b2"/><use href="#h7" x="131.1" y="141.4" fill="#6bf516"/><use href="#h7" x="135.5" y="141.4" fill="#6bf516"/><use href="#h7" x="139.8" y="141.4" fill="#6bf516"/><use href="#h7" x="144.2" y="141.4" fill="#91f814"/><use href="#h7" x="148.5" y="141.4" fill="#f7f001"/><use href="#h7" x="152.9" y="141.4" fill="#6bf516"/><use href="#h7" x="157.2" y="141.4" fill="#6bf516"/><use href="#h7" x="161.6" y="141.4" fill="#91f814"/><use href="#h7" x="165.9" y="141.4" fill="#f7f001"/><use href="#h7" x="170.3" y="141.4" fill="#91f814"/><use href="#h7" x="174.6" y="141.4" fill="#6bf516"/><use href="#h7" x="115.9" y="145.2" fill="#ff3f05"/><use href="#h7" x="120.2" y="145.2" fill="#f7f001"/><use href="#h7" x="124.6" y="145.2" fill="#6bf516"/><use href="#h7" x="128.9" y="145.2" fill="#6bf516"/><use href="#h7" x="133.3" y="145.2" fill="#6bf516"/><use href="#h7" x="137.6" y="145.2" fill="#6bf516"/><use href="#h7" x="142.0" y="145.2" fill="#6bf516"/><use href="#h7" x="146.3" y="145.2" fill="#91f814"/><use href="#h7" x="150.7" y="145.2" fill="#f7f001"/><use href="#h7" x="155.0" y="145.2" fill="#6bf516"/><use href="#h7" x="159.4" y="145.2" fill="#6bf516"/><use href="#h7" x="163.8" y="145.2" fill="#f7f001"/><use href="#h7" x="168.1" y="145.2" fill="#91f814"/><use href="#h7" x="172.5" y="145.2" fill="#6bf516"/><use href="#h7" x="176.8" y="145.2" fill="#6bf516"/><use href="#h7" x="113.7" y="148.9" fill="#ec120c"/><use href="#h7" x="118.0" y="148.9" fill="#ff3f05"/><use href="#h7" x="122.4" y="148.9" fill="#6bf516"/><use href="#h7" x="126.7" y="148.9" fill="#6bf516"/><use href="#h7" x="131.1" y="148.9" fill="#6bf516"/><use href="#h7" x="135.5" y="148.9" fill="#6bf516"/><use href="#h7" x="139.8" y="148.9" fill="#6bf516"/><use href="#h7" x="144.2" y="148.9" fill="#6bf516"/><use href="#h7" x="148.5" y="148.9" fill="#f7f001"/><use href="#h7" x="152.9" y="148.9" fill="#6bf516"/><use href="#h7" x="157.2" y="148.9" fill="#6bf516"/><use href="#h7" x="161.6" y="148.9" fill="#91f814"/><use href="#h7" x="165.9" y="148.9" fill="#ff9800"/><use href="#h7" x="170.3" y="148.9" fill="#f7f001"/><use href="#h7" x="174.6" y="148.9" fill="#6bf516"/><use href="#h7" x="115.9" y="152.7" fill="#ff3f05"/><use href="#h7" x="120.2" y="152.7" fill="#f7f001"/><use href="#h7" x="124.6" y="152.7" fill="#91f814"/><use href="#h7" x="128.9" y="152.7" fill="#91f814"/><use href="#h7" x="133.3" y="152.7" fill="#ff9800"/><use href="#h7" x="137.6" y="152.7" fill="#91f814"/><use href="#h7" x="142.0" y="152.7" fill="#6bf516"/><use href="#h7" x="146.3" y="152.7" fill="#6bf516"/><use href="#h7" x="150.7" y="152.7" fill="#6bf516"/><use href="#h7" x="155.0" y="152.7" fill="#6bf516"/><use href="#h7" x="159.4" y="152.7" fill="#6bf516"/><use href="#h7" x="163.8" y="152.7" fill="#91f814"/><use href="#h7" x="168.1" y="152.7" fill="#91f814"/><use href="#h7" x="172.5" y="152.7" fill="#6bf516"/><use href="#h7" x="176.8" y="152.7" fill="#6bf516"/><use href="#h7" x="113.7" y="156.4" fill="#91f814"/><use href="#h7" x="118.0" y="156.4" fill="#f7f001"/><use href="#h7" x="122.4" y="156.4" fill="#f7f001"/><use href="#h7" x="126.7" y="156.4" fill="#91f814"/><use href="#h7" x="131.1" y="156.4" fill="#ff9800"/><use href="#h7" x="135.5" y="156.4" fill="#f7f001"/><use href="#h7" x="139.8" y="156.4" fill="#6bf516"/><use href="#h7" x="144.2" y="156.4" fill="#6bf516"/><use href="#h7" x="148.5" y="156.4" fill="#6bf516"/><use href="#h7" x="152.9" y="156.4" fill="#6bf516"/><use href="#h7" x="157.2" y="156.4" fill="#6bf516"/><use href="#h7" x="161.6" y="156.4" fill="#6bf516"/><use href="#h7" x="165.9" y="156.4" fill="#f7f001"/><use href="#h7" x="170.3" y="156.4" fill="#6bf516"/><use href="#h7" x="174.6" y="156.4" fill="#6bf516"/><use href="#h7" x="115.9" y="160.1" fill="#91f814"/><use href="#h7" x="120.2" y="160.1" fill="#f7f001"/><use href="#h7" x="124.6" y="160.1" fill="#f7f001"/><use href="#h7" x="128.9" y="160.1" fill="#91f814"/><use href="#h7" x="133.3" y="160.1" fill="#6bf516"/><use href="#h7" x="137.6" y="160.1" fill="#6bf516"/><use href="#h7" x="142.0" y="160.1" fill="#6bf516"/><use href="#h7" x="146.3" y="160.1" fill="#6bf516"/><use href="#h7" x="150.7" y="160.1" fill="#6bf516"/><use href="#h7" x="155.0" y="160.1" fill="#6bf516"/><use href="#h7" x="159.4" y="160.1" fill="#6bf516"/><use href="#h7" x="163.8" y="160.1" fill="#91f814"/><use href="#h7" x="168.1" y="160.1" fill="#f7f001"/><use href="#h7" x="172.5" y="160.1" fill="#f7f001"/><use href="#h7" x="176.8" y="160.1" fill="#6bf516"/><use href="#h7" x="113.7" y="163.9" fill="#91f814"/><use href="#h7" x="118.0" y="163.9" fill="#f7f001"/><use href="#h7" x="122.4" y="163.9" fill="#91f814"/><use href="#h7" x="126.7" y="163.9" fill="#6bf516"/><use href="#h7" x="131.1" y="163.9" fill="#6bf516"/><use href="#h7" x="135.5" y="163.9" fill="#6bf516"/><use href="#h7" x="139.8" y="163.9" fill="#6bf516"/><use href="#h7" x="144.2" y="163.9" fill="#6bf516"/><use href="#h7" x="148.5" y="163.9" fill="#6bf516"/><use href="#h7" x="152.9" y="163.9" fill="#6bf516"/><use href="#h7" x="157.2" y="163.9" fill="#6bf516"/><use href="#h7" x="161.6" y="163.9" fill="#6bf516"/><use href="#h7" x="165.9" y="163.9" fill="#91f814"/><use href="#h7" x="170.3" y="163.9" fill="#f7f001"/><use href="#h7" x="174.6" y="163.9" fill="#f7f001"/><use href="#h7" x="115.9" y="167.6" fill="#6bf516"/><use href="#h7" x="120.2" y="167.6" fill="#6bf516"/><use href="#h7" x="124.6" y="167.6" fill="#6bf516"/><use href="#h7" x="128.9" y="167.6" fill="#6bf516"/><use href="#h7" x="133.3" y="167.6" fill="#05e4ea"/><use href="#h7" x="137.6" y="167.6" fill="#6bf516"/><use href="#h7" x="142.0" y="167.6" fill="#6bf516"/><use href="#h7" x="146.3" y="167.6" fill="#6bf516"/><use href="#h7" x="150.7" y="167.6" fill="#6bf516"/><use href="#h7" x="155.0" y="167.6" fill="#6bf516"/><use href="#h7" x="159.4" y="167.6" fill="#6bf516"/><use href="#h7" x="163.8" y="167.6" fill="#6bf516"/><use href="#h7" x="168.1" y="167.6" fill="#6bf516"/><use href="#h7" x="172.5" y="167.6" fill="#91f814"/><use href="#h7" x="176.8" y="167.6" fill="#6bf516"/><use href="#h7" x="113.7" y="171.3" fill="#14f5b2"/><use href="#h7" x="118.0" y="171.3" fill="#14f5b2"/><use href="#h7" x="122.4" y="171.3" fill="#14f5b2"/><use href="#h7" x="126.7" y="171.3" fill="#14f5b2"/><use href="#h7" x="131.1" y="171.3" fill="#0eefcb"/><use href="#h7" x="135.5" y="171.3" fill="#0863ff"/><use href="#h7" x="139.8" y="171.3" fill="#14f5b2"/><use href="#h7" x="144.2" y="171.3" fill="#19ee20"/><use href="#h7" x="148.5" y="171.3" fill="#14f5b2"/><use href="#h7" x="152.9" y="171.3" fill="#14f5b2"/><use href="#h7" x="157.2" y="171.3" fill="#14f5b2"/><use href="#h7" x="161.6" y="171.3" fill="#19ee20"/><use href="#h7" x="165.9" y="171.3" fill="#19ee20"/><use href="#h7" x="170.3" y="171.3" fill="#19ee20"/><use href="#h7" x="174.6" y="171.3" fill="#19ee20"/><use href="#h7" x="115.9" y="175.1" fill="#0eefcb"/><use href="#h7" x="120.2" y="175.1" fill="#0863ff"/><use href="#h7" x="124.6" y="175.1" fill="#0863ff"/><use href="#h7" x="128.9" y="175.1" fill="#0f9efc"/><use href="#h7" x="133.3" y="175.1" fill="#0eefcb"/><use href="#h7" x="137.6" y="175.1" fill="#0eefcb"/><use href="#h7" x="142.0" y="175.1" fill="#14f5b2"/><use href="#h7" x="146.3" y="175.1" fill="#14f5b2"/><use href="#h7" x="150.7" y="175.1" fill="#0eefcb"/><use href="#h7" x="155.0" y="175.1" fill="#0eefcb"/><use href="#h7" x="159.4" y="175.1" fill="#14f5b2"/><use href="#h7" x="163.8" y="175.1" fill="#14f5b2"/><use href="#h7" x="168.1" y="175.1" fill="#19ee20"/><use href="#h7" x="172.5" y="175.1" fill="#19ee20"/><use href="#h7" x="176.8" y="175.1" fill="#19ee20"/><use href="#h7" x="113.7" y="178.8" fill="#0f9efc"/><use href="#h7" x="118.0" y="178.8" fill="#0863ff"/><use href="#h7" x="122.4" y="178.8" fill="#000ee8"/><use href="#h7" x="126.7" y="178.8" fill="#042bfc"/><use href="#h7" x="131.1" y="178.8" fill="#0863ff"/><use href="#h7" x="135.5" y="178.8" fill="#0eefcb"/><use href="#h7" x="139.8" y="178.8" fill="#0eefcb"/><use href="#h7" x="144.2" y="178.8" fill="#14f5b2"/><use href="#h7" x="148.5" y="178.8" fill="#14f5b2"/><use href="#h7" x="152.9" y="178.8" fill="#0eefcb"/><use href="#h7" x="157.2" y="178.8" fill="#0eefcb"/><use href="#h7" x="161.6" y="178.8" fill="#14f5b2"/><use href="#h7" x="165.9" y="178.8" fill="#19ee20"/><use href="#h7" x="170.3" y="178.8" fill="#19ee20"/><use href="#h7" x="174.6" y="178.8" fill="#19ee20"/><use href="#h7" x="115.9" y="182.6" fill="#0eefcb"/><use href="#h7" x="120.2" y="182.6" fill="#0f9efc"/><use href="#h7" x="124.6" y="182.6" fill="#042bfc"/><use href="#h7" x="128.9" y="182.6" fill="#042bfc"/><use href="#h7" x="133.3" y="182.6" fill="#0f9efc"/><use href="#h7" x="137.6" y="182.6" fill="#0eefcb"/><use href="#h7" x="142.0" y="182.6" fill="#14f5b2"/><use href="#h7" x="146.3" y="182.6" fill="#91f814"/><use href="#h7" x="150.7" y="182.6" fill="#f7f001"/><use href="#h7" x="155.0" y="182.6" fill="#19ee20"/><use href="#h7" x="159.4" y="182.6" fill="#14f5b2"/><use href="#h7" x="163.8" y="182.6" fill="#14f5b2"/><use href="#h7" x="168.1" y="182.6" fill="#19ee20"/><use href="#h7" x="172.5" y="182.6" fill="#19ee20"/><use href="#h7" x="176.8" y="182.6" fill="#19ee20"/><use href="#h7" x="113.7" y="186.3" fill="#0eefcb"/><use href="#h7" x="118.0" y="186.3" fill="#0eefcb"/><use href="#h7" x="122.4" y="186.3" fill="#0f9efc"/><use href="#h7" x="126.7" y="186.3" fill="#0863ff"/><use href="#h7" x="131.1" y="186.3" fill="#0863ff"/><use href="#h7" x="135.5" y="186.3" fill="#0f9efc"/><use href="#h7" x="139.8" y="186.3" fill="#0eefcb"/><use href="#h7" x="144.2" y="186.3" fill="#19ee20"/><use href="#h7" x="148.5" y="186.3" fill="#f7f001"/><use href="#h7" x="152.9" y="186.3" fill="#91f814"/><use href="#h7" x="157.2" y="186.3" fill="#14f5b2"/><use href="#h7" x="161.6" y="186.3" fill="#14f5b2"/><use href="#h7" x="165.9" y="186.3" fill="#14f5b2"/><use href="#h7" x="170.3" y="186.3" fill="#19ee20"/><use href="#h7" x="174.6" y="186.3" fill="#19ee20"/><use href="#h7" x="115.9" y="190.0" fill="#0eefcb"/><use href="#h7" x="120.2" y="190.0" fill="#0eefcb"/><use href="#h7" x="124.6" y="190.0" fill="#0f9efc"/><use href="#h7" x="128.9" y="190.0" fill="#0eefcb"/><use href="#h7" x="133.3" y="190.0" fill="#0eefcb"/><use href="#h7" x="137.6" y="190.0" fill="#0eefcb"/><use href="#h7" x="142.0" y="190.0" fill="#14f5b2"/><use href="#h7" x="146.3" y="190.0" fill="#19ee20"/><use href="#h7" x="150.7" y="190.0" fill="#19ee20"/><use href="#h7" x="155.0" y="190.0" fill="#14f5b2"/><use href="#h7" x="159.4" y="190.0" fill="#0f9efc"/><use href="#h7" x="163.8" y="190.0" fill="#0eefcb"/><use href="#h7" x="168.1" y="190.0" fill="#14f5b2"/><use href="#h7" x="172.5" y="190.0" fill="#19ee20"/><use href="#h7" x="176.8" y="190.0" fill="#19ee20"/><use href="#h7" x="113.7" y="193.8" fill="#0eefcb"/><use href="#h7" x="118.0" y="193.8" fill="#0eefcb"/><use href="#h7" x="122.4" y="193.8" fill="#0eefcb"/><use href="#h7" x="126.7" y="193.8" fill="#0eefcb"/><use href="#h7" x="131.1" y="193.8" fill="#0eefcb"/><use href="#h7" x="135.5" y="193.8" fill="#0eefcb"/><use href="#h7" x="139.8" y="193.8" fill="#0eefcb"/><use href="#h7" x="144.2" y="193.8" fill="#14f5b2"/><use href="#h7" x="148.5" y="193.8" fill="#19ee20"/><use href="#h7" x="152.9" y="193.8" fill="#14f5b2"/><use href="#h7" x="157.2" y="193.8" fill="#0f9efc"/><use href="#h7" x="161.6" y="193.8" fill="#0f9efc"/><use href="#h7" x="165.9" y="193.8" fill="#0eefcb"/><use href="#h7" x="170.3" y="193.8" fill="#14f5b2"/><use href="#h7" x="174.6" y="193.8" fill="#19ee20"/><use href="#h7" x="115.9" y="197.5" fill="#0f9efc"/><use href="#h7" x="120.2" y="197.5" fill="#0863ff"/><use href="#h7" x="124.6" y="197.5" fill="#0eefcb"/><use href="#h7" x="128.9" y="197.5" fill="#0eefcb"/><use href="#h7" x="133.3" y="197.5" fill="#0eefcb"/><use href="#h7" x="137.6" y="197.5" fill="#14f5b2"/><use href="#h7" x="142.0" y="197.5" fill="#14f5b2"/><use href="#h7" x="146.3" y="197.5" fill="#14f5b2"/><use href="#h7" x="150.7" y="197.5" fill="#19ee20"/><use href="#h7" x="155.0" y="197.5" fill="#14f5b2"/><use href="#h7" x="159.4" y="197.5" fill="#0eefcb"/><use href="#h7" x="163.8" y="197.5" fill="#0863ff"/><use href="#h7" x="168.1" y="197.5" fill="#0f9efc"/><use href="#h7" x="172.5" y="197.5" fill="#0eefcb"/><use href="#h7" x="176.8" y="197.5" fill="#0eefcb"/></g>
<rect x="110.5" y="123.0" width="69.5" height="78.0" fill="url(#d7)"/>
<rect x="108.05" y="124.60" width="1.4" height="75.40" fill="url(#cbg)"/>
<rect x="108.05" y="124.60" width="1.4" height="75.40" fill="#707080" fill-opacity="0.18"/>
<text x="142.4" y="121.8" class="t" font-size="6.90" text-anchor="middle" textLength="7.5" lengthAdjust="spacingAndGlyphs">pH</text>
<text x="106.2" y="129.8" class="k" font-size="6.34" text-anchor="end" textLength="8.1" lengthAdjust="spacingAndGlyphs">8.0</text>
<text x="106.2" y="142.3" class="k" font-size="6.34" text-anchor="end" textLength="8.1" lengthAdjust="spacingAndGlyphs">7.8</text>
<text x="106.2" y="155.7" class="k" font-size="6.34" text-anchor="end" textLength="8.1" lengthAdjust="spacingAndGlyphs">7.6</text>
<text x="106.2" y="168.9" class="k" font-size="6.34" text-anchor="end" textLength="8.1" lengthAdjust="spacingAndGlyphs">7.4</text>
<text x="106.2" y="181.7" class="k" font-size="6.34" text-anchor="end" textLength="8.1" lengthAdjust="spacingAndGlyphs">7.2</text>
<text x="106.2" y="194.2" class="k" font-size="6.34" text-anchor="end" textLength="8.1" lengthAdjust="spacingAndGlyphs">7.0</text>
<g stroke="#454550" stroke-opacity="0.33" stroke-width="0.6" stroke-linejoin="round"><use href="#h8" x="202.7" y="126.7" fill="#05e4ea"/><use href="#h8" x="207.1" y="126.7" fill="#14f5b2"/><use href="#h8" x="211.6" y="126.7" fill="#14f5b2"/><use href="#h8" x="216.0" y="126.7" fill="#05e4ea"/><use href="#h8" x="220.4" y="126.7" fill="#05e4ea"/><use href="#h8" x="224.8" y="126.7" fill="#05e4ea"/><use href="#h8" x="229.3" y="126.7" fill="#05e4ea"/><use href="#h8" x="233.7" y="126.7" fill="#52f317"/><use href="#h8" x="238.1" y="126.7" fill="#52f317"/><use href="#h8" x="242.5" y="126.7" fill="#05e4ea"/><use href="#h8" x="247.0" y="126.7" fill="#05e4ea"/><use href="#h8" x="251.4" y="126.7" fill="#52f317"/><use href="#h8" x="255.8" y="126.7" fill="#52f317"/><use href="#h8" x="260.2" y="126.7" fill="#52f317"/><use href="#h8" x="264.7" y="126.7" fill="#52f317"/><use href="#h8" x="204.9" y="130.5" fill="#14f5b2"/><use href="#h8" x="209.4" y="130.5" fill="#14f5b2"/><use href="#h8" x="213.8" y="130.5" fill="#05e4ea"/><use href="#h8" x="218.2" y="130.5" fill="#05e4ea"/><use href="#h8" x="222.6" y="130.5" fill="#05e4ea"/><use href="#h8" x="227.1" y="130.5" fill="#14f5b2"/><use href="#h8" x="231.5" y="130.5" fill="#14f5b2"/><use href="#h8" x="235.9" y="130.5" fill="#05e4ea"/><use href="#h8" x="240.3" y="130.5" fill="#0863ff"/><use href="#h8" x="244.8" y="130.5" fill="#14f5b2"/><use href="#h8" x="249.2" y="130.5" fill="#91f814"/><use href="#h8" x="253.6" y="130.5" fill="#91f814"/><use href="#h8" x="258.0" y="130.5" fill="#91f814"/><use href="#h8" x="262.5" y="130.5" fill="#52f317"/><use href="#h8" x="266.9" y="130.5" fill="#52f317"/><use href="#h8" x="202.7" y="134.2" fill="#52f317"/><use href="#h8" x="207.1" y="134.2" fill="#52f317"/><use href="#h8" x="211.6" y="134.2" fill="#14f5b2"/><use href="#h8" x="216.0" y="134.2" fill="#05e4ea"/><use href="#h8" x="220.4" y="134.2" fill="#0863ff"/><use href="#h8" x="224.8" y="134.2" fill="#05e4ea"/><use href="#h8" x="229.3" y="134.2" fill="#14f5b2"/><use href="#h8" x="233.7" y="134.2" fill="#14f5b2"/><use href="#h8" x="238.1" y="134.2" fill="#05e4ea"/><use href="#h8" x="242.5" y="134.2" fill="#14f5b2"/><use href="#h8" x="247.0" y="134.2" fill="#52f317"/><use href="#h8" x="251.4" y="134.2" fill="#fbd700"/><use href="#h8" x="255.8" y="134.2" fill="#fbd700"/><use href="#h8" x="260.2" y="134.2" fill="#91f814"/><use href="#h8" x="264.7" y="134.2" fill="#52f317"/><use href="#h8" x="204.9" y="138.0" fill="#52f317"/><use href="#h8" x="209.4" y="138.0" fill="#52f317"/><use href="#h8" x="213.8" y="138.0" fill="#14f5b2"/><use href="#h8" x="218.2" y="138.0" fill="#14f5b2"/><use href="#h8" x="222.6" y="138.0" fill="#14f5b2"/><use href="#h8" x="227.1" y="138.0" fill="#52f317"/><use href="#h8" x="231.5" y="138.0" fill="#52f317"/><use href="#h8" x="235.9" y="138.0" fill="#52f317"/><use href="#h8" x="240.3" y="138.0" fill="#52f317"/><use href="#h8" x="244.8" y="138.0" fill="#52f317"/><use href="#h8" x="249.2" y="138.0" fill="#fbd700"/><use href="#h8" x="253.6" y="138.0" fill="#ff9800"/><use href="#h8" x="258.0" y="138.0" fill="#fbd700"/><use href="#h8" x="262.5" y="138.0" fill="#52f317"/><use href="#h8" x="266.9" y="138.0" fill="#52f317"/><use href="#h8" x="202.7" y="141.7" fill="#91f814"/><use href="#h8" x="207.1" y="141.7" fill="#52f317"/><use href="#h8" x="211.6" y="141.7" fill="#52f317"/><use href="#h8" x="216.0" y="141.7" fill="#52f317"/><use href="#h8" x="220.4" y="141.7" fill="#52f317"/><use href="#h8" x="224.8" y="141.7" fill="#52f317"/><use href="#h8" x="229.3" y="141.7" fill="#52f317"/><use href="#h8" x="233.7" y="141.7" fill="#91f814"/><use href="#h8" x="238.1" y="141.7" fill="#91f814"/><use href="#h8" x="242.5" y="141.7" fill="#91f814"/><use href="#h8" x="247.0" y="141.7" fill="#fbd700"/><use href="#h8" x="251.4" y="141.7" fill="#ff9800"/><use href="#h8" x="255.8" y="141.7" fill="#ff9800"/><use href="#h8" x="260.2" y="141.7" fill="#91f814"/><use href="#h8" x="264.7" y="141.7" fill="#52f317"/><use href="#h8" x="204.9" y="145.5" fill="#91f814"/><use href="#h8" x="209.4" y="145.5" fill="#91f814"/><use href="#h8" x="213.8" y="145.5" fill="#91f814"/><use href="#h8" x="218.2" y="145.5" fill="#91f814"/><use href="#h8" x="222.6" y="145.5" fill="#52f317"/><use href="#h8" x="227.1" y="145.5" fill="#52f317"/><use href="#h8" x="231.5" y="145.5" fill="#52f317"/><use href="#h8" x="235.9" y="145.5" fill="#91f814"/><use href="#h8" x="240.3" y="145.5" fill="#91f814"/><use href="#h8" x="244.8" y="145.5" fill="#fbd700"/><use href="#h8" x="249.2" y="145.5" fill="#ff9800"/><use href="#h8" x="253.6" y="145.5" fill="#fbd700"/><use href="#h8" x="258.0" y="145.5" fill="#fbd700"/><use href="#h8" x="262.5" y="145.5" fill="#91f814"/><use href="#h8" x="266.9" y="145.5" fill="#fbd700"/><use href="#h8" x="202.7" y="149.2" fill="#ff9800"/><use href="#h8" x="207.1" y="149.2" fill="#fbd700"/><use href="#h8" x="211.6" y="149.2" fill="#91f814"/><use href="#h8" x="216.0" y="149.2" fill="#fbd700"/><use href="#h8" x="220.4" y="149.2" fill="#52f317"/><use href="#h8" x="224.8" y="149.2" fill="#52f317"/><use href="#h8" x="229.3" y="149.2" fill="#52f317"/><use href="#h8" x="233.7" y="149.2" fill="#14f5b2"/><use href="#h8" x="238.1" y="149.2" fill="#91f814"/><use href="#h8" x="242.5" y="149.2" fill="#ff9800"/><use href="#h8" x="247.0" y="149.2" fill="#ff3f05"/><use href="#h8" x="251.4" y="149.2" fill="#fbd700"/><use href="#h8" x="255.8" y="149.2" fill="#fbd700"/><use href="#h8" x="260.2" y="149.2" fill="#fbd700"/><use href="#h8" x="264.7" y="149.2" fill="#ff3f05"/><use href="#h8" x="204.9" y="153.0" fill="#ff9800"/><use href="#h8" x="209.4" y="153.0" fill="#fbd700"/><use href="#h8" x="213.8" y="153.0" fill="#91f814"/><use href="#h8" x="218.2" y="153.0" fill="#52f317"/><use href="#h8" x="222.6" y="153.0" fill="#52f317"/><use href="#h8" x="227.1" y="153.0" fill="#52f317"/><use href="#h8" x="231.5" y="153.0" fill="#52f317"/><use href="#h8" x="235.9" y="153.0" fill="#91f814"/><use href="#h8" x="240.3" y="153.0" fill="#ff9800"/><use href="#h8" x="244.8" y="153.0" fill="#ec120c"/><use href="#h8" x="249.2" y="153.0" fill="#ff9800"/><use href="#h8" x="253.6" y="153.0" fill="#fbd700"/><use href="#h8" x="258.0" y="153.0" fill="#fbd700"/><use href="#h8" x="262.5" y="153.0" fill="#ff9800"/><use href="#h8" x="266.9" y="153.0" fill="#ff3f05"/><use href="#h8" x="202.7" y="156.8" fill="#fbd700"/><use href="#h8" x="207.1" y="156.8" fill="#91f814"/><use href="#h8" x="211.6" y="156.8" fill="#52f317"/><use href="#h8" x="216.0" y="156.8" fill="#05e4ea"/><use href="#h8" x="220.4" y="156.8" fill="#52f317"/><use href="#h8" x="224.8" y="156.8" fill="#91f814"/><use href="#h8" x="229.3" y="156.8" fill="#91f814"/><use href="#h8" x="233.7" y="156.8" fill="#91f814"/><use href="#h8" x="238.1" y="156.8" fill="#fbd700"/><use href="#h8" x="242.5" y="156.8" fill="#ff3f05"/><use href="#h8" x="247.0" y="156.8" fill="#ff9800"/><use href="#h8" x="251.4" y="156.8" fill="#fbd700"/><use href="#h8" x="255.8" y="156.8" fill="#ff9800"/><use href="#h8" x="260.2" y="156.8" fill="#ff3f05"/><use href="#h8" x="264.7" y="156.8" fill="#ff3f05"/><use href="#h8" x="204.9" y="160.5" fill="#fbd700"/><use href="#h8" x="209.4" y="160.5" fill="#91f814"/><use href="#h8" x="213.8" y="160.5" fill="#91f814"/><use href="#h8" x="218.2" y="160.5" fill="#fbd700"/><use href="#h8" x="222.6" y="160.5" fill="#ff9800"/><use href="#h8" x="227.1" y="160.5" fill="#fbd700"/><use href="#h8" x="231.5" y="160.5" fill="#fbd700"/><use href="#h8" x="235.9" y="160.5" fill="#ff9800"/><use href="#h8" x="240.3" y="160.5" fill="#ff9800"/><use href="#h8" x="244.8" y="160.5" fill="#ff9800"/><use href="#h8" x="249.2" y="160.5" fill="#fbd700"/><use href="#h8" x="253.6" y="160.5" fill="#fbd700"/><use href="#h8" x="258.0" y="160.5" fill="#ff9800"/><use href="#h8" x="262.5" y="160.5" fill="#ff3f05"/><use href="#h8" x="266.9" y="160.5" fill="#ff3f05"/><use href="#h8" x="202.7" y="164.3" fill="#91f814"/><use href="#h8" x="207.1" y="164.3" fill="#fbd700"/><use href="#h8" x="211.6" y="164.3" fill="#fbd700"/><use href="#h8" x="216.0" y="164.3" fill="#fbd700"/><use href="#h8" x="220.4" y="164.3" fill="#ff9800"/><use href="#h8" x="224.8" y="164.3" fill="#fbd700"/><use href="#h8" x="229.3" y="164.3" fill="#fbd700"/><use href="#h8" x="233.7" y="164.3" fill="#ff9800"/><use href="#h8" x="238.1" y="164.3" fill="#ff9800"/><use href="#h8" x="242.5" y="164.3" fill="#ff9800"/><use href="#h8" x="247.0" y="164.3" fill="#ff9800"/><use href="#h8" x="251.4" y="164.3" fill="#fbd700"/><use href="#h8" x="255.8" y="164.3" fill="#ff9800"/><use href="#h8" x="260.2" y="164.3" fill="#ff3f05"/><use href="#h8" x="264.7" y="164.3" fill="#ff3f05"/><use href="#h8" x="204.9" y="168.0" fill="#91f814"/><use href="#h8" x="209.4" y="168.0" fill="#91f814"/><use href="#h8" x="213.8" y="168.0" fill="#91f814"/><use href="#h8" x="218.2" y="168.0" fill="#fbd700"/><use href="#h8" x="222.6" y="168.0" fill="#fbd700"/><use href="#h8" x="227.1" y="168.0" fill="#fbd700"/><use href="#h8" x="231.5" y="168.0" fill="#fbd700"/><use href="#h8" x="235.9" y="168.0" fill="#fbd700"/><use href="#h8" x="240.3" y="168.0" fill="#fbd700"/><use href="#h8" x="244.8" y="168.0" fill="#fbd700"/><use href="#h8" x="249.2" y="168.0" fill="#fbd700"/><use href="#h8" x="253.6" y="168.0" fill="#fbd700"/><use href="#h8" x="258.0" y="168.0" fill="#ff9800"/><use href="#h8" x="262.5" y="168.0" fill="#ff9800"/><use href="#h8" x="266.9" y="168.0" fill="#ff3f05"/><use href="#h8" x="202.7" y="171.8" fill="#52f317"/><use href="#h8" x="207.1" y="171.8" fill="#91f814"/><use href="#h8" x="211.6" y="171.8" fill="#52f317"/><use href="#h8" x="216.0" y="171.8" fill="#52f317"/><use href="#h8" x="220.4" y="171.8" fill="#52f317"/><use href="#h8" x="224.8" y="171.8" fill="#91f814"/><use href="#h8" x="229.3" y="171.8" fill="#91f814"/><use href="#h8" x="233.7" y="171.8" fill="#91f814"/><use href="#h8" x="238.1" y="171.8" fill="#91f814"/><use href="#h8" x="242.5" y="171.8" fill="#fbd700"/><use href="#h8" x="247.0" y="171.8" fill="#fbd700"/><use href="#h8" x="251.4" y="171.8" fill="#fbd700"/><use href="#h8" x="255.8" y="171.8" fill="#fbd700"/><use href="#h8" x="260.2" y="171.8" fill="#ff9800"/><use href="#h8" x="264.7" y="171.8" fill="#ff9800"/><use href="#h8" x="204.9" y="175.6" fill="#19ee20"/><use href="#h8" x="209.4" y="175.6" fill="#05e4ea"/><use href="#h8" x="213.8" y="175.6" fill="#05e4ea"/><use href="#h8" x="218.2" y="175.6" fill="#0f9efc"/><use href="#h8" x="222.6" y="175.6" fill="#05e4ea"/><use href="#h8" x="227.1" y="175.6" fill="#19ee20"/><use href="#h8" x="231.5" y="175.6" fill="#19ee20"/><use href="#h8" x="235.9" y="175.6" fill="#19ee20"/><use href="#h8" x="240.3" y="175.6" fill="#91f814"/><use href="#h8" x="244.8" y="175.6" fill="#fbd700"/><use href="#h8" x="249.2" y="175.6" fill="#fbd700"/><use href="#h8" x="253.6" y="175.6" fill="#fbd700"/><use href="#h8" x="258.0" y="175.6" fill="#fbd700"/><use href="#h8" x="262.5" y="175.6" fill="#fbd700"/><use href="#h8" x="266.9" y="175.6" fill="#fbd700"/><use href="#h8" x="202.7" y="179.3" fill="#19ee20"/><use href="#h8" x="207.1" y="179.3" fill="#0f9efc"/><use href="#h8" x="211.6" y="179.3" fill="#042bfc"/><use href="#h8" x="216.0" y="179.3" fill="#05e4ea"/><use href="#h8" x="220.4" y="179.3" fill="#05e4ea"/><use href="#h8" x="224.8" y="179.3" fill="#19ee20"/><use href="#h8" x="229.3" y="179.3" fill="#19ee20"/><use href="#h8" x="233.7" y="179.3" fill="#19ee20"/><use href="#h8" x="238.1" y="179.3" fill="#19ee20"/><use href="#h8" x="242.5" y="179.3" fill="#91f814"/><use href="#h8" x="247.0" y="179.3" fill="#fbd700"/><use href="#h8" x="251.4" y="179.3" fill="#fbd700"/><use href="#h8" x="255.8" y="179.3" fill="#fbd700"/><use href="#h8" x="260.2" y="179.3" fill="#fbd700"/><use href="#h8" x="264.7" y="179.3" fill="#91f814"/><use href="#h8" x="204.9" y="183.1" fill="#19ee20"/><use href="#h8" x="209.4" y="183.1" fill="#19ee20"/><use href="#h8" x="213.8" y="183.1" fill="#ff3f05"/><use href="#h8" x="218.2" y="183.1" fill="#19ee20"/><use href="#h8" x="222.6" y="183.1" fill="#19ee20"/><use href="#h8" x="227.1" y="183.1" fill="#05e4ea"/><use href="#h8" x="231.5" y="183.1" fill="#19ee20"/><use href="#h8" x="235.9" y="183.1" fill="#ff3f05"/><use href="#h8" x="240.3" y="183.1" fill="#ff3f05"/><use href="#h8" x="244.8" y="183.1" fill="#91f814"/><use href="#h8" x="249.2" y="183.1" fill="#19ee20"/><use href="#h8" x="253.6" y="183.1" fill="#19ee20"/><use href="#h8" x="258.0" y="183.1" fill="#19ee20"/><use href="#h8" x="262.5" y="183.1" fill="#19ee20"/><use href="#h8" x="266.9" y="183.1" fill="#19ee20"/><use href="#h8" x="202.7" y="186.8" fill="#19ee20"/><use href="#h8" x="207.1" y="186.8" fill="#fbd700"/><use href="#h8" x="211.6" y="186.8" fill="#ff3f05"/><use href="#h8" x="216.0" y="186.8" fill="#ff9800"/><use href="#h8" x="220.4" y="186.8" fill="#19ee20"/><use href="#h8" x="224.8" y="186.8" fill="#19ee20"/><use href="#h8" x="229.3" y="186.8" fill="#05e4ea"/><use href="#h8" x="233.7" y="186.8" fill="#fbd700"/><use href="#h8" x="238.1" y="186.8" fill="#ec120c"/><use href="#h8" x="242.5" y="186.8" fill="#fbd700"/><use href="#h8" x="247.0" y="186.8" fill="#05e4ea"/><use href="#h8" x="251.4" y="186.8" fill="#05e4ea"/><use href="#h8" x="255.8" y="186.8" fill="#14f5b2"/><use href="#h8" x="260.2" y="186.8" fill="#19ee20"/><use href="#h8" x="264.7" y="186.8" fill="#19ee20"/><use href="#h8" x="204.9" y="190.6" fill="#91f814"/><use href="#h8" x="209.4" y="190.6" fill="#ff9800"/><use href="#h8" x="213.8" y="190.6" fill="#ec120c"/><use href="#h8" x="218.2" y="190.6" fill="#fbd700"/><use href="#h8" x="222.6" y="190.6" fill="#19ee20"/><use href="#h8" x="227.1" y="190.6" fill="#19ee20"/><use href="#h8" x="231.5" y="190.6" fill="#19ee20"/><use href="#h8" x="235.9" y="190.6" fill="#91f814"/><use href="#h8" x="240.3" y="190.6" fill="#91f814"/><use href="#h8" x="244.8" y="190.6" fill="#14f5b2"/><use href="#h8" x="249.2" y="190.6" fill="#042bfc"/><use href="#h8" x="253.6" y="190.6" fill="#0863ff"/><use href="#h8" x="258.0" y="190.6" fill="#05e4ea"/><use href="#h8" x="262.5" y="190.6" fill="#14f5b2"/><use href="#h8" x="266.9" y="190.6" fill="#19ee20"/><use href="#h8" x="202.7" y="194.3" fill="#19ee20"/><use href="#h8" x="207.1" y="194.3" fill="#fbd700"/><use href="#h8" x="211.6" y="194.3" fill="#ff9800"/><use href="#h8" x="216.0" y="194.3" fill="#fbd700"/><use href="#h8" x="220.4" y="194.3" fill="#91f814"/><use href="#h8" x="224.8" y="194.3" fill="#19ee20"/><use href="#h8" x="229.3" y="194.3" fill="#19ee20"/><use href="#h8" x="233.7" y="194.3" fill="#19ee20"/><use href="#h8" x="238.1" y="194.3" fill="#19ee20"/><use href="#h8" x="242.5" y="194.3" fill="#14f5b2"/><use href="#h8" x="247.0" y="194.3" fill="#042bfc"/><use href="#h8" x="251.4" y="194.3" fill="#000ee8"/><use href="#h8" x="255.8" y="194.3" fill="#042bfc"/><use href="#h8" x="260.2" y="194.3" fill="#0f9efc"/><use href="#h8" x="264.7" y="194.3" fill="#14f5b2"/><use href="#h8" x="204.9" y="198.1" fill="#91f814"/><use href="#h8" x="209.4" y="198.1" fill="#ec120c"/><use href="#h8" x="213.8" y="198.1" fill="#ff9800"/><use href="#h8" x="218.2" y="198.1" fill="#fbd700"/><use href="#h8" x="222.6" y="198.1" fill="#91f814"/><use href="#h8" x="227.1" y="198.1" fill="#19ee20"/><use href="#h8" x="231.5" y="198.1" fill="#19ee20"/><use href="#h8" x="235.9" y="198.1" fill="#19ee20"/><use href="#h8" x="240.3" y="198.1" fill="#19ee20"/><use href="#h8" x="244.8" y="198.1" fill="#05e4ea"/><use href="#h8" x="249.2" y="198.1" fill="#000ee8"/><use href="#h8" x="253.6" y="198.1" fill="#000ee8"/><use href="#h8" x="258.0" y="198.1" fill="#042bfc"/><use href="#h8" x="262.5" y="198.1" fill="#0863ff"/><use href="#h8" x="266.9" y="198.1" fill="#05e4ea"/></g>
<rect x="199.5" y="123.2" width="70.6" height="78.4" fill="url(#d8)"/>
<rect x="197.10" y="124.80" width="1.4" height="75.80" fill="url(#cbg)"/>
<rect x="197.10" y="124.80" width="1.4" height="75.80" fill="#707080" fill-opacity="0.18"/>
<text x="231.3" y="121.8" class="t" font-size="6.90" text-anchor="middle" textLength="9.4" lengthAdjust="spacingAndGlyphs">DO</text>
<text x="195.6" y="140.7" class="k" font-size="6.44" text-anchor="end" textLength="6.6" lengthAdjust="spacingAndGlyphs">10</text>
<text x="195.6" y="158.3" class="k" font-size="6.44" text-anchor="end" textLength="3.3" lengthAdjust="spacingAndGlyphs">9</text>
<text x="195.6" y="175.3" class="k" font-size="6.44" text-anchor="end" textLength="3.3" lengthAdjust="spacingAndGlyphs">8</text>
<text x="195.6" y="192.3" class="k" font-size="6.44" text-anchor="end" textLength="3.3" lengthAdjust="spacingAndGlyphs">7</text>
<g stroke="#454550" stroke-opacity="0.33" stroke-width="0.6" stroke-linejoin="round"><use href="#h9" x="294.3" y="127.3" fill="#ff9800"/><use href="#h9" x="298.8" y="127.3" fill="#ec120c"/><use href="#h9" x="303.2" y="127.3" fill="#ff9800"/><use href="#h9" x="307.6" y="127.3" fill="#19ee20"/><use href="#h9" x="312.1" y="127.3" fill="#91f814"/><use href="#h9" x="316.5" y="127.3" fill="#91f814"/><use href="#h9" x="321.0" y="127.3" fill="#19ee20"/><use href="#h9" x="325.4" y="127.3" fill="#16f386"/><use href="#h9" x="329.8" y="127.3" fill="#16f386"/><use href="#h9" x="334.3" y="127.3" fill="#19ee20"/><use href="#h9" x="338.7" y="127.3" fill="#f7f001"/><use href="#h9" x="343.1" y="127.3" fill="#19ee20"/><use href="#h9" x="347.6" y="127.3" fill="#19ee20"/><use href="#h9" x="352.0" y="127.3" fill="#ff9800"/><use href="#h9" x="356.5" y="127.3" fill="#ec120c"/><use href="#h9" x="296.5" y="131.2" fill="#ff3f05"/><use href="#h9" x="301.0" y="131.2" fill="#ff9800"/><use href="#h9" x="305.4" y="131.2" fill="#f7f001"/><use href="#h9" x="309.9" y="131.2" fill="#91f814"/><use href="#h9" x="314.3" y="131.2" fill="#f7f001"/><use href="#h9" x="318.7" y="131.2" fill="#91f814"/><use href="#h9" x="323.2" y="131.2" fill="#19ee20"/><use href="#h9" x="327.6" y="131.2" fill="#19ee20"/><use href="#h9" x="332.0" y="131.2" fill="#19ee20"/><use href="#h9" x="336.5" y="131.2" fill="#19ee20"/><use href="#h9" x="340.9" y="131.2" fill="#19ee20"/><use href="#h9" x="345.4" y="131.2" fill="#19ee20"/><use href="#h9" x="349.8" y="131.2" fill="#91f814"/><use href="#h9" x="354.2" y="131.2" fill="#ff9800"/><use href="#h9" x="358.7" y="131.2" fill="#ff9800"/><use href="#h9" x="294.3" y="135.0" fill="#f7f001"/><use href="#h9" x="298.8" y="135.0" fill="#19ee20"/><use href="#h9" x="303.2" y="135.0" fill="#19ee20"/><use href="#h9" x="307.6" y="135.0" fill="#19ee20"/><use href="#h9" x="312.1" y="135.0" fill="#19ee20"/><use href="#h9" x="316.5" y="135.0" fill="#19ee20"/><use href="#h9" x="321.0" y="135.0" fill="#19ee20"/><use href="#h9" x="325.4" y="135.0" fill="#16f386"/><use href="#h9" x="329.8" y="135.0" fill="#16f386"/><use href="#h9" x="334.3" y="135.0" fill="#16f386"/><use href="#h9" x="338.7" y="135.0" fill="#0dedd0"/><use href="#h9" x="343.1" y="135.0" fill="#16f386"/><use href="#h9" x="347.6" y="135.0" fill="#19ee20"/><use href="#h9" x="352.0" y="135.0" fill="#19ee20"/><use href="#h9" x="356.5" y="135.0" fill="#f7f001"/><use href="#h9" x="296.5" y="138.8" fill="#16f386"/><use href="#h9" x="301.0" y="138.8" fill="#16f386"/><use href="#h9" x="305.4" y="138.8" fill="#19ee20"/><use href="#h9" x="309.9" y="138.8" fill="#19ee20"/><use href="#h9" x="314.3" y="138.8" fill="#19ee20"/><use href="#h9" x="318.7" y="138.8" fill="#16f386"/><use href="#h9" x="323.2" y="138.8" fill="#0dedd0"/><use href="#h9" x="327.6" y="138.8" fill="#0dedd0"/><use href="#h9" x="332.0" y="138.8" fill="#0dedd0"/><use href="#h9" x="336.5" y="138.8" fill="#0f9efc"/><use href="#h9" x="340.9" y="138.8" fill="#0dedd0"/><use href="#h9" x="345.4" y="138.8" fill="#0863ff"/><use href="#h9" x="349.8" y="138.8" fill="#0dedd0"/><use href="#h9" x="354.2" y="138.8" fill="#16f386"/><use href="#h9" x="358.7" y="138.8" fill="#19ee20"/><use href="#h9" x="294.3" y="142.6" fill="#0f9efc"/><use href="#h9" x="298.8" y="142.6" fill="#0dedd0"/><use href="#h9" x="303.2" y="142.6" fill="#0dedd0"/><use href="#h9" x="307.6" y="142.6" fill="#16f386"/><use href="#h9" x="312.1" y="142.6" fill="#16f386"/><use href="#h9" x="316.5" y="142.6" fill="#16f386"/><use href="#h9" x="321.0" y="142.6" fill="#0dedd0"/><use href="#h9" x="325.4" y="142.6" fill="#0dedd0"/><use href="#h9" x="329.8" y="142.6" fill="#0dedd0"/><use href="#h9" x="334.3" y="142.6" fill="#0f9efc"/><use href="#h9" x="338.7" y="142.6" fill="#0f9efc"/><use href="#h9" x="343.1" y="142.6" fill="#042bfc"/><use href="#h9" x="347.6" y="142.6" fill="#0f9efc"/><use href="#h9" x="352.0" y="142.6" fill="#0dedd0"/><use href="#h9" x="356.5" y="142.6" fill="#16f386"/><use href="#h9" x="296.5" y="146.4" fill="#0dedd0"/><use href="#h9" x="301.0" y="146.4" fill="#0dedd0"/><use href="#h9" x="305.4" y="146.4" fill="#0dedd0"/><use href="#h9" x="309.9" y="146.4" fill="#0dedd0"/><use href="#h9" x="314.3" y="146.4" fill="#0dedd0"/><use href="#h9" x="318.7" y="146.4" fill="#16f386"/><use href="#h9" x="323.2" y="146.4" fill="#16f386"/><use href="#h9" x="327.6" y="146.4" fill="#0dedd0"/><use href="#h9" x="332.0" y="146.4" fill="#0f9efc"/><use href="#h9" x="336.5" y="146.4" fill="#0f9efc"/><use href="#h9" x="340.9" y="146.4" fill="#0f9efc"/><use href="#h9" x="345.4" y="146.4" fill="#0f9efc"/><use href="#h9" x="349.8" y="146.4" fill="#0dedd0"/><use href="#h9" x="354.2" y="146.4" fill="#0dedd0"/><use href="#h9" x="358.7" y="146.4" fill="#16f386"/><use href="#h9" x="294.3" y="150.2" fill="#0863ff"/><use href="#h9" x="298.8" y="150.2" fill="#0f9efc"/><use href="#h9" x="303.2" y="150.2" fill="#0dedd0"/><use href="#h9" x="307.6" y="150.2" fill="#0863ff"/><use href="#h9" x="312.1" y="150.2" fill="#0dedd0"/><use href="#h9" x="316.5" y="150.2" fill="#16f386"/><use href="#h9" x="321.0" y="150.2" fill="#16f386"/><use href="#h9" x="325.4" y="150.2" fill="#19ee20"/><use href="#h9" x="329.8" y="150.2" fill="#0dedd0"/><use href="#h9" x="334.3" y="150.2" fill="#0863ff"/><use href="#h9" x="338.7" y="150.2" fill="#000ee8"/><use href="#h9" x="343.1" y="150.2" fill="#0863ff"/><use href="#h9" x="347.6" y="150.2" fill="#0f9efc"/><use href="#h9" x="352.0" y="150.2" fill="#0f9efc"/><use href="#h9" x="356.5" y="150.2" fill="#0863ff"/><use href="#h9" x="296.5" y="154.0" fill="#0863ff"/><use href="#h9" x="301.0" y="154.0" fill="#0f9efc"/><use href="#h9" x="305.4" y="154.0" fill="#0f9efc"/><use href="#h9" x="309.9" y="154.0" fill="#0dedd0"/><use href="#h9" x="314.3" y="154.0" fill="#0dedd0"/><use href="#h9" x="318.7" y="154.0" fill="#16f386"/><use href="#h9" x="323.2" y="154.0" fill="#16f386"/><use href="#h9" x="327.6" y="154.0" fill="#0dedd0"/><use href="#h9" x="332.0" y="154.0" fill="#0863ff"/><use href="#h9" x="336.5" y="154.0" fill="#042bfc"/><use href="#h9" x="340.9" y="154.0" fill="#042bfc"/><use href="#h9" x="345.4" y="154.0" fill="#0f9efc"/><use href="#h9" x="349.8" y="154.0" fill="#0f9efc"/><use href="#h9" x="354.2" y="154.0" fill="#0f9efc"/><use href="#h9" x="358.7" y="154.0" fill="#0f9efc"/><use href="#h9" x="294.3" y="157.8" fill="#0dedd0"/><use href="#h9" x="298.8" y="157.8" fill="#16f386"/><use href="#h9" x="303.2" y="157.8" fill="#19ee20"/><use href="#h9" x="307.6" y="157.8" fill="#f7f001"/><use href="#h9" x="312.1" y="157.8" fill="#16f386"/><use href="#h9" x="316.5" y="157.8" fill="#0dedd0"/><use href="#h9" x="321.0" y="157.8" fill="#0dedd0"/><use href="#h9" x="325.4" y="157.8" fill="#0dedd0"/><use href="#h9" x="329.8" y="157.8" fill="#0f9efc"/><use href="#h9" x="334.3" y="157.8" fill="#000ee8"/><use href="#h9" x="338.7" y="157.8" fill="#042bfc"/><use href="#h9" x="343.1" y="157.8" fill="#0863ff"/><use href="#h9" x="347.6" y="157.8" fill="#0dedd0"/><use href="#h9" x="352.0" y="157.8" fill="#0dedd0"/><use href="#h9" x="356.5" y="157.8" fill="#0dedd0"/><use href="#h9" x="296.5" y="161.6" fill="#16f386"/><use href="#h9" x="301.0" y="161.6" fill="#16f386"/><use href="#h9" x="305.4" y="161.6" fill="#16f386"/><use href="#h9" x="309.9" y="161.6" fill="#16f386"/><use href="#h9" x="314.3" y="161.6" fill="#0dedd0"/><use href="#h9" x="318.7" y="161.6" fill="#0dedd0"/><use href="#h9" x="323.2" y="161.6" fill="#0dedd0"/><use href="#h9" x="327.6" y="161.6" fill="#0dedd0"/><use href="#h9" x="332.0" y="161.6" fill="#0f9efc"/><use href="#h9" x="336.5" y="161.6" fill="#042bfc"/><use href="#h9" x="340.9" y="161.6" fill="#042bfc"/><use href="#h9" x="345.4" y="161.6" fill="#0863ff"/><use href="#h9" x="349.8" y="161.6" fill="#0863ff"/><use href="#h9" x="354.2" y="161.6" fill="#0f9efc"/><use href="#h9" x="358.7" y="161.6" fill="#0dedd0"/><use href="#h9" x="294.3" y="165.5" fill="#19ee20"/><use href="#h9" x="298.8" y="165.5" fill="#16f386"/><use href="#h9" x="303.2" y="165.5" fill="#19ee20"/><use href="#h9" x="307.6" y="165.5" fill="#19ee20"/><use href="#h9" x="312.1" y="165.5" fill="#16f386"/><use href="#h9" x="316.5" y="165.5" fill="#16f386"/><use href="#h9" x="321.0" y="165.5" fill="#16f386"/><use href="#h9" x="325.4" y="165.5" fill="#0dedd0"/><use href="#h9" x="329.8" y="165.5" fill="#0dedd0"/><use href="#h9" x="334.3" y="165.5" fill="#0f9efc"/><use href="#h9" x="338.7" y="165.5" fill="#042bfc"/><use href="#h9" x="343.1" y="165.5" fill="#0863ff"/><use href="#h9" x="347.6" y="165.5" fill="#0f9efc"/><use href="#h9" x="352.0" y="165.5" fill="#0f9efc"/><use href="#h9" x="356.5" y="165.5" fill="#0863ff"/><use href="#h9" x="296.5" y="169.3" fill="#19ee20"/><use href="#h9" x="301.0" y="169.3" fill="#19ee20"/><use href="#h9" x="305.4" y="169.3" fill="#19ee20"/><use href="#h9" x="309.9" y="169.3" fill="#19ee20"/><use href="#h9" x="314.3" y="169.3" fill="#19ee20"/><use href="#h9" x="318.7" y="169.3" fill="#19ee20"/><use href="#h9" x="323.2" y="169.3" fill="#16f386"/><use href="#h9" x="327.6" y="169.3" fill="#16f386"/><use href="#h9" x="332.0" y="169.3" fill="#0dedd0"/><use href="#h9" x="336.5" y="169.3" fill="#0dedd0"/><use href="#h9" x="340.9" y="169.3" fill="#0f9efc"/><use href="#h9" x="345.4" y="169.3" fill="#0dedd0"/><use href="#h9" x="349.8" y="169.3" fill="#0f9efc"/><use href="#h9" x="354.2" y="169.3" fill="#0863ff"/><use href="#h9" x="358.7" y="169.3" fill="#0863ff"/><use href="#h9" x="294.3" y="173.1" fill="#19ee20"/><use href="#h9" x="298.8" y="173.1" fill="#91f814"/><use href="#h9" x="303.2" y="173.1" fill="#91f814"/><use href="#h9" x="307.6" y="173.1" fill="#91f814"/><use href="#h9" x="312.1" y="173.1" fill="#91f814"/><use href="#h9" x="316.5" y="173.1" fill="#19ee20"/><use href="#h9" x="321.0" y="173.1" fill="#19ee20"/><use href="#h9" x="325.4" y="173.1" fill="#19ee20"/><use href="#h9" x="329.8" y="173.1" fill="#f7f001"/><use href="#h9" x="334.3" y="173.1" fill="#91f814"/><use href="#h9" x="338.7" y="173.1" fill="#16f386"/><use href="#h9" x="343.1" y="173.1" fill="#0dedd0"/><use href="#h9" x="347.6" y="173.1" fill="#16f386"/><use href="#h9" x="352.0" y="173.1" fill="#0dedd0"/><use href="#h9" x="356.5" y="173.1" fill="#0dedd0"/><use href="#h9" x="296.5" y="176.9" fill="#91f814"/><use href="#h9" x="301.0" y="176.9" fill="#ff9800"/><use href="#h9" x="305.4" y="176.9" fill="#ff9800"/><use href="#h9" x="309.9" y="176.9" fill="#f7f001"/><use href="#h9" x="314.3" y="176.9" fill="#f7f001"/><use href="#h9" x="318.7" y="176.9" fill="#19ee20"/><use href="#h9" x="323.2" y="176.9" fill="#19ee20"/><use href="#h9" x="327.6" y="176.9" fill="#f7f001"/><use href="#h9" x="332.0" y="176.9" fill="#f7f001"/><use href="#h9" x="336.5" y="176.9" fill="#91f814"/><use href="#h9" x="340.9" y="176.9" fill="#16f386"/><use href="#h9" x="345.4" y="176.9" fill="#16f386"/><use href="#h9" x="349.8" y="176.9" fill="#16f386"/><use href="#h9" x="354.2" y="176.9" fill="#16f386"/><use href="#h9" x="358.7" y="176.9" fill="#16f386"/><use href="#h9" x="294.3" y="180.7" fill="#91f814"/><use href="#h9" x="298.8" y="180.7" fill="#ff3f05"/><use href="#h9" x="303.2" y="180.7" fill="#ec120c"/><use href="#h9" x="307.6" y="180.7" fill="#ff3f05"/><use href="#h9" x="312.1" y="180.7" fill="#ff3f05"/><use href="#h9" x="316.5" y="180.7" fill="#f7f001"/><use href="#h9" x="321.0" y="180.7" fill="#19ee20"/><use href="#h9" x="325.4" y="180.7" fill="#19ee20"/><use href="#h9" x="329.8" y="180.7" fill="#91f814"/><use href="#h9" x="334.3" y="180.7" fill="#19ee20"/><use href="#h9" x="338.7" y="180.7" fill="#16f386"/><use href="#h9" x="343.1" y="180.7" fill="#16f386"/><use href="#h9" x="347.6" y="180.7" fill="#16f386"/><use href="#h9" x="352.0" y="180.7" fill="#16f386"/><use href="#h9" x="356.5" y="180.7" fill="#16f386"/><use href="#h9" x="296.5" y="184.5" fill="#19ee20"/><use href="#h9" x="301.0" y="184.5" fill="#91f814"/><use href="#h9" x="305.4" y="184.5" fill="#91f814"/><use href="#h9" x="309.9" y="184.5" fill="#91f814"/><use href="#h9" x="314.3" y="184.5" fill="#f7f001"/><use href="#h9" x="318.7" y="184.5" fill="#ff9800"/><use href="#h9" x="323.2" y="184.5" fill="#91f814"/><use href="#h9" x="327.6" y="184.5" fill="#16f386"/><use href="#h9" x="332.0" y="184.5" fill="#16f386"/><use href="#h9" x="336.5" y="184.5" fill="#19ee20"/><use href="#h9" x="340.9" y="184.5" fill="#19ee20"/><use href="#h9" x="345.4" y="184.5" fill="#19ee20"/><use href="#h9" x="349.8" y="184.5" fill="#19ee20"/><use href="#h9" x="354.2" y="184.5" fill="#19ee20"/><use href="#h9" x="358.7" y="184.5" fill="#19ee20"/><use href="#h9" x="294.3" y="188.3" fill="#19ee20"/><use href="#h9" x="298.8" y="188.3" fill="#16f386"/><use href="#h9" x="303.2" y="188.3" fill="#0dedd0"/><use href="#h9" x="307.6" y="188.3" fill="#16f386"/><use href="#h9" x="312.1" y="188.3" fill="#f7f001"/><use href="#h9" x="316.5" y="188.3" fill="#ff9800"/><use href="#h9" x="321.0" y="188.3" fill="#f7f001"/><use href="#h9" x="325.4" y="188.3" fill="#16f386"/><use href="#h9" x="329.8" y="188.3" fill="#0f9efc"/><use href="#h9" x="334.3" y="188.3" fill="#16f386"/><use href="#h9" x="338.7" y="188.3" fill="#f7f001"/><use href="#h9" x="343.1" y="188.3" fill="#19ee20"/><use href="#h9" x="347.6" y="188.3" fill="#19ee20"/><use href="#h9" x="352.0" y="188.3" fill="#19ee20"/><use href="#h9" x="356.5" y="188.3" fill="#19ee20"/><use href="#h9" x="296.5" y="192.1" fill="#16f386"/><use href="#h9" x="301.0" y="192.1" fill="#0dedd0"/><use href="#h9" x="305.4" y="192.1" fill="#0dedd0"/><use href="#h9" x="309.9" y="192.1" fill="#16f386"/><use href="#h9" x="314.3" y="192.1" fill="#19ee20"/><use href="#h9" x="318.7" y="192.1" fill="#19ee20"/><use href="#h9" x="323.2" y="192.1" fill="#19ee20"/><use href="#h9" x="327.6" y="192.1" fill="#16f386"/><use href="#h9" x="332.0" y="192.1" fill="#16f386"/><use href="#h9" x="336.5" y="192.1" fill="#19ee20"/><use href="#h9" x="340.9" y="192.1" fill="#ff9800"/><use href="#h9" x="345.4" y="192.1" fill="#91f814"/><use href="#h9" x="349.8" y="192.1" fill="#19ee20"/><use href="#h9" x="354.2" y="192.1" fill="#19ee20"/><use href="#h9" x="358.7" y="192.1" fill="#19ee20"/><use href="#h9" x="294.3" y="195.9" fill="#16f386"/><use href="#h9" x="298.8" y="195.9" fill="#0f9efc"/><use href="#h9" x="303.2" y="195.9" fill="#0f9efc"/><use href="#h9" x="307.6" y="195.9" fill="#0dedd0"/><use href="#h9" x="312.1" y="195.9" fill="#16f386"/><use href="#h9" x="316.5" y="195.9" fill="#19ee20"/><use href="#h9" x="321.0" y="195.9" fill="#19ee20"/><use href="#h9" x="325.4" y="195.9" fill="#19ee20"/><use href="#h9" x="329.8" y="195.9" fill="#19ee20"/><use href="#h9" x="334.3" y="195.9" fill="#19ee20"/><use href="#h9" x="338.7" y="195.9" fill="#ff9800"/><use href="#h9" x="343.1" y="195.9" fill="#f7f001"/><use href="#h9" x="347.6" y="195.9" fill="#f7f001"/><use href="#h9" x="352.0" y="195.9" fill="#91f814"/><use href="#h9" x="356.5" y="195.9" fill="#19ee20"/><use href="#h9" x="296.5" y="199.8" fill="#16f386"/><use href="#h9" x="301.0" y="199.8" fill="#042bfc"/><use href="#h9" x="305.4" y="199.8" fill="#0dedd0"/><use href="#h9" x="309.9" y="199.8" fill="#16f386"/><use href="#h9" x="314.3" y="199.8" fill="#19ee20"/><use href="#h9" x="318.7" y="199.8" fill="#19ee20"/><use href="#h9" x="323.2" y="199.8" fill="#19ee20"/><use href="#h9" x="327.6" y="199.8" fill="#19ee20"/><use href="#h9" x="332.0" y="199.8" fill="#19ee20"/><use href="#h9" x="336.5" y="199.8" fill="#f7f001"/><use href="#h9" x="340.9" y="199.8" fill="#ff9800"/><use href="#h9" x="345.4" y="199.8" fill="#ff3f05"/><use href="#h9" x="349.8" y="199.8" fill="#ff9800"/><use href="#h9" x="354.2" y="199.8" fill="#ff9800"/><use href="#h9" x="358.7" y="199.8" fill="#f7f001"/></g>
<rect x="291.1" y="123.8" width="70.8" height="79.5" fill="url(#d9)"/>
<rect x="288.70" y="125.40" width="1.4" height="76.90" fill="url(#cbg)"/>
<rect x="288.70" y="125.40" width="1.4" height="76.90" fill="#707080" fill-opacity="0.18"/>
<text x="326.5" y="121.7" class="t" font-size="6.42" text-anchor="middle" textLength="38.3" lengthAdjust="spacingAndGlyphs">Temperature</text>
<text x="287.2" y="134.8" class="k" font-size="6.46" text-anchor="end" textLength="6.6" lengthAdjust="spacingAndGlyphs">18</text>
<text x="287.2" y="150.3" class="k" font-size="6.46" text-anchor="end" textLength="6.6" lengthAdjust="spacingAndGlyphs">16</text>
<text x="287.2" y="166.1" class="k" font-size="6.46" text-anchor="end" textLength="6.6" lengthAdjust="spacingAndGlyphs">14</text>
<text x="287.2" y="181.7" class="k" font-size="6.46" text-anchor="end" textLength="6.6" lengthAdjust="spacingAndGlyphs">12</text>
<text x="287.2" y="197.3" class="k" font-size="6.46" text-anchor="end" textLength="6.6" lengthAdjust="spacingAndGlyphs">10</text>
<g stroke="#454550" stroke-opacity="0.33" stroke-width="0.6" stroke-linejoin="round"><use href="#h10" x="383.8" y="129.3" fill="#0f9efc"/><use href="#h10" x="388.3" y="129.3" fill="#0f9efc"/><use href="#h10" x="392.8" y="129.3" fill="#0f9efc"/><use href="#h10" x="397.3" y="129.3" fill="#0863ff"/><use href="#h10" x="401.8" y="129.3" fill="#05e4ea"/><use href="#h10" x="406.3" y="129.3" fill="#f7f001"/><use href="#h10" x="410.8" y="129.3" fill="#19ee20"/><use href="#h10" x="415.3" y="129.3" fill="#19ee20"/><use href="#h10" x="419.8" y="129.3" fill="#19ee20"/><use href="#h10" x="424.3" y="129.3" fill="#14f5b2"/><use href="#h10" x="428.7" y="129.3" fill="#14f5b2"/><use href="#h10" x="433.2" y="129.3" fill="#05e4ea"/><use href="#h10" x="437.7" y="129.3" fill="#05e4ea"/><use href="#h10" x="442.2" y="129.3" fill="#14f5b2"/><use href="#h10" x="446.7" y="129.3" fill="#19ee20"/><use href="#h10" x="386.1" y="133.1" fill="#0f9efc"/><use href="#h10" x="390.6" y="133.1" fill="#0f9efc"/><use href="#h10" x="395.1" y="133.1" fill="#0f9efc"/><use href="#h10" x="399.6" y="133.1" fill="#14f5b2"/><use href="#h10" x="404.1" y="133.1" fill="#f7f001"/><use href="#h10" x="408.5" y="133.1" fill="#ff3f05"/><use href="#h10" x="413.0" y="133.1" fill="#19ee20"/><use href="#h10" x="417.5" y="133.1" fill="#19ee20"/><use href="#h10" x="422.0" y="133.1" fill="#14f5b2"/><use href="#h10" x="426.5" y="133.1" fill="#05e4ea"/><use href="#h10" x="431.0" y="133.1" fill="#05e4ea"/><use href="#h10" x="435.5" y="133.1" fill="#05e4ea"/><use href="#h10" x="440.0" y="133.1" fill="#05e4ea"/><use href="#h10" x="444.5" y="133.1" fill="#14f5b2"/><use href="#h10" x="449.0" y="133.1" fill="#14f5b2"/><use href="#h10" x="383.8" y="137.0" fill="#0f9efc"/><use href="#h10" x="388.3" y="137.0" fill="#053cfd"/><use href="#h10" x="392.8" y="137.0" fill="#0f9efc"/><use href="#h10" x="397.3" y="137.0" fill="#19ee20"/><use href="#h10" x="401.8" y="137.0" fill="#19ee20"/><use href="#h10" x="406.3" y="137.0" fill="#ec120c"/><use href="#h10" x="410.8" y="137.0" fill="#19ee20"/><use href="#h10" x="415.3" y="137.0" fill="#14f5b2"/><use href="#h10" x="419.8" y="137.0" fill="#05e4ea"/><use href="#h10" x="424.3" y="137.0" fill="#05e4ea"/><use href="#h10" x="428.7" y="137.0" fill="#05e4ea"/><use href="#h10" x="433.2" y="137.0" fill="#05e4ea"/><use href="#h10" x="437.7" y="137.0" fill="#05e4ea"/><use href="#h10" x="442.2" y="137.0" fill="#05e4ea"/><use href="#h10" x="446.7" y="137.0" fill="#14f5b2"/><use href="#h10" x="386.1" y="140.8" fill="#0c86fd"/><use href="#h10" x="390.6" y="140.8" fill="#0c86fd"/><use href="#h10" x="395.1" y="140.8" fill="#05e4ea"/><use href="#h10" x="399.6" y="140.8" fill="#14f5b2"/><use href="#h10" x="404.1" y="140.8" fill="#14f5b2"/><use href="#h10" x="408.5" y="140.8" fill="#14f5b2"/><use href="#h10" x="413.0" y="140.8" fill="#05e4ea"/><use href="#h10" x="417.5" y="140.8" fill="#0cacf8"/><use href="#h10" x="422.0" y="140.8" fill="#0863ff"/><use href="#h10" x="426.5" y="140.8" fill="#0863ff"/><use href="#h10" x="431.0" y="140.8" fill="#0863ff"/><use href="#h10" x="435.5" y="140.8" fill="#0863ff"/><use href="#h10" x="440.0" y="140.8" fill="#0f9efc"/><use href="#h10" x="444.5" y="140.8" fill="#0f9efc"/><use href="#h10" x="449.0" y="140.8" fill="#05e4ea"/><use href="#h10" x="383.8" y="144.7" fill="#0cacf8"/><use href="#h10" x="388.3" y="144.7" fill="#0cacf8"/><use href="#h10" x="392.8" y="144.7" fill="#19ee20"/><use href="#h10" x="397.3" y="144.7" fill="#05e4ea"/><use href="#h10" x="401.8" y="144.7" fill="#05e4ea"/><use href="#h10" x="406.3" y="144.7" fill="#0cacf8"/><use href="#h10" x="410.8" y="144.7" fill="#0cacf8"/><use href="#h10" x="415.3" y="144.7" fill="#0cacf8"/><use href="#h10" x="419.8" y="144.7" fill="#053cfd"/><use href="#h10" x="424.3" y="144.7" fill="#053cfd"/><use href="#h10" x="428.7" y="144.7" fill="#053cfd"/><use href="#h10" x="433.2" y="144.7" fill="#053cfd"/><use href="#h10" x="437.7" y="144.7" fill="#0863ff"/><use href="#h10" x="442.2" y="144.7" fill="#0863ff"/><use href="#h10" x="446.7" y="144.7" fill="#0f9efc"/><use href="#h10" x="386.1" y="148.5" fill="#0c86fd"/><use href="#h10" x="390.6" y="148.5" fill="#0cacf8"/><use href="#h10" x="395.1" y="148.5" fill="#0cacf8"/><use href="#h10" x="399.6" y="148.5" fill="#0cacf8"/><use href="#h10" x="404.1" y="148.5" fill="#0cacf8"/><use href="#h10" x="408.5" y="148.5" fill="#05e4ea"/><use href="#h10" x="413.0" y="148.5" fill="#05e4ea"/><use href="#h10" x="417.5" y="148.5" fill="#0c86fd"/><use href="#h10" x="422.0" y="148.5" fill="#053cfd"/><use href="#h10" x="426.5" y="148.5" fill="#053cfd"/><use href="#h10" x="431.0" y="148.5" fill="#053cfd"/><use href="#h10" x="435.5" y="148.5" fill="#053cfd"/><use href="#h10" x="440.0" y="148.5" fill="#053cfd"/><use href="#h10" x="444.5" y="148.5" fill="#0863ff"/><use href="#h10" x="449.0" y="148.5" fill="#0863ff"/><use href="#h10" x="383.8" y="152.4" fill="#0758fe"/><use href="#h10" x="388.3" y="152.4" fill="#0c86fd"/><use href="#h10" x="392.8" y="152.4" fill="#0c86fd"/><use href="#h10" x="397.3" y="152.4" fill="#0c86fd"/><use href="#h10" x="401.8" y="152.4" fill="#0cacf8"/><use href="#h10" x="406.3" y="152.4" fill="#0cacf8"/><use href="#h10" x="410.8" y="152.4" fill="#05e4ea"/><use href="#h10" x="415.3" y="152.4" fill="#0cacf8"/><use href="#h10" x="419.8" y="152.4" fill="#053cfd"/><use href="#h10" x="424.3" y="152.4" fill="#053cfd"/><use href="#h10" x="428.7" y="152.4" fill="#053cfd"/><use href="#h10" x="433.2" y="152.4" fill="#053cfd"/><use href="#h10" x="437.7" y="152.4" fill="#053cfd"/><use href="#h10" x="442.2" y="152.4" fill="#053cfd"/><use href="#h10" x="446.7" y="152.4" fill="#0863ff"/><use href="#h10" x="386.1" y="156.2" fill="#0758fe"/><use href="#h10" x="390.6" y="156.2" fill="#0c86fd"/><use href="#h10" x="395.1" y="156.2" fill="#0c86fd"/><use href="#h10" x="399.6" y="156.2" fill="#0c86fd"/><use href="#h10" x="404.1" y="156.2" fill="#0cacf8"/><use href="#h10" x="408.5" y="156.2" fill="#0cacf8"/><use href="#h10" x="413.0" y="156.2" fill="#0cacf8"/><use href="#h10" x="417.5" y="156.2" fill="#0758fe"/><use href="#h10" x="422.0" y="156.2" fill="#053cfd"/><use href="#h10" x="426.5" y="156.2" fill="#053cfd"/><use href="#h10" x="431.0" y="156.2" fill="#053cfd"/><use href="#h10" x="435.5" y="156.2" fill="#053cfd"/><use href="#h10" x="440.0" y="156.2" fill="#053cfd"/><use href="#h10" x="444.5" y="156.2" fill="#053cfd"/><use href="#h10" x="449.0" y="156.2" fill="#0863ff"/><use href="#h10" x="383.8" y="160.1" fill="#0c86fd"/><use href="#h10" x="388.3" y="160.1" fill="#0c86fd"/><use href="#h10" x="392.8" y="160.1" fill="#0c86fd"/><use href="#h10" x="397.3" y="160.1" fill="#05e4ea"/><use href="#h10" x="401.8" y="160.1" fill="#0cacf8"/><use href="#h10" x="406.3" y="160.1" fill="#0cacf8"/><use href="#h10" x="410.8" y="160.1" fill="#0cacf8"/><use href="#h10" x="415.3" y="160.1" fill="#0c86fd"/><use href="#h10" x="419.8" y="160.1" fill="#053cfd"/><use href="#h10" x="424.3" y="160.1" fill="#053cfd"/><use href="#h10" x="428.7" y="160.1" fill="#053cfd"/><use href="#h10" x="433.2" y="160.1" fill="#053cfd"/><use href="#h10" x="437.7" y="160.1" fill="#053cfd"/><use href="#h10" x="442.2" y="160.1" fill="#053cfd"/><use href="#h10" x="446.7" y="160.1" fill="#0863ff"/><use href="#h10" x="386.1" y="163.9" fill="#0c86fd"/><use href="#h10" x="390.6" y="163.9" fill="#0c86fd"/><use href="#h10" x="395.1" y="163.9" fill="#0c86fd"/><use href="#h10" x="399.6" y="163.9" fill="#0c86fd"/><use href="#h10" x="404.1" y="163.9" fill="#0c86fd"/><use href="#h10" x="408.5" y="163.9" fill="#0cacf8"/><use href="#h10" x="413.0" y="163.9" fill="#0c86fd"/><use href="#h10" x="417.5" y="163.9" fill="#0758fe"/><use href="#h10" x="422.0" y="163.9" fill="#053cfd"/><use href="#h10" x="426.5" y="163.9" fill="#053cfd"/><use href="#h10" x="431.0" y="163.9" fill="#053cfd"/><use href="#h10" x="435.5" y="163.9" fill="#053cfd"/><use href="#h10" x="440.0" y="163.9" fill="#053cfd"/><use href="#h10" x="444.5" y="163.9" fill="#053cfd"/><use href="#h10" x="449.0" y="163.9" fill="#053cfd"/><use href="#h10" x="383.8" y="167.8" fill="#0c86fd"/><use href="#h10" x="388.3" y="167.8" fill="#0758fe"/><use href="#h10" x="392.8" y="167.8" fill="#0758fe"/><use href="#h10" x="397.3" y="167.8" fill="#0c86fd"/><use href="#h10" x="401.8" y="167.8" fill="#0c86fd"/><use href="#h10" x="406.3" y="167.8" fill="#0c86fd"/><use href="#h10" x="410.8" y="167.8" fill="#0cacf8"/><use href="#h10" x="415.3" y="167.8" fill="#0c86fd"/><use href="#h10" x="419.8" y="167.8" fill="#053cfd"/><use href="#h10" x="424.3" y="167.8" fill="#053cfd"/><use href="#h10" x="428.7" y="167.8" fill="#053cfd"/><use href="#h10" x="433.2" y="167.8" fill="#053cfd"/><use href="#h10" x="437.7" y="167.8" fill="#053cfd"/><use href="#h10" x="442.2" y="167.8" fill="#053cfd"/><use href="#h10" x="446.7" y="167.8" fill="#053cfd"/><use href="#h10" x="386.1" y="171.6" fill="#0c86fd"/><use href="#h10" x="390.6" y="171.6" fill="#0758fe"/><use href="#h10" x="395.1" y="171.6" fill="#0758fe"/><use href="#h10" x="399.6" y="171.6" fill="#0c86fd"/><use href="#h10" x="404.1" y="171.6" fill="#0c86fd"/><use href="#h10" x="408.5" y="171.6" fill="#0c86fd"/><use href="#h10" x="413.0" y="171.6" fill="#0c86fd"/><use href="#h10" x="417.5" y="171.6" fill="#0758fe"/><use href="#h10" x="422.0" y="171.6" fill="#053cfd"/><use href="#h10" x="426.5" y="171.6" fill="#053cfd"/><use href="#h10" x="431.0" y="171.6" fill="#053cfd"/><use href="#h10" x="435.5" y="171.6" fill="#053cfd"/><use href="#h10" x="440.0" y="171.6" fill="#053cfd"/><use href="#h10" x="444.5" y="171.6" fill="#053cfd"/><use href="#h10" x="449.0" y="171.6" fill="#053cfd"/><use href="#h10" x="383.8" y="175.5" fill="#0c86fd"/><use href="#h10" x="388.3" y="175.5" fill="#0c86fd"/><use href="#h10" x="392.8" y="175.5" fill="#0c86fd"/><use href="#h10" x="397.3" y="175.5" fill="#0c86fd"/><use href="#h10" x="401.8" y="175.5" fill="#0c86fd"/><use href="#h10" x="406.3" y="175.5" fill="#0c86fd"/><use href="#h10" x="410.8" y="175.5" fill="#0c86fd"/><use href="#h10" x="415.3" y="175.5" fill="#0c86fd"/><use href="#h10" x="419.8" y="175.5" fill="#053cfd"/><use href="#h10" x="424.3" y="175.5" fill="#053cfd"/><use href="#h10" x="428.7" y="175.5" fill="#053cfd"/><use href="#h10" x="433.2" y="175.5" fill="#053cfd"/><use href="#h10" x="437.7" y="175.5" fill="#053cfd"/><use href="#h10" x="442.2" y="175.5" fill="#053cfd"/><use href="#h10" x="446.7" y="175.5" fill="#053cfd"/><use href="#h10" x="386.1" y="179.3" fill="#0f9efc"/><use href="#h10" x="390.6" y="179.3" fill="#05e4ea"/><use href="#h10" x="395.1" y="179.3" fill="#05e4ea"/><use href="#h10" x="399.6" y="179.3" fill="#05e4ea"/><use href="#h10" x="404.1" y="179.3" fill="#0f9efc"/><use href="#h10" x="408.5" y="179.3" fill="#0f9efc"/><use href="#h10" x="413.0" y="179.3" fill="#0863ff"/><use href="#h10" x="417.5" y="179.3" fill="#053cfd"/><use href="#h10" x="422.0" y="179.3" fill="#053cfd"/><use href="#h10" x="426.5" y="179.3" fill="#053cfd"/><use href="#h10" x="431.0" y="179.3" fill="#053cfd"/><use href="#h10" x="435.5" y="179.3" fill="#053cfd"/><use href="#h10" x="440.0" y="179.3" fill="#053cfd"/><use href="#h10" x="444.5" y="179.3" fill="#053cfd"/><use href="#h10" x="449.0" y="179.3" fill="#053cfd"/><use href="#h10" x="383.8" y="183.2" fill="#0f9efc"/><use href="#h10" x="388.3" y="183.2" fill="#05e4ea"/><use href="#h10" x="392.8" y="183.2" fill="#14f5b2"/><use href="#h10" x="397.3" y="183.2" fill="#14f5b2"/><use href="#h10" x="401.8" y="183.2" fill="#05e4ea"/><use href="#h10" x="406.3" y="183.2" fill="#05e4ea"/><use href="#h10" x="410.8" y="183.2" fill="#0f9efc"/><use href="#h10" x="415.3" y="183.2" fill="#0863ff"/><use href="#h10" x="419.8" y="183.2" fill="#053cfd"/><use href="#h10" x="424.3" y="183.2" fill="#053cfd"/><use href="#h10" x="428.7" y="183.2" fill="#053cfd"/><use href="#h10" x="433.2" y="183.2" fill="#053cfd"/><use href="#h10" x="437.7" y="183.2" fill="#053cfd"/><use href="#h10" x="442.2" y="183.2" fill="#0322f6"/><use href="#h10" x="446.7" y="183.2" fill="#0322f6"/><use href="#h10" x="386.1" y="187.0" fill="#05e4ea"/><use href="#h10" x="390.6" y="187.0" fill="#05e4ea"/><use href="#h10" x="395.1" y="187.0" fill="#14f5b2"/><use href="#h10" x="399.6" y="187.0" fill="#19ee20"/><use href="#h10" x="404.1" y="187.0" fill="#14f5b2"/><use href="#h10" x="408.5" y="187.0" fill="#05e4ea"/><use href="#h10" x="413.0" y="187.0" fill="#0f9efc"/><use href="#h10" x="417.5" y="187.0" fill="#0863ff"/><use href="#h10" x="422.0" y="187.0" fill="#0863ff"/><use href="#h10" x="426.5" y="187.0" fill="#0863ff"/><use href="#h10" x="431.0" y="187.0" fill="#053cfd"/><use href="#h10" x="435.5" y="187.0" fill="#053cfd"/><use href="#h10" x="440.0" y="187.0" fill="#0322f6"/><use href="#h10" x="444.5" y="187.0" fill="#0322f6"/><use href="#h10" x="449.0" y="187.0" fill="#0322f6"/><use href="#h10" x="383.8" y="190.9" fill="#0f9efc"/><use href="#h10" x="388.3" y="190.9" fill="#05e4ea"/><use href="#h10" x="392.8" y="190.9" fill="#14f5b2"/><use href="#h10" x="397.3" y="190.9" fill="#19ee20"/><use href="#h10" x="401.8" y="190.9" fill="#14f5b2"/><use href="#h10" x="406.3" y="190.9" fill="#05e4ea"/><use href="#h10" x="410.8" y="190.9" fill="#05e4ea"/><use href="#h10" x="415.3" y="190.9" fill="#0f9efc"/><use href="#h10" x="419.8" y="190.9" fill="#0863ff"/><use href="#h10" x="424.3" y="190.9" fill="#0863ff"/><use href="#h10" x="428.7" y="190.9" fill="#053cfd"/><use href="#h10" x="433.2" y="190.9" fill="#053cfd"/><use href="#h10" x="437.7" y="190.9" fill="#053cfd"/><use href="#h10" x="442.2" y="190.9" fill="#0322f6"/><use href="#h10" x="446.7" y="190.9" fill="#0322f6"/><use href="#h10" x="386.1" y="194.7" fill="#05e4ea"/><use href="#h10" x="390.6" y="194.7" fill="#05e4ea"/><use href="#h10" x="395.1" y="194.7" fill="#14f5b2"/><use href="#h10" x="399.6" y="194.7" fill="#14f5b2"/><use href="#h10" x="404.1" y="194.7" fill="#05e4ea"/><use href="#h10" x="408.5" y="194.7" fill="#05e4ea"/><use href="#h10" x="413.0" y="194.7" fill="#0f9efc"/><use href="#h10" x="417.5" y="194.7" fill="#0863ff"/><use href="#h10" x="422.0" y="194.7" fill="#0863ff"/><use href="#h10" x="426.5" y="194.7" fill="#053cfd"/><use href="#h10" x="431.0" y="194.7" fill="#0322f6"/><use href="#h10" x="435.5" y="194.7" fill="#0322f6"/><use href="#h10" x="440.0" y="194.7" fill="#0322f6"/><use href="#h10" x="444.5" y="194.7" fill="#0322f6"/><use href="#h10" x="449.0" y="194.7" fill="#0322f6"/><use href="#h10" x="383.8" y="198.6" fill="#0f9efc"/><use href="#h10" x="388.3" y="198.6" fill="#05e4ea"/><use href="#h10" x="392.8" y="198.6" fill="#05e4ea"/><use href="#h10" x="397.3" y="198.6" fill="#14f5b2"/><use href="#h10" x="401.8" y="198.6" fill="#05e4ea"/><use href="#h10" x="406.3" y="198.6" fill="#05e4ea"/><use href="#h10" x="410.8" y="198.6" fill="#05e4ea"/><use href="#h10" x="415.3" y="198.6" fill="#0f9efc"/><use href="#h10" x="419.8" y="198.6" fill="#0863ff"/><use href="#h10" x="424.3" y="198.6" fill="#0863ff"/><use href="#h10" x="428.7" y="198.6" fill="#0322f6"/><use href="#h10" x="433.2" y="198.6" fill="#0322f6"/><use href="#h10" x="437.7" y="198.6" fill="#0322f6"/><use href="#h10" x="442.2" y="198.6" fill="#0322f6"/><use href="#h10" x="446.7" y="198.6" fill="#0322f6"/><use href="#h10" x="386.1" y="202.4" fill="#0f9efc"/><use href="#h10" x="390.6" y="202.4" fill="#05e4ea"/><use href="#h10" x="395.1" y="202.4" fill="#05e4ea"/><use href="#h10" x="399.6" y="202.4" fill="#05e4ea"/><use href="#h10" x="404.1" y="202.4" fill="#14f5b2"/><use href="#h10" x="408.5" y="202.4" fill="#14f5b2"/><use href="#h10" x="413.0" y="202.4" fill="#0f9efc"/><use href="#h10" x="417.5" y="202.4" fill="#0863ff"/><use href="#h10" x="422.0" y="202.4" fill="#0863ff"/><use href="#h10" x="426.5" y="202.4" fill="#053cfd"/><use href="#h10" x="431.0" y="202.4" fill="#053cfd"/><use href="#h10" x="435.5" y="202.4" fill="#0322f6"/><use href="#h10" x="440.0" y="202.4" fill="#0322f6"/><use href="#h10" x="444.5" y="202.4" fill="#0322f6"/><use href="#h10" x="449.0" y="202.4" fill="#053cfd"/></g>
<rect x="380.6" y="125.7" width="71.6" height="80.3" fill="url(#d10)"/>
<rect x="378.05" y="127.30" width="1.4" height="77.70" fill="url(#cbg)"/>
<rect x="378.05" y="127.30" width="1.4" height="77.70" fill="#707080" fill-opacity="0.18"/>
<text x="415.3" y="123.6" class="t" font-size="6.46" text-anchor="middle" textLength="27.3" lengthAdjust="spacingAndGlyphs">Turbidity</text>
<text x="376.2" y="137.1" class="k" font-size="6.53" text-anchor="end" textLength="3.3" lengthAdjust="spacingAndGlyphs">7</text>
<text x="376.2" y="149.6" class="k" font-size="6.53" text-anchor="end" textLength="3.3" lengthAdjust="spacingAndGlyphs">6</text>
<text x="376.2" y="162.1" class="k" font-size="6.53" text-anchor="end" textLength="3.3" lengthAdjust="spacingAndGlyphs">5</text>
<text x="376.2" y="174.0" class="k" font-size="6.53" text-anchor="end" textLength="3.3" lengthAdjust="spacingAndGlyphs">4</text>
<text x="376.2" y="186.4" class="k" font-size="6.53" text-anchor="end" textLength="3.3" lengthAdjust="spacingAndGlyphs">3</text>
<text x="376.2" y="198.4" class="k" font-size="6.53" text-anchor="end" textLength="3.3" lengthAdjust="spacingAndGlyphs">2</text>
<g stroke="#454550" stroke-opacity="0.33" stroke-width="0.6" stroke-linejoin="round"><use href="#h11" x="477.8" y="125.8" fill="#0eefcb"/><use href="#h11" x="482.2" y="125.8" fill="#08c9f2"/><use href="#h11" x="486.6" y="125.8" fill="#0863ff"/><use href="#h11" x="491.0" y="125.8" fill="#0eefcb"/><use href="#h11" x="495.3" y="125.8" fill="#08c9f2"/><use href="#h11" x="499.7" y="125.8" fill="#08c9f2"/><use href="#h11" x="504.1" y="125.8" fill="#0eefcb"/><use href="#h11" x="508.5" y="125.8" fill="#0eefcb"/><use href="#h11" x="512.9" y="125.8" fill="#14f5b2"/><use href="#h11" x="517.3" y="125.8" fill="#14f5b2"/><use href="#h11" x="521.7" y="125.8" fill="#14f5b2"/><use href="#h11" x="526.1" y="125.8" fill="#19ee20"/><use href="#h11" x="530.4" y="125.8" fill="#19ee20"/><use href="#h11" x="534.8" y="125.8" fill="#19ee20"/><use href="#h11" x="539.2" y="125.8" fill="#19ee20"/><use href="#h11" x="480.0" y="129.5" fill="#08c9f2"/><use href="#h11" x="484.4" y="129.5" fill="#08c9f2"/><use href="#h11" x="488.8" y="129.5" fill="#0eefcb"/><use href="#h11" x="493.1" y="129.5" fill="#0eefcb"/><use href="#h11" x="497.5" y="129.5" fill="#08c9f2"/><use href="#h11" x="501.9" y="129.5" fill="#0eefcb"/><use href="#h11" x="506.3" y="129.5" fill="#0eefcb"/><use href="#h11" x="510.7" y="129.5" fill="#14f5b2"/><use href="#h11" x="515.1" y="129.5" fill="#14f5b2"/><use href="#h11" x="519.5" y="129.5" fill="#14f5b2"/><use href="#h11" x="523.9" y="129.5" fill="#19ee20"/><use href="#h11" x="528.2" y="129.5" fill="#19ee20"/><use href="#h11" x="532.6" y="129.5" fill="#19ee20"/><use href="#h11" x="537.0" y="129.5" fill="#19ee20"/><use href="#h11" x="541.4" y="129.5" fill="#19ee20"/><use href="#h11" x="477.8" y="133.3" fill="#0eefcb"/><use href="#h11" x="482.2" y="133.3" fill="#0eefcb"/><use href="#h11" x="486.6" y="133.3" fill="#0eefcb"/><use href="#h11" x="491.0" y="133.3" fill="#0eefcb"/><use href="#h11" x="495.3" y="133.3" fill="#0eefcb"/><use href="#h11" x="499.7" y="133.3" fill="#08c9f2"/><use href="#h11" x="504.1" y="133.3" fill="#0eefcb"/><use href="#h11" x="508.5" y="133.3" fill="#0eefcb"/><use href="#h11" x="512.9" y="133.3" fill="#14f5b2"/><use href="#h11" x="517.3" y="133.3" fill="#14f5b2"/><use href="#h11" x="521.7" y="133.3" fill="#19ee20"/><use href="#h11" x="526.1" y="133.3" fill="#19ee20"/><use href="#h11" x="530.4" y="133.3" fill="#19ee20"/><use href="#h11" x="534.8" y="133.3" fill="#f7f001"/><use href="#h11" x="539.2" y="133.3" fill="#91f814"/><use href="#h11" x="480.0" y="137.1" fill="#0eefcb"/><use href="#h11" x="484.4" y="137.1" fill="#0eefcb"/><use href="#h11" x="488.8" y="137.1" fill="#0eefcb"/><use href="#h11" x="493.1" y="137.1" fill="#0eefcb"/><use href="#h11" x="497.5" y="137.1" fill="#0eefcb"/><use href="#h11" x="501.9" y="137.1" fill="#0eefcb"/><use href="#h11" x="506.3" y="137.1" fill="#0eefcb"/><use href="#h11" x="510.7" y="137.1" fill="#14f5b2"/><use href="#h11" x="515.1" y="137.1" fill="#19ee20"/><use href="#h11" x="519.5" y="137.1" fill="#19ee20"/><use href="#h11" x="523.9" y="137.1" fill="#19ee20"/><use href="#h11" x="528.2" y="137.1" fill="#19ee20"/><use href="#h11" x="532.6" y="137.1" fill="#19ee20"/><use href="#h11" x="537.0" y="137.1" fill="#91f814"/><use href="#h11" x="541.4" y="137.1" fill="#19ee20"/><use href="#h11" x="477.8" y="140.8" fill="#14f5b2"/><use href="#h11" x="482.2" y="140.8" fill="#0eefcb"/><use href="#h11" x="486.6" y="140.8" fill="#0eefcb"/><use href="#h11" x="491.0" y="140.8" fill="#0eefcb"/><use href="#h11" x="495.3" y="140.8" fill="#0eefcb"/><use href="#h11" x="499.7" y="140.8" fill="#0eefcb"/><use href="#h11" x="504.1" y="140.8" fill="#0eefcb"/><use href="#h11" x="508.5" y="140.8" fill="#0eefcb"/><use href="#h11" x="512.9" y="140.8" fill="#14f5b2"/><use href="#h11" x="517.3" y="140.8" fill="#19ee20"/><use href="#h11" x="521.7" y="140.8" fill="#19ee20"/><use href="#h11" x="526.1" y="140.8" fill="#19ee20"/><use href="#h11" x="530.4" y="140.8" fill="#19ee20"/><use href="#h11" x="534.8" y="140.8" fill="#19ee20"/><use href="#h11" x="539.2" y="140.8" fill="#19ee20"/><use href="#h11" x="480.0" y="144.6" fill="#14f5b2"/><use href="#h11" x="484.4" y="144.6" fill="#0eefcb"/><use href="#h11" x="488.8" y="144.6" fill="#0eefcb"/><use href="#h11" x="493.1" y="144.6" fill="#0eefcb"/><use href="#h11" x="497.5" y="144.6" fill="#0eefcb"/><use href="#h11" x="501.9" y="144.6" fill="#0eefcb"/><use href="#h11" x="506.3" y="144.6" fill="#0eefcb"/><use href="#h11" x="510.7" y="144.6" fill="#14f5b2"/><use href="#h11" x="515.1" y="144.6" fill="#19ee20"/><use href="#h11" x="519.5" y="144.6" fill="#19ee20"/><use href="#h11" x="523.9" y="144.6" fill="#19ee20"/><use href="#h11" x="528.2" y="144.6" fill="#19ee20"/><use href="#h11" x="532.6" y="144.6" fill="#19ee20"/><use href="#h11" x="537.0" y="144.6" fill="#19ee20"/><use href="#h11" x="541.4" y="144.6" fill="#19ee20"/><use href="#h11" x="477.8" y="148.3" fill="#19ee20"/><use href="#h11" x="482.2" y="148.3" fill="#19ee20"/><use href="#h11" x="486.6" y="148.3" fill="#14f5b2"/><use href="#h11" x="491.0" y="148.3" fill="#14f5b2"/><use href="#h11" x="495.3" y="148.3" fill="#14f5b2"/><use href="#h11" x="499.7" y="148.3" fill="#14f5b2"/><use href="#h11" x="504.1" y="148.3" fill="#14f5b2"/><use href="#h11" x="508.5" y="148.3" fill="#19ee20"/><use href="#h11" x="512.9" y="148.3" fill="#19ee20"/><use href="#h11" x="517.3" y="148.3" fill="#19ee20"/><use href="#h11" x="521.7" y="148.3" fill="#19ee20"/><use href="#h11" x="526.1" y="148.3" fill="#19ee20"/><use href="#h11" x="530.4" y="148.3" fill="#19ee20"/><use href="#h11" x="534.8" y="148.3" fill="#19ee20"/><use href="#h11" x="539.2" y="148.3" fill="#19ee20"/><use href="#h11" x="480.0" y="152.1" fill="#91f814"/><use href="#h11" x="484.4" y="152.1" fill="#19ee20"/><use href="#h11" x="488.8" y="152.1" fill="#19ee20"/><use href="#h11" x="493.1" y="152.1" fill="#14f5b2"/><use href="#h11" x="497.5" y="152.1" fill="#14f5b2"/><use href="#h11" x="501.9" y="152.1" fill="#14f5b2"/><use href="#h11" x="506.3" y="152.1" fill="#19ee20"/><use href="#h11" x="510.7" y="152.1" fill="#19ee20"/><use href="#h11" x="515.1" y="152.1" fill="#19ee20"/><use href="#h11" x="519.5" y="152.1" fill="#19ee20"/><use href="#h11" x="523.9" y="152.1" fill="#19ee20"/><use href="#h11" x="528.2" y="152.1" fill="#19ee20"/><use href="#h11" x="532.6" y="152.1" fill="#19ee20"/><use href="#h11" x="537.0" y="152.1" fill="#19ee20"/><use href="#h11" x="541.4" y="152.1" fill="#19ee20"/><use href="#h11" x="477.8" y="155.9" fill="#19ee20"/><use href="#h11" x="482.2" y="155.9" fill="#19ee20"/><use href="#h11" x="486.6" y="155.9" fill="#19ee20"/><use href="#h11" x="491.0" y="155.9" fill="#19ee20"/><use href="#h11" x="495.3" y="155.9" fill="#19ee20"/><use href="#h11" x="499.7" y="155.9" fill="#19ee20"/><use href="#h11" x="504.1" y="155.9" fill="#19ee20"/><use href="#h11" x="508.5" y="155.9" fill="#19ee20"/><use href="#h11" x="512.9" y="155.9" fill="#19ee20"/><use href="#h11" x="517.3" y="155.9" fill="#19ee20"/><use href="#h11" x="521.7" y="155.9" fill="#19ee20"/><use href="#h11" x="526.1" y="155.9" fill="#19ee20"/><use href="#h11" x="530.4" y="155.9" fill="#14f5b2"/><use href="#h11" x="534.8" y="155.9" fill="#19ee20"/><use href="#h11" x="539.2" y="155.9" fill="#19ee20"/><use href="#h11" x="480.0" y="159.6" fill="#19ee20"/><use href="#h11" x="484.4" y="159.6" fill="#19ee20"/><use href="#h11" x="488.8" y="159.6" fill="#19ee20"/><use href="#h11" x="493.1" y="159.6" fill="#19ee20"/><use href="#h11" x="497.5" y="159.6" fill="#19ee20"/><use href="#h11" x="501.9" y="159.6" fill="#19ee20"/><use href="#h11" x="506.3" y="159.6" fill="#14f5b2"/><use href="#h11" x="510.7" y="159.6" fill="#0eefcb"/><use href="#h11" x="515.1" y="159.6" fill="#0eefcb"/><use href="#h11" x="519.5" y="159.6" fill="#14f5b2"/><use href="#h11" x="523.9" y="159.6" fill="#19ee20"/><use href="#h11" x="528.2" y="159.6" fill="#19ee20"/><use href="#h11" x="532.6" y="159.6" fill="#14f5b2"/><use href="#h11" x="537.0" y="159.6" fill="#0eefcb"/><use href="#h11" x="541.4" y="159.6" fill="#0eefcb"/><use href="#h11" x="477.8" y="163.4" fill="#19ee20"/><use href="#h11" x="482.2" y="163.4" fill="#19ee20"/><use href="#h11" x="486.6" y="163.4" fill="#19ee20"/><use href="#h11" x="491.0" y="163.4" fill="#19ee20"/><use href="#h11" x="495.3" y="163.4" fill="#19ee20"/><use href="#h11" x="499.7" y="163.4" fill="#19ee20"/><use href="#h11" x="504.1" y="163.4" fill="#0eefcb"/><use href="#h11" x="508.5" y="163.4" fill="#0eefcb"/><use href="#h11" x="512.9" y="163.4" fill="#0eefcb"/><use href="#h11" x="517.3" y="163.4" fill="#14f5b2"/><use href="#h11" x="521.7" y="163.4" fill="#14f5b2"/><use href="#h11" x="526.1" y="163.4" fill="#14f5b2"/><use href="#h11" x="530.4" y="163.4" fill="#14f5b2"/><use href="#h11" x="534.8" y="163.4" fill="#0eefcb"/><use href="#h11" x="539.2" y="163.4" fill="#08c9f2"/><use href="#h11" x="480.0" y="167.2" fill="#19ee20"/><use href="#h11" x="484.4" y="167.2" fill="#19ee20"/><use href="#h11" x="488.8" y="167.2" fill="#19ee20"/><use href="#h11" x="493.1" y="167.2" fill="#19ee20"/><use href="#h11" x="497.5" y="167.2" fill="#91f814"/><use href="#h11" x="501.9" y="167.2" fill="#19ee20"/><use href="#h11" x="506.3" y="167.2" fill="#14f5b2"/><use href="#h11" x="510.7" y="167.2" fill="#14f5b2"/><use href="#h11" x="515.1" y="167.2" fill="#14f5b2"/><use href="#h11" x="519.5" y="167.2" fill="#19ee20"/><use href="#h11" x="523.9" y="167.2" fill="#19ee20"/><use href="#h11" x="528.2" y="167.2" fill="#14f5b2"/><use href="#h11" x="532.6" y="167.2" fill="#14f5b2"/><use href="#h11" x="537.0" y="167.2" fill="#0eefcb"/><use href="#h11" x="541.4" y="167.2" fill="#08c9f2"/><use href="#h11" x="477.8" y="170.9" fill="#19ee20"/><use href="#h11" x="482.2" y="170.9" fill="#19ee20"/><use href="#h11" x="486.6" y="170.9" fill="#19ee20"/><use href="#h11" x="491.0" y="170.9" fill="#91f814"/><use href="#h11" x="495.3" y="170.9" fill="#f7f001"/><use href="#h11" x="499.7" y="170.9" fill="#91f814"/><use href="#h11" x="504.1" y="170.9" fill="#19ee20"/><use href="#h11" x="508.5" y="170.9" fill="#19ee20"/><use href="#h11" x="512.9" y="170.9" fill="#19ee20"/><use href="#h11" x="517.3" y="170.9" fill="#19ee20"/><use href="#h11" x="521.7" y="170.9" fill="#19ee20"/><use href="#h11" x="526.1" y="170.9" fill="#19ee20"/><use href="#h11" x="530.4" y="170.9" fill="#19ee20"/><use href="#h11" x="534.8" y="170.9" fill="#14f5b2"/><use href="#h11" x="539.2" y="170.9" fill="#14f5b2"/><use href="#h11" x="480.0" y="174.7" fill="#19ee20"/><use href="#h11" x="484.4" y="174.7" fill="#19ee20"/><use href="#h11" x="488.8" y="174.7" fill="#19ee20"/><use href="#h11" x="493.1" y="174.7" fill="#91f814"/><use href="#h11" x="497.5" y="174.7" fill="#19ee20"/><use href="#h11" x="501.9" y="174.7" fill="#19ee20"/><use href="#h11" x="506.3" y="174.7" fill="#19ee20"/><use href="#h11" x="510.7" y="174.7" fill="#19ee20"/><use href="#h11" x="515.1" y="174.7" fill="#19ee20"/><use href="#h11" x="519.5" y="174.7" fill="#19ee20"/><use href="#h11" x="523.9" y="174.7" fill="#19ee20"/><use href="#h11" x="528.2" y="174.7" fill="#19ee20"/><use href="#h11" x="532.6" y="174.7" fill="#19ee20"/><use href="#h11" x="537.0" y="174.7" fill="#19ee20"/><use href="#h11" x="541.4" y="174.7" fill="#19ee20"/><use href="#h11" x="477.8" y="178.5" fill="#19ee20"/><use href="#h11" x="482.2" y="178.5" fill="#19ee20"/><use href="#h11" x="486.6" y="178.5" fill="#19ee20"/><use href="#h11" x="491.0" y="178.5" fill="#19ee20"/><use href="#h11" x="495.3" y="178.5" fill="#19ee20"/><use href="#h11" x="499.7" y="178.5" fill="#19ee20"/><use href="#h11" x="504.1" y="178.5" fill="#19ee20"/><use href="#h11" x="508.5" y="178.5" fill="#19ee20"/><use href="#h11" x="512.9" y="178.5" fill="#19ee20"/><use href="#h11" x="517.3" y="178.5" fill="#19ee20"/><use href="#h11" x="521.7" y="178.5" fill="#19ee20"/><use href="#h11" x="526.1" y="178.5" fill="#19ee20"/><use href="#h11" x="530.4" y="178.5" fill="#19ee20"/><use href="#h11" x="534.8" y="178.5" fill="#f7f001"/><use href="#h11" x="539.2" y="178.5" fill="#f7f001"/><use href="#h11" x="480.0" y="182.2" fill="#14f5b2"/><use href="#h11" x="484.4" y="182.2" fill="#05e4ea"/><use href="#h11" x="488.8" y="182.2" fill="#14f5b2"/><use href="#h11" x="493.1" y="182.2" fill="#14f5b2"/><use href="#h11" x="497.5" y="182.2" fill="#14f5b2"/><use href="#h11" x="501.9" y="182.2" fill="#14f5b2"/><use href="#h11" x="506.3" y="182.2" fill="#14f5b2"/><use href="#h11" x="510.7" y="182.2" fill="#0f9efc"/><use href="#h11" x="515.1" y="182.2" fill="#0f9efc"/><use href="#h11" x="519.5" y="182.2" fill="#14f5b2"/><use href="#h11" x="523.9" y="182.2" fill="#19ee20"/><use href="#h11" x="528.2" y="182.2" fill="#19ee20"/><use href="#h11" x="532.6" y="182.2" fill="#f7f001"/><use href="#h11" x="537.0" y="182.2" fill="#ec120c"/><use href="#h11" x="541.4" y="182.2" fill="#ff9800"/><use href="#h11" x="477.8" y="186.0" fill="#0f9efc"/><use href="#h11" x="482.2" y="186.0" fill="#0863ff"/><use href="#h11" x="486.6" y="186.0" fill="#0863ff"/><use href="#h11" x="491.0" y="186.0" fill="#0863ff"/><use href="#h11" x="495.3" y="186.0" fill="#0f9efc"/><use href="#h11" x="499.7" y="186.0" fill="#05e4ea"/><use href="#h11" x="504.1" y="186.0" fill="#14f5b2"/><use href="#h11" x="508.5" y="186.0" fill="#05e4ea"/><use href="#h11" x="512.9" y="186.0" fill="#042bfc"/><use href="#h11" x="517.3" y="186.0" fill="#0863ff"/><use href="#h11" x="521.7" y="186.0" fill="#14f5b2"/><use href="#h11" x="526.1" y="186.0" fill="#19ee20"/><use href="#h11" x="530.4" y="186.0" fill="#19ee20"/><use href="#h11" x="534.8" y="186.0" fill="#ff9800"/><use href="#h11" x="539.2" y="186.0" fill="#ff3f05"/><use href="#h11" x="480.0" y="189.8" fill="#0f9efc"/><use href="#h11" x="484.4" y="189.8" fill="#042bfc"/><use href="#h11" x="488.8" y="189.8" fill="#042bfc"/><use href="#h11" x="493.1" y="189.8" fill="#000ee8"/><use href="#h11" x="497.5" y="189.8" fill="#0863ff"/><use href="#h11" x="501.9" y="189.8" fill="#05e4ea"/><use href="#h11" x="506.3" y="189.8" fill="#05e4ea"/><use href="#h11" x="510.7" y="189.8" fill="#05e4ea"/><use href="#h11" x="515.1" y="189.8" fill="#05e4ea"/><use href="#h11" x="519.5" y="189.8" fill="#05e4ea"/><use href="#h11" x="523.9" y="189.8" fill="#19ee20"/><use href="#h11" x="528.2" y="189.8" fill="#19ee20"/><use href="#h11" x="532.6" y="189.8" fill="#19ee20"/><use href="#h11" x="537.0" y="189.8" fill="#f7f001"/><use href="#h11" x="541.4" y="189.8" fill="#91f814"/><use href="#h11" x="477.8" y="193.5" fill="#0f9efc"/><use href="#h11" x="482.2" y="193.5" fill="#042bfc"/><use href="#h11" x="486.6" y="193.5" fill="#042bfc"/><use href="#h11" x="491.0" y="193.5" fill="#000ee8"/><use href="#h11" x="495.3" y="193.5" fill="#000ee8"/><use href="#h11" x="499.7" y="193.5" fill="#0863ff"/><use href="#h11" x="504.1" y="193.5" fill="#0f9efc"/><use href="#h11" x="508.5" y="193.5" fill="#14f5b2"/><use href="#h11" x="512.9" y="193.5" fill="#19ee20"/><use href="#h11" x="517.3" y="193.5" fill="#14f5b2"/><use href="#h11" x="521.7" y="193.5" fill="#19ee20"/><use href="#h11" x="526.1" y="193.5" fill="#19ee20"/><use href="#h11" x="530.4" y="193.5" fill="#19ee20"/><use href="#h11" x="534.8" y="193.5" fill="#19ee20"/><use href="#h11" x="539.2" y="193.5" fill="#19ee20"/><use href="#h11" x="480.0" y="197.3" fill="#0f9efc"/><use href="#h11" x="484.4" y="197.3" fill="#000ee8"/><use href="#h11" x="488.8" y="197.3" fill="#042bfc"/><use href="#h11" x="493.1" y="197.3" fill="#000ee8"/><use href="#h11" x="497.5" y="197.3" fill="#042bfc"/><use href="#h11" x="501.9" y="197.3" fill="#0f9efc"/><use href="#h11" x="506.3" y="197.3" fill="#0f9efc"/><use href="#h11" x="510.7" y="197.3" fill="#14f5b2"/><use href="#h11" x="515.1" y="197.3" fill="#14f5b2"/><use href="#h11" x="519.5" y="197.3" fill="#14f5b2"/><use href="#h11" x="523.9" y="197.3" fill="#19ee20"/><use href="#h11" x="528.2" y="197.3" fill="#19ee20"/><use href="#h11" x="532.6" y="197.3" fill="#19ee20"/><use href="#h11" x="537.0" y="197.3" fill="#19ee20"/><use href="#h11" x="541.4" y="197.3" fill="#19ee20"/></g>
<rect x="474.6" y="122.2" width="70.0" height="78.6" fill="url(#d11)"/>
<rect x="472.10" y="123.85" width="1.4" height="75.95" fill="url(#cbg)"/>
<rect x="472.10" y="123.85" width="1.4" height="75.95" fill="#707080" fill-opacity="0.18"/>
<text x="508.6" y="121.0" class="t" font-size="6.37" text-anchor="middle" textLength="40.3" lengthAdjust="spacingAndGlyphs">Transparency</text>
<text x="471.0" y="131.7" class="k" font-size="6.38" text-anchor="end" textLength="8.2" lengthAdjust="spacingAndGlyphs">4.0</text>
<text x="471.0" y="147.9" class="k" font-size="6.38" text-anchor="end" textLength="8.2" lengthAdjust="spacingAndGlyphs">3.5</text>
<text x="471.0" y="162.9" class="k" font-size="6.38" text-anchor="end" textLength="8.2" lengthAdjust="spacingAndGlyphs">3.0</text>
<text x="471.0" y="178.3" class="k" font-size="6.38" text-anchor="end" textLength="8.2" lengthAdjust="spacingAndGlyphs">2.5</text>
<text x="471.0" y="193.3" class="k" font-size="6.38" text-anchor="end" textLength="8.2" lengthAdjust="spacingAndGlyphs">2.0</text>
<g stroke="#454550" stroke-opacity="0.33" stroke-width="0.6" stroke-linejoin="round"><use href="#h12" x="20.8" y="237.2" fill="#05e4ea"/><use href="#h12" x="25.2" y="237.2" fill="#14f5b2"/><use href="#h12" x="29.7" y="237.2" fill="#14f5b2"/><use href="#h12" x="34.1" y="237.2" fill="#0f9efc"/><use href="#h12" x="38.5" y="237.2" fill="#0863ff"/><use href="#h12" x="43.0" y="237.2" fill="#0863ff"/><use href="#h12" x="47.4" y="237.2" fill="#0863ff"/><use href="#h12" x="51.8" y="237.2" fill="#0863ff"/><use href="#h12" x="56.3" y="237.2" fill="#0863ff"/><use href="#h12" x="60.7" y="237.2" fill="#042bfc"/><use href="#h12" x="65.1" y="237.2" fill="#0863ff"/><use href="#h12" x="69.6" y="237.2" fill="#0863ff"/><use href="#h12" x="74.0" y="237.2" fill="#042bfc"/><use href="#h12" x="78.4" y="237.2" fill="#0863ff"/><use href="#h12" x="82.9" y="237.2" fill="#042bfc"/><use href="#h12" x="23.0" y="241.0" fill="#14f5b2"/><use href="#h12" x="27.5" y="241.0" fill="#14f5b2"/><use href="#h12" x="31.9" y="241.0" fill="#0f9efc"/><use href="#h12" x="36.3" y="241.0" fill="#0863ff"/><use href="#h12" x="40.8" y="241.0" fill="#0863ff"/><use href="#h12" x="45.2" y="241.0" fill="#0863ff"/><use href="#h12" x="49.6" y="241.0" fill="#0863ff"/><use href="#h12" x="54.1" y="241.0" fill="#0863ff"/><use href="#h12" x="58.5" y="241.0" fill="#042bfc"/><use href="#h12" x="62.9" y="241.0" fill="#042bfc"/><use href="#h12" x="67.4" y="241.0" fill="#0863ff"/><use href="#h12" x="71.8" y="241.0" fill="#0863ff"/><use href="#h12" x="76.2" y="241.0" fill="#0863ff"/><use href="#h12" x="80.7" y="241.0" fill="#0863ff"/><use href="#h12" x="85.1" y="241.0" fill="#042bfc"/><use href="#h12" x="20.8" y="244.8" fill="#19ee20"/><use href="#h12" x="25.2" y="244.8" fill="#14f5b2"/><use href="#h12" x="29.7" y="244.8" fill="#0f9efc"/><use href="#h12" x="34.1" y="244.8" fill="#042bfc"/><use href="#h12" x="38.5" y="244.8" fill="#042bfc"/><use href="#h12" x="43.0" y="244.8" fill="#0863ff"/><use href="#h12" x="47.4" y="244.8" fill="#0863ff"/><use href="#h12" x="51.8" y="244.8" fill="#0863ff"/><use href="#h12" x="56.3" y="244.8" fill="#0863ff"/><use href="#h12" x="60.7" y="244.8" fill="#0863ff"/><use href="#h12" x="65.1" y="244.8" fill="#0863ff"/><use href="#h12" x="69.6" y="244.8" fill="#0863ff"/><use href="#h12" x="74.0" y="244.8" fill="#0863ff"/><use href="#h12" x="78.4" y="244.8" fill="#042bfc"/><use href="#h12" x="82.9" y="244.8" fill="#0863ff"/><use href="#h12" x="23.0" y="248.6" fill="#05e4ea"/><use href="#h12" x="27.5" y="248.6" fill="#0863ff"/><use href="#h12" x="31.9" y="248.6" fill="#042bfc"/><use href="#h12" x="36.3" y="248.6" fill="#0863ff"/><use href="#h12" x="40.8" y="248.6" fill="#0863ff"/><use href="#h12" x="45.2" y="248.6" fill="#0863ff"/><use href="#h12" x="49.6" y="248.6" fill="#0863ff"/><use href="#h12" x="54.1" y="248.6" fill="#0863ff"/><use href="#h12" x="58.5" y="248.6" fill="#042bfc"/><use href="#h12" x="62.9" y="248.6" fill="#042bfc"/><use href="#h12" x="67.4" y="248.6" fill="#0863ff"/><use href="#h12" x="71.8" y="248.6" fill="#0863ff"/><use href="#h12" x="76.2" y="248.6" fill="#0f9efc"/><use href="#h12" x="80.7" y="248.6" fill="#0863ff"/><use href="#h12" x="85.1" y="248.6" fill="#0863ff"/><use href="#h12" x="20.8" y="252.4" fill="#042bfc"/><use href="#h12" x="25.2" y="252.4" fill="#042bfc"/><use href="#h12" x="29.7" y="252.4" fill="#0863ff"/><use href="#h12" x="34.1" y="252.4" fill="#0863ff"/><use href="#h12" x="38.5" y="252.4" fill="#0863ff"/><use href="#h12" x="43.0" y="252.4" fill="#0863ff"/><use href="#h12" x="47.4" y="252.4" fill="#0863ff"/><use href="#h12" x="51.8" y="252.4" fill="#0863ff"/><use href="#h12" x="56.3" y="252.4" fill="#0863ff"/><use href="#h12" x="60.7" y="252.4" fill="#0863ff"/><use href="#h12" x="65.1" y="252.4" fill="#0863ff"/><use href="#h12" x="69.6" y="252.4" fill="#0f9efc"/><use href="#h12" x="74.0" y="252.4" fill="#05e4ea"/><use href="#h12" x="78.4" y="252.4" fill="#05e4ea"/><use href="#h12" x="82.9" y="252.4" fill="#0f9efc"/><use href="#h12" x="23.0" y="256.2" fill="#042bfc"/><use href="#h12" x="27.5" y="256.2" fill="#042bfc"/><use href="#h12" x="31.9" y="256.2" fill="#0863ff"/><use href="#h12" x="36.3" y="256.2" fill="#0863ff"/><use href="#h12" x="40.8" y="256.2" fill="#0863ff"/><use href="#h12" x="45.2" y="256.2" fill="#0f9efc"/><use href="#h12" x="49.6" y="256.2" fill="#0863ff"/><use href="#h12" x="54.1" y="256.2" fill="#0863ff"/><use href="#h12" x="58.5" y="256.2" fill="#0863ff"/><use href="#h12" x="62.9" y="256.2" fill="#0f9efc"/><use href="#h12" x="67.4" y="256.2" fill="#0f9efc"/><use href="#h12" x="71.8" y="256.2" fill="#05e4ea"/><use href="#h12" x="76.2" y="256.2" fill="#05e4ea"/><use href="#h12" x="80.7" y="256.2" fill="#05e4ea"/><use href="#h12" x="85.1" y="256.2" fill="#05e4ea"/><use href="#h12" x="20.8" y="260.0" fill="#042bfc"/><use href="#h12" x="25.2" y="260.0" fill="#0863ff"/><use href="#h12" x="29.7" y="260.0" fill="#0863ff"/><use href="#h12" x="34.1" y="260.0" fill="#0863ff"/><use href="#h12" x="38.5" y="260.0" fill="#0863ff"/><use href="#h12" x="43.0" y="260.0" fill="#0863ff"/><use href="#h12" x="47.4" y="260.0" fill="#0863ff"/><use href="#h12" x="51.8" y="260.0" fill="#0f9efc"/><use href="#h12" x="56.3" y="260.0" fill="#0f9efc"/><use href="#h12" x="60.7" y="260.0" fill="#0f9efc"/><use href="#h12" x="65.1" y="260.0" fill="#0f9efc"/><use href="#h12" x="69.6" y="260.0" fill="#0f9efc"/><use href="#h12" x="74.0" y="260.0" fill="#05e4ea"/><use href="#h12" x="78.4" y="260.0" fill="#05e4ea"/><use href="#h12" x="82.9" y="260.0" fill="#14f5b2"/><use href="#h12" x="23.0" y="263.8" fill="#0863ff"/><use href="#h12" x="27.5" y="263.8" fill="#042bfc"/><use href="#h12" x="31.9" y="263.8" fill="#042bfc"/><use href="#h12" x="36.3" y="263.8" fill="#042bfc"/><use href="#h12" x="40.8" y="263.8" fill="#0863ff"/><use href="#h12" x="45.2" y="263.8" fill="#0863ff"/><use href="#h12" x="49.6" y="263.8" fill="#0f9efc"/><use href="#h12" x="54.1" y="263.8" fill="#0f9efc"/><use href="#h12" x="58.5" y="263.8" fill="#0f9efc"/><use href="#h12" x="62.9" y="263.8" fill="#05e4ea"/><use href="#h12" x="67.4" y="263.8" fill="#05e4ea"/><use href="#h12" x="71.8" y="263.8" fill="#05e4ea"/><use href="#h12" x="76.2" y="263.8" fill="#14f5b2"/><use href="#h12" x="80.7" y="263.8" fill="#14f5b2"/><use href="#h12" x="85.1" y="263.8" fill="#19ee20"/><use href="#h12" x="20.8" y="267.6" fill="#0863ff"/><use href="#h12" x="25.2" y="267.6" fill="#0863ff"/><use href="#h12" x="29.7" y="267.6" fill="#042bfc"/><use href="#h12" x="34.1" y="267.6" fill="#042bfc"/><use href="#h12" x="38.5" y="267.6" fill="#0863ff"/><use href="#h12" x="43.0" y="267.6" fill="#05e4ea"/><use href="#h12" x="47.4" y="267.6" fill="#0f9efc"/><use href="#h12" x="51.8" y="267.6" fill="#05e4ea"/><use href="#h12" x="56.3" y="267.6" fill="#05e4ea"/><use href="#h12" x="60.7" y="267.6" fill="#14f5b2"/><use href="#h12" x="65.1" y="267.6" fill="#05e4ea"/><use href="#h12" x="69.6" y="267.6" fill="#05e4ea"/><use href="#h12" x="74.0" y="267.6" fill="#19ee20"/><use href="#h12" x="78.4" y="267.6" fill="#19ee20"/><use href="#h12" x="82.9" y="267.6" fill="#19ee20"/><use href="#h12" x="23.0" y="271.4" fill="#0eefcb"/><use href="#h12" x="27.5" y="271.4" fill="#0eefcb"/><use href="#h12" x="31.9" y="271.4" fill="#0eefcb"/><use href="#h12" x="36.3" y="271.4" fill="#0eefcb"/><use href="#h12" x="40.8" y="271.4" fill="#16f278"/><use href="#h12" x="45.2" y="271.4" fill="#16f278"/><use href="#h12" x="49.6" y="271.4" fill="#16f278"/><use href="#h12" x="54.1" y="271.4" fill="#16f278"/><use href="#h12" x="58.5" y="271.4" fill="#16f278"/><use href="#h12" x="62.9" y="271.4" fill="#16f278"/><use href="#h12" x="67.4" y="271.4" fill="#0eefcb"/><use href="#h12" x="71.8" y="271.4" fill="#19ee20"/><use href="#h12" x="76.2" y="271.4" fill="#19ee20"/><use href="#h12" x="80.7" y="271.4" fill="#19ee20"/><use href="#h12" x="85.1" y="271.4" fill="#19ee20"/><use href="#h12" x="20.8" y="275.3" fill="#0eefcb"/><use href="#h12" x="25.2" y="275.3" fill="#0eefcb"/><use href="#h12" x="29.7" y="275.3" fill="#0eefcb"/><use href="#h12" x="34.1" y="275.3" fill="#0eefcb"/><use href="#h12" x="38.5" y="275.3" fill="#16f278"/><use href="#h12" x="43.0" y="275.3" fill="#16f278"/><use href="#h12" x="47.4" y="275.3" fill="#16f278"/><use href="#h12" x="51.8" y="275.3" fill="#16f278"/><use href="#h12" x="56.3" y="275.3" fill="#16f278"/><use href="#h12" x="60.7" y="275.3" fill="#16f278"/><use href="#h12" x="65.1" y="275.3" fill="#0eefcb"/><use href="#h12" x="69.6" y="275.3" fill="#16f278"/><use href="#h12" x="74.0" y="275.3" fill="#19ee20"/><use href="#h12" x="78.4" y="275.3" fill="#19ee20"/><use href="#h12" x="82.9" y="275.3" fill="#16f278"/><use href="#h12" x="23.0" y="279.1" fill="#16f278"/><use href="#h12" x="27.5" y="279.1" fill="#16f278"/><use href="#h12" x="31.9" y="279.1" fill="#16f278"/><use href="#h12" x="36.3" y="279.1" fill="#16f278"/><use href="#h12" x="40.8" y="279.1" fill="#16f278"/><use href="#h12" x="45.2" y="279.1" fill="#16f278"/><use href="#h12" x="49.6" y="279.1" fill="#16f278"/><use href="#h12" x="54.1" y="279.1" fill="#16f278"/><use href="#h12" x="58.5" y="279.1" fill="#16f278"/><use href="#h12" x="62.9" y="279.1" fill="#16f278"/><use href="#h12" x="67.4" y="279.1" fill="#0eefcb"/><use href="#h12" x="71.8" y="279.1" fill="#0eefcb"/><use href="#h12" x="76.2" y="279.1" fill="#0eefcb"/><use href="#h12" x="80.7" y="279.1" fill="#16f278"/><use href="#h12" x="85.1" y="279.1" fill="#0eefcb"/><use href="#h12" x="20.8" y="282.9" fill="#16f278"/><use href="#h12" x="25.2" y="282.9" fill="#19ee20"/><use href="#h12" x="29.7" y="282.9" fill="#19ee20"/><use href="#h12" x="34.1" y="282.9" fill="#16f278"/><use href="#h12" x="38.5" y="282.9" fill="#0eefcb"/><use href="#h12" x="43.0" y="282.9" fill="#0eefcb"/><use href="#h12" x="47.4" y="282.9" fill="#0eefcb"/><use href="#h12" x="51.8" y="282.9" fill="#16f278"/><use href="#h12" x="56.3" y="282.9" fill="#19ee20"/><use href="#h12" x="60.7" y="282.9" fill="#19ee20"/><use href="#h12" x="65.1" y="282.9" fill="#0eefcb"/><use href="#h12" x="69.6" y="282.9" fill="#0eefcb"/><use href="#h12" x="74.0" y="282.9" fill="#0eefcb"/><use href="#h12" x="78.4" y="282.9" fill="#0eefcb"/><use href="#h12" x="82.9" y="282.9" fill="#0eefcb"/><use href="#h12" x="23.0" y="286.7" fill="#16f278"/><use href="#h12" x="27.5" y="286.7" fill="#19ee20"/><use href="#h12" x="31.9" y="286.7" fill="#16f278"/><use href="#h12" x="36.3" y="286.7" fill="#16f278"/><use href="#h12" x="40.8" y="286.7" fill="#0eefcb"/><use href="#h12" x="45.2" y="286.7" fill="#0eefcb"/><use href="#h12" x="49.6" y="286.7" fill="#16f278"/><use href="#h12" x="54.1" y="286.7" fill="#19ee20"/><use href="#h12" x="58.5" y="286.7" fill="#19ee20"/><use href="#h12" x="62.9" y="286.7" fill="#16f278"/><use href="#h12" x="67.4" y="286.7" fill="#0eefcb"/><use href="#h12" x="71.8" y="286.7" fill="#0eefcb"/><use href="#h12" x="76.2" y="286.7" fill="#0eefcb"/><use href="#h12" x="80.7" y="286.7" fill="#0eefcb"/><use href="#h12" x="85.1" y="286.7" fill="#0f9efc"/><use href="#h12" x="20.8" y="290.5" fill="#16f278"/><use href="#h12" x="25.2" y="290.5" fill="#16f278"/><use href="#h12" x="29.7" y="290.5" fill="#16f278"/><use href="#h12" x="34.1" y="290.5" fill="#16f278"/><use href="#h12" x="38.5" y="290.5" fill="#0eefcb"/><use href="#h12" x="43.0" y="290.5" fill="#0eefcb"/><use href="#h12" x="47.4" y="290.5" fill="#0eefcb"/><use href="#h12" x="51.8" y="290.5" fill="#16f278"/><use href="#h12" x="56.3" y="290.5" fill="#19ee20"/><use href="#h12" x="60.7" y="290.5" fill="#16f278"/><use href="#h12" x="65.1" y="290.5" fill="#0f9efc"/><use href="#h12" x="69.6" y="290.5" fill="#0f9efc"/><use href="#h12" x="74.0" y="290.5" fill="#0f9efc"/><use href="#h12" x="78.4" y="290.5" fill="#0f9efc"/><use href="#h12" x="82.9" y="290.5" fill="#0f9efc"/><use href="#h12" x="23.0" y="294.3" fill="#19ee20"/><use href="#h12" x="27.5" y="294.3" fill="#19ee20"/><use href="#h12" x="31.9" y="294.3" fill="#19ee20"/><use href="#h12" x="36.3" y="294.3" fill="#16f278"/><use href="#h12" x="40.8" y="294.3" fill="#0eefcb"/><use href="#h12" x="45.2" y="294.3" fill="#0eefcb"/><use href="#h12" x="49.6" y="294.3" fill="#16f278"/><use href="#h12" x="54.1" y="294.3" fill="#19ee20"/><use href="#h12" x="58.5" y="294.3" fill="#16f278"/><use href="#h12" x="62.9" y="294.3" fill="#0eefcb"/><use href="#h12" x="67.4" y="294.3" fill="#0f9efc"/><use href="#h12" x="71.8" y="294.3" fill="#0f9efc"/><use href="#h12" x="76.2" y="294.3" fill="#0863ff"/><use href="#h12" x="80.7" y="294.3" fill="#042bfc"/><use href="#h12" x="85.1" y="294.3" fill="#0863ff"/><use href="#h12" x="20.8" y="298.1" fill="#19ee20"/><use href="#h12" x="25.2" y="298.1" fill="#f7f001"/><use href="#h12" x="29.7" y="298.1" fill="#ff9800"/><use href="#h12" x="34.1" y="298.1" fill="#19ee20"/><use href="#h12" x="38.5" y="298.1" fill="#16f278"/><use href="#h12" x="43.0" y="298.1" fill="#0eefcb"/><use href="#h12" x="47.4" y="298.1" fill="#16f278"/><use href="#h12" x="51.8" y="298.1" fill="#19ee20"/><use href="#h12" x="56.3" y="298.1" fill="#19ee20"/><use href="#h12" x="60.7" y="298.1" fill="#0eefcb"/><use href="#h12" x="65.1" y="298.1" fill="#0f9efc"/><use href="#h12" x="69.6" y="298.1" fill="#0863ff"/><use href="#h12" x="74.0" y="298.1" fill="#0863ff"/><use href="#h12" x="78.4" y="298.1" fill="#042bfc"/><use href="#h12" x="82.9" y="298.1" fill="#0863ff"/><use href="#h12" x="23.0" y="301.9" fill="#91f814"/><use href="#h12" x="27.5" y="301.9" fill="#91f814"/><use href="#h12" x="31.9" y="301.9" fill="#f7f001"/><use href="#h12" x="36.3" y="301.9" fill="#19ee20"/><use href="#h12" x="40.8" y="301.9" fill="#19ee20"/><use href="#h12" x="45.2" y="301.9" fill="#16f278"/><use href="#h12" x="49.6" y="301.9" fill="#16f278"/><use href="#h12" x="54.1" y="301.9" fill="#19ee20"/><use href="#h12" x="58.5" y="301.9" fill="#16f278"/><use href="#h12" x="62.9" y="301.9" fill="#0f9efc"/><use href="#h12" x="67.4" y="301.9" fill="#042bfc"/><use href="#h12" x="71.8" y="301.9" fill="#0863ff"/><use href="#h12" x="76.2" y="301.9" fill="#0863ff"/><use href="#h12" x="80.7" y="301.9" fill="#0863ff"/><use href="#h12" x="85.1" y="301.9" fill="#0863ff"/><use href="#h12" x="20.8" y="305.7" fill="#16f278"/><use href="#h12" x="25.2" y="305.7" fill="#19ee20"/><use href="#h12" x="29.7" y="305.7" fill="#ff9800"/><use href="#h12" x="34.1" y="305.7" fill="#91f814"/><use href="#h12" x="38.5" y="305.7" fill="#91f814"/><use href="#h12" x="43.0" y="305.7" fill="#19ee20"/><use href="#h12" x="47.4" y="305.7" fill="#16f278"/><use href="#h12" x="51.8" y="305.7" fill="#16f278"/><use href="#h12" x="56.3" y="305.7" fill="#16f278"/><use href="#h12" x="60.7" y="305.7" fill="#0eefcb"/><use href="#h12" x="65.1" y="305.7" fill="#042bfc"/><use href="#h12" x="69.6" y="305.7" fill="#000ee8"/><use href="#h12" x="74.0" y="305.7" fill="#042bfc"/><use href="#h12" x="78.4" y="305.7" fill="#042bfc"/><use href="#h12" x="82.9" y="305.7" fill="#0863ff"/><use href="#h12" x="23.0" y="309.5" fill="#19ee20"/><use href="#h12" x="27.5" y="309.5" fill="#ec120c"/><use href="#h12" x="31.9" y="309.5" fill="#ff9800"/><use href="#h12" x="36.3" y="309.5" fill="#91f814"/><use href="#h12" x="40.8" y="309.5" fill="#19ee20"/><use href="#h12" x="45.2" y="309.5" fill="#19ee20"/><use href="#h12" x="49.6" y="309.5" fill="#16f278"/><use href="#h12" x="54.1" y="309.5" fill="#16f278"/><use href="#h12" x="58.5" y="309.5" fill="#16f278"/><use href="#h12" x="62.9" y="309.5" fill="#0eefcb"/><use href="#h12" x="67.4" y="309.5" fill="#042bfc"/><use href="#h12" x="71.8" y="309.5" fill="#042bfc"/><use href="#h12" x="76.2" y="309.5" fill="#042bfc"/><use href="#h12" x="80.7" y="309.5" fill="#0863ff"/><use href="#h12" x="85.1" y="309.5" fill="#0863ff"/></g>
<rect x="17.6" y="233.7" width="70.7" height="79.3" fill="url(#d12)"/>
<rect x="14.90" y="235.30" width="1.4" height="76.70" fill="url(#cbg)"/>
<rect x="14.90" y="235.30" width="1.4" height="76.70" fill="#707080" fill-opacity="0.18"/>
<text x="52.2" y="232.5" class="t" font-size="6.41" text-anchor="middle" textLength="13.1" lengthAdjust="spacingAndGlyphs">Chla</text>
<text x="13.4" y="248.9" class="k" font-size="6.45" text-anchor="end" textLength="6.6" lengthAdjust="spacingAndGlyphs">10</text>
<text x="13.4" y="266.1" class="k" font-size="6.45" text-anchor="end" textLength="3.3" lengthAdjust="spacingAndGlyphs">8</text>
<text x="13.4" y="283.3" class="k" font-size="6.45" text-anchor="end" textLength="3.3" lengthAdjust="spacingAndGlyphs">6</text>
<text x="13.4" y="300.3" class="k" font-size="6.45" text-anchor="end" textLength="3.3" lengthAdjust="spacingAndGlyphs">4</text>
<g stroke="#454550" stroke-opacity="0.33" stroke-width="0.6" stroke-linejoin="round"><use href="#h13" x="118.8" y="236.7" fill="#f21f0a"/><use href="#h13" x="122.8" y="236.7" fill="#f21f0a"/><use href="#h13" x="126.8" y="236.7" fill="#f21f0a"/><use href="#h13" x="130.8" y="236.7" fill="#f21f0a"/><use href="#h13" x="134.9" y="236.7" fill="#f21f0a"/><use href="#h13" x="138.9" y="236.7" fill="#f21f0a"/><use href="#h13" x="142.9" y="236.7" fill="#f21f0a"/><use href="#h13" x="146.9" y="236.7" fill="#f21f0a"/><use href="#h13" x="150.9" y="236.7" fill="#f21f0a"/><use href="#h13" x="154.9" y="236.7" fill="#ff7902"/><use href="#h13" x="158.9" y="236.7" fill="#ff7902"/><use href="#h13" x="162.9" y="236.7" fill="#ff7902"/><use href="#h13" x="167.0" y="236.7" fill="#ff7902"/><use href="#h13" x="171.0" y="236.7" fill="#ff7902"/><use href="#h13" x="175.0" y="236.7" fill="#ff7902"/><use href="#h13" x="120.8" y="240.1" fill="#f21f0a"/><use href="#h13" x="124.8" y="240.1" fill="#f21f0a"/><use href="#h13" x="128.8" y="240.1" fill="#f21f0a"/><use href="#h13" x="132.9" y="240.1" fill="#f21f0a"/><use href="#h13" x="136.9" y="240.1" fill="#f21f0a"/><use href="#h13" x="140.9" y="240.1" fill="#f21f0a"/><use href="#h13" x="144.9" y="240.1" fill="#f21f0a"/><use href="#h13" x="148.9" y="240.1" fill="#f21f0a"/><use href="#h13" x="152.9" y="240.1" fill="#f21f0a"/><use href="#h13" x="156.9" y="240.1" fill="#ff7902"/><use href="#h13" x="160.9" y="240.1" fill="#ff7902"/><use href="#h13" x="165.0" y="240.1" fill="#ff7902"/><use href="#h13" x="169.0" y="240.1" fill="#ff7902"/><use href="#h13" x="173.0" y="240.1" fill="#ff7902"/><use href="#h13" x="177.0" y="240.1" fill="#ff7902"/><use href="#h13" x="118.8" y="243.5" fill="#f21f0a"/><use href="#h13" x="122.8" y="243.5" fill="#f21f0a"/><use href="#h13" x="126.8" y="243.5" fill="#f21f0a"/><use href="#h13" x="130.8" y="243.5" fill="#f21f0a"/><use href="#h13" x="134.9" y="243.5" fill="#f21f0a"/><use href="#h13" x="138.9" y="243.5" fill="#f21f0a"/><use href="#h13" x="142.9" y="243.5" fill="#f21f0a"/><use href="#h13" x="146.9" y="243.5" fill="#f21f0a"/><use href="#h13" x="150.9" y="243.5" fill="#f21f0a"/><use href="#h13" x="154.9" y="243.5" fill="#ff7902"/><use href="#h13" x="158.9" y="243.5" fill="#ff7902"/><use href="#h13" x="162.9" y="243.5" fill="#ff7902"/><use href="#h13" x="167.0" y="243.5" fill="#ff7902"/><use href="#h13" x="171.0" y="243.5" fill="#ff7902"/><use href="#h13" x="175.0" y="243.5" fill="#ff7902"/><use href="#h13" x="120.8" y="246.9" fill="#f42409"/><use href="#h13" x="124.8" y="246.9" fill="#f42409"/><use href="#h13" x="128.8" y="246.9" fill="#f42409"/><use href="#h13" x="132.9" y="246.9" fill="#f42409"/><use href="#h13" x="136.9" y="246.9" fill="#f42409"/><use href="#h13" x="140.9" y="246.9" fill="#f42409"/><use href="#h13" x="144.9" y="246.9" fill="#f42409"/><use href="#h13" x="148.9" y="246.9" fill="#f42409"/><use href="#h13" x="152.9" y="246.9" fill="#ff3f05"/><use href="#h13" x="156.9" y="246.9" fill="#ff7902"/><use href="#h13" x="160.9" y="246.9" fill="#ff7902"/><use href="#h13" x="165.0" y="246.9" fill="#ff7902"/><use href="#h13" x="169.0" y="246.9" fill="#ff7902"/><use href="#h13" x="173.0" y="246.9" fill="#ff7902"/><use href="#h13" x="177.0" y="246.9" fill="#ff7902"/><use href="#h13" x="118.8" y="250.4" fill="#f62808"/><use href="#h13" x="122.8" y="250.4" fill="#f62808"/><use href="#h13" x="126.8" y="250.4" fill="#f62808"/><use href="#h13" x="130.8" y="250.4" fill="#f62808"/><use href="#h13" x="134.9" y="250.4" fill="#f62808"/><use href="#h13" x="138.9" y="250.4" fill="#f62808"/><use href="#h13" x="142.9" y="250.4" fill="#f62808"/><use href="#h13" x="146.9" y="250.4" fill="#ff4804"/><use href="#h13" x="150.9" y="250.4" fill="#ff7d01"/><use href="#h13" x="154.9" y="250.4" fill="#ff7d01"/><use href="#h13" x="158.9" y="250.4" fill="#ff7d01"/><use href="#h13" x="162.9" y="250.4" fill="#ff7d01"/><use href="#h13" x="167.0" y="250.4" fill="#ff7d01"/><use href="#h13" x="171.0" y="250.4" fill="#ff7d01"/><use href="#h13" x="175.0" y="250.4" fill="#ff7d01"/><use href="#h13" x="120.8" y="253.8" fill="#f93107"/><use href="#h13" x="124.8" y="253.8" fill="#f93107"/><use href="#h13" x="128.8" y="253.8" fill="#f93107"/><use href="#h13" x="132.9" y="253.8" fill="#f93107"/><use href="#h13" x="136.9" y="253.8" fill="#f93107"/><use href="#h13" x="140.9" y="253.8" fill="#ff3f05"/><use href="#h13" x="144.9" y="253.8" fill="#ff3f05"/><use href="#h13" x="148.9" y="253.8" fill="#ff7d01"/><use href="#h13" x="152.9" y="253.8" fill="#ff7d01"/><use href="#h13" x="156.9" y="253.8" fill="#ff7d01"/><use href="#h13" x="160.9" y="253.8" fill="#ff7d01"/><use href="#h13" x="165.0" y="253.8" fill="#ff7d01"/><use href="#h13" x="169.0" y="253.8" fill="#ff7d01"/><use href="#h13" x="173.0" y="253.8" fill="#ff7d01"/><use href="#h13" x="177.0" y="253.8" fill="#ff7d01"/><use href="#h13" x="118.8" y="257.2" fill="#ff3f05"/><use href="#h13" x="122.8" y="257.2" fill="#ff3f05"/><use href="#h13" x="126.8" y="257.2" fill="#ff3f05"/><use href="#h13" x="130.8" y="257.2" fill="#ff3f05"/><use href="#h13" x="134.9" y="257.2" fill="#ff3f05"/><use href="#h13" x="138.9" y="257.2" fill="#ff3f05"/><use href="#h13" x="142.9" y="257.2" fill="#ff3f05"/><use href="#h13" x="146.9" y="257.2" fill="#ff6203"/><use href="#h13" x="150.9" y="257.2" fill="#ff8a01"/><use href="#h13" x="154.9" y="257.2" fill="#ff8a01"/><use href="#h13" x="158.9" y="257.2" fill="#ff8a01"/><use href="#h13" x="162.9" y="257.2" fill="#ff8a01"/><use href="#h13" x="167.0" y="257.2" fill="#ff8a01"/><use href="#h13" x="171.0" y="257.2" fill="#ff8a01"/><use href="#h13" x="175.0" y="257.2" fill="#ff8a01"/><use href="#h13" x="120.8" y="260.6" fill="#ff5104"/><use href="#h13" x="124.8" y="260.6" fill="#ff5104"/><use href="#h13" x="128.8" y="260.6" fill="#ff5104"/><use href="#h13" x="132.9" y="260.6" fill="#ff5104"/><use href="#h13" x="136.9" y="260.6" fill="#ff5104"/><use href="#h13" x="140.9" y="260.6" fill="#ff5104"/><use href="#h13" x="144.9" y="260.6" fill="#ff7402"/><use href="#h13" x="148.9" y="260.6" fill="#ff7402"/><use href="#h13" x="152.9" y="260.6" fill="#ff9800"/><use href="#h13" x="156.9" y="260.6" fill="#ff9800"/><use href="#h13" x="160.9" y="260.6" fill="#ff9800"/><use href="#h13" x="165.0" y="260.6" fill="#ff9800"/><use href="#h13" x="169.0" y="260.6" fill="#ff9800"/><use href="#h13" x="173.0" y="260.6" fill="#ff9800"/><use href="#h13" x="177.0" y="260.6" fill="#ff9800"/><use href="#h13" x="118.8" y="264.0" fill="#ff7d01"/><use href="#h13" x="122.8" y="264.0" fill="#ff7d01"/><use href="#h13" x="126.8" y="264.0" fill="#ff7d01"/><use href="#h13" x="130.8" y="264.0" fill="#ff7d01"/><use href="#h13" x="134.9" y="264.0" fill="#ff7d01"/><use href="#h13" x="138.9" y="264.0" fill="#ff7d01"/><use href="#h13" x="142.9" y="264.0" fill="#ff7d01"/><use href="#h13" x="146.9" y="264.0" fill="#feaa00"/><use href="#h13" x="150.9" y="264.0" fill="#feaa00"/><use href="#h13" x="154.9" y="264.0" fill="#feaa00"/><use href="#h13" x="158.9" y="264.0" fill="#feaa00"/><use href="#h13" x="162.9" y="264.0" fill="#feaa00"/><use href="#h13" x="167.0" y="264.0" fill="#feaa00"/><use href="#h13" x="171.0" y="264.0" fill="#feaa00"/><use href="#h13" x="175.0" y="264.0" fill="#feaa00"/><use href="#h13" x="120.8" y="267.4" fill="#ff8f00"/><use href="#h13" x="124.8" y="267.4" fill="#ff8f00"/><use href="#h13" x="128.8" y="267.4" fill="#ff8f00"/><use href="#h13" x="132.9" y="267.4" fill="#ff8f00"/><use href="#h13" x="136.9" y="267.4" fill="#ff8f00"/><use href="#h13" x="140.9" y="267.4" fill="#feaf00"/><use href="#h13" x="144.9" y="267.4" fill="#feaf00"/><use href="#h13" x="148.9" y="267.4" fill="#feaf00"/><use href="#h13" x="152.9" y="267.4" fill="#feaf00"/><use href="#h13" x="156.9" y="267.4" fill="#feaf00"/><use href="#h13" x="160.9" y="267.4" fill="#feaf00"/><use href="#h13" x="165.0" y="267.4" fill="#feaf00"/><use href="#h13" x="169.0" y="267.4" fill="#feaf00"/><use href="#h13" x="173.0" y="267.4" fill="#feaf00"/><use href="#h13" x="177.0" y="267.4" fill="#feaf00"/><use href="#h13" x="118.8" y="270.9" fill="#feaf00"/><use href="#h13" x="122.8" y="270.9" fill="#feaf00"/><use href="#h13" x="126.8" y="270.9" fill="#feaf00"/><use href="#h13" x="130.8" y="270.9" fill="#feaf00"/><use href="#h13" x="134.9" y="270.9" fill="#feaf00"/><use href="#h13" x="138.9" y="270.9" fill="#feaf00"/><use href="#h13" x="142.9" y="270.9" fill="#feaf00"/><use href="#h13" x="146.9" y="270.9" fill="#feaf00"/><use href="#h13" x="150.9" y="270.9" fill="#feaf00"/><use href="#h13" x="154.9" y="270.9" fill="#feaf00"/><use href="#h13" x="158.9" y="270.9" fill="#feaf00"/><use href="#h13" x="162.9" y="270.9" fill="#feaf00"/><use href="#h13" x="167.0" y="270.9" fill="#feaf00"/><use href="#h13" x="171.0" y="270.9" fill="#feaf00"/><use href="#h13" x="175.0" y="270.9" fill="#feaf00"/><use href="#h13" x="120.8" y="274.3" fill="#fdb800"/><use href="#h13" x="124.8" y="274.3" fill="#fdb800"/><use href="#h13" x="128.8" y="274.3" fill="#fdb800"/><use href="#h13" x="132.9" y="274.3" fill="#fdb800"/><use href="#h13" x="136.9" y="274.3" fill="#fdb800"/><use href="#h13" x="140.9" y="274.3" fill="#fdb800"/><use href="#h13" x="144.9" y="274.3" fill="#fdb800"/><use href="#h13" x="148.9" y="274.3" fill="#fdb800"/><use href="#h13" x="152.9" y="274.3" fill="#fdb800"/><use href="#h13" x="156.9" y="274.3" fill="#fdb800"/><use href="#h13" x="160.9" y="274.3" fill="#fdb800"/><use href="#h13" x="165.0" y="274.3" fill="#fdb800"/><use href="#h13" x="169.0" y="274.3" fill="#fdb800"/><use href="#h13" x="173.0" y="274.3" fill="#fdb800"/><use href="#h13" x="177.0" y="274.3" fill="#fdb800"/><use href="#h13" x="118.8" y="277.7" fill="#fdc100"/><use href="#h13" x="122.8" y="277.7" fill="#fdc100"/><use href="#h13" x="126.8" y="277.7" fill="#fdc100"/><use href="#h13" x="130.8" y="277.7" fill="#fdc100"/><use href="#h13" x="134.9" y="277.7" fill="#fdc100"/><use href="#h13" x="138.9" y="277.7" fill="#fdc100"/><use href="#h13" x="142.9" y="277.7" fill="#fdc100"/><use href="#h13" x="146.9" y="277.7" fill="#fdc100"/><use href="#h13" x="150.9" y="277.7" fill="#fdc100"/><use href="#h13" x="154.9" y="277.7" fill="#fdc100"/><use href="#h13" x="158.9" y="277.7" fill="#fdc100"/><use href="#h13" x="162.9" y="277.7" fill="#fdc100"/><use href="#h13" x="167.0" y="277.7" fill="#fdc100"/><use href="#h13" x="171.0" y="277.7" fill="#fdc100"/><use href="#h13" x="175.0" y="277.7" fill="#fdc100"/><use href="#h13" x="120.8" y="281.1" fill="#fbd700"/><use href="#h13" x="124.8" y="281.1" fill="#fbd700"/><use href="#h13" x="128.8" y="281.1" fill="#fbd700"/><use href="#h13" x="132.9" y="281.1" fill="#fbd700"/><use href="#h13" x="136.9" y="281.1" fill="#fbd700"/><use href="#h13" x="140.9" y="281.1" fill="#fcca00"/><use href="#h13" x="144.9" y="281.1" fill="#fcca00"/><use href="#h13" x="148.9" y="281.1" fill="#fcca00"/><use href="#h13" x="152.9" y="281.1" fill="#fcca00"/><use href="#h13" x="156.9" y="281.1" fill="#fcca00"/><use href="#h13" x="160.9" y="281.1" fill="#fcca00"/><use href="#h13" x="165.0" y="281.1" fill="#fcca00"/><use href="#h13" x="169.0" y="281.1" fill="#fcca00"/><use href="#h13" x="173.0" y="281.1" fill="#fcca00"/><use href="#h13" x="177.0" y="281.1" fill="#fcca00"/><use href="#h13" x="118.8" y="284.5" fill="#e3f205"/><use href="#h13" x="122.8" y="284.5" fill="#f7f001"/><use href="#h13" x="126.8" y="284.5" fill="#f7f001"/><use href="#h13" x="130.8" y="284.5" fill="#f7f001"/><use href="#h13" x="134.9" y="284.5" fill="#f7f001"/><use href="#h13" x="138.9" y="284.5" fill="#f7f001"/><use href="#h13" x="142.9" y="284.5" fill="#fbdc00"/><use href="#h13" x="146.9" y="284.5" fill="#fbdc00"/><use href="#h13" x="150.9" y="284.5" fill="#fcca00"/><use href="#h13" x="154.9" y="284.5" fill="#fcca00"/><use href="#h13" x="158.9" y="284.5" fill="#fcca00"/><use href="#h13" x="162.9" y="284.5" fill="#fcca00"/><use href="#h13" x="167.0" y="284.5" fill="#fcca00"/><use href="#h13" x="171.0" y="284.5" fill="#fcca00"/><use href="#h13" x="175.0" y="284.5" fill="#fcca00"/><use href="#h13" x="120.8" y="287.9" fill="#84f715"/><use href="#h13" x="124.8" y="287.9" fill="#c4f40b"/><use href="#h13" x="128.8" y="287.9" fill="#c4f40b"/><use href="#h13" x="132.9" y="287.9" fill="#c4f40b"/><use href="#h13" x="136.9" y="287.9" fill="#f7f001"/><use href="#h13" x="140.9" y="287.9" fill="#f7f001"/><use href="#h13" x="144.9" y="287.9" fill="#f7f001"/><use href="#h13" x="148.9" y="287.9" fill="#f7f001"/><use href="#h13" x="152.9" y="287.9" fill="#fbdc00"/><use href="#h13" x="156.9" y="287.9" fill="#fbdc00"/><use href="#h13" x="160.9" y="287.9" fill="#fcce00"/><use href="#h13" x="165.0" y="287.9" fill="#fcce00"/><use href="#h13" x="169.0" y="287.9" fill="#fcce00"/><use href="#h13" x="173.0" y="287.9" fill="#fcce00"/><use href="#h13" x="177.0" y="287.9" fill="#fcce00"/><use href="#h13" x="118.8" y="291.4" fill="#0f9efc"/><use href="#h13" x="122.8" y="291.4" fill="#5ef416"/><use href="#h13" x="126.8" y="291.4" fill="#a6f711"/><use href="#h13" x="130.8" y="291.4" fill="#a6f711"/><use href="#h13" x="134.9" y="291.4" fill="#cff309"/><use href="#h13" x="138.9" y="291.4" fill="#cff309"/><use href="#h13" x="142.9" y="291.4" fill="#cff309"/><use href="#h13" x="146.9" y="291.4" fill="#faee00"/><use href="#h13" x="150.9" y="291.4" fill="#faee00"/><use href="#h13" x="154.9" y="291.4" fill="#faee00"/><use href="#h13" x="158.9" y="291.4" fill="#fcd300"/><use href="#h13" x="162.9" y="291.4" fill="#fcd300"/><use href="#h13" x="167.0" y="291.4" fill="#fcd300"/><use href="#h13" x="171.0" y="291.4" fill="#fcd300"/><use href="#h13" x="175.0" y="291.4" fill="#fcd300"/><use href="#h13" x="120.8" y="294.8" fill="#05e4ea"/><use href="#h13" x="124.8" y="294.8" fill="#5ef416"/><use href="#h13" x="128.8" y="294.8" fill="#9cf813"/><use href="#h13" x="132.9" y="294.8" fill="#9cf813"/><use href="#h13" x="136.9" y="294.8" fill="#c4f40b"/><use href="#h13" x="140.9" y="294.8" fill="#c4f40b"/><use href="#h13" x="144.9" y="294.8" fill="#c4f40b"/><use href="#h13" x="148.9" y="294.8" fill="#f7f001"/><use href="#h13" x="152.9" y="294.8" fill="#f7f001"/><use href="#h13" x="156.9" y="294.8" fill="#f7f001"/><use href="#h13" x="160.9" y="294.8" fill="#fcd300"/><use href="#h13" x="165.0" y="294.8" fill="#fcd300"/><use href="#h13" x="169.0" y="294.8" fill="#fcd300"/><use href="#h13" x="173.0" y="294.8" fill="#fcd300"/><use href="#h13" x="177.0" y="294.8" fill="#fcd300"/><use href="#h13" x="118.8" y="298.2" fill="#021cf2"/><use href="#h13" x="122.8" y="298.2" fill="#05e4ea"/><use href="#h13" x="126.8" y="298.2" fill="#45f217"/><use href="#h13" x="130.8" y="298.2" fill="#91f814"/><use href="#h13" x="134.9" y="298.2" fill="#91f814"/><use href="#h13" x="138.9" y="298.2" fill="#c4f40b"/><use href="#h13" x="142.9" y="298.2" fill="#c4f40b"/><use href="#h13" x="146.9" y="298.2" fill="#c4f40b"/><use href="#h13" x="150.9" y="298.2" fill="#f7f001"/><use href="#h13" x="154.9" y="298.2" fill="#f7f001"/><use href="#h13" x="158.9" y="298.2" fill="#f7f001"/><use href="#h13" x="162.9" y="298.2" fill="#fbd700"/><use href="#h13" x="167.0" y="298.2" fill="#fbd700"/><use href="#h13" x="171.0" y="298.2" fill="#fbd700"/><use href="#h13" x="175.0" y="298.2" fill="#fbd700"/><use href="#h13" x="120.8" y="301.6" fill="#0863ff"/><use href="#h13" x="124.8" y="301.6" fill="#2cf018"/><use href="#h13" x="128.8" y="301.6" fill="#84f715"/><use href="#h13" x="132.9" y="301.6" fill="#84f715"/><use href="#h13" x="136.9" y="301.6" fill="#baf50d"/><use href="#h13" x="140.9" y="301.6" fill="#baf50d"/><use href="#h13" x="144.9" y="301.6" fill="#baf50d"/><use href="#h13" x="148.9" y="301.6" fill="#f2f102"/><use href="#h13" x="152.9" y="301.6" fill="#f2f102"/><use href="#h13" x="156.9" y="301.6" fill="#f2f102"/><use href="#h13" x="160.9" y="301.6" fill="#f2f102"/><use href="#h13" x="165.0" y="301.6" fill="#fbd700"/><use href="#h13" x="169.0" y="301.6" fill="#fbd700"/><use href="#h13" x="173.0" y="301.6" fill="#fbd700"/><use href="#h13" x="177.0" y="301.6" fill="#fbd700"/></g>
<rect x="115.8" y="233.4" width="64.2" height="71.5" fill="url(#d13)"/>
<rect x="114.10" y="235.00" width="1.4" height="68.90" fill="url(#cbg)"/>
<rect x="114.10" y="235.00" width="1.4" height="68.90" fill="#707080" fill-opacity="0.18"/>
<text x="146.2" y="232.0" class="t" font-size="6.60" text-anchor="middle" textLength="42.2" lengthAdjust="spacingAndGlyphs">LowWaterLevel</text>
<text x="112.5" y="249.6" class="k" font-size="5.84" text-anchor="end" textLength="16.4" lengthAdjust="spacingAndGlyphs">10,000</text>
<text x="112.5" y="268.1" class="k" font-size="5.84" text-anchor="end" textLength="11.9" lengthAdjust="spacingAndGlyphs">9000</text>
<text x="112.5" y="286.8" class="k" font-size="5.84" text-anchor="end" textLength="11.9" lengthAdjust="spacingAndGlyphs">8000</text>
<text x="112.5" y="304.9" class="k" font-size="5.84" text-anchor="end" textLength="11.9" lengthAdjust="spacingAndGlyphs">7000</text>
<g stroke="#454550" stroke-opacity="0.33" stroke-width="0.6" stroke-linejoin="round"><use href="#h14" x="205.7" y="237.3" fill="#05e4ea"/><use href="#h14" x="210.0" y="237.3" fill="#05e4ea"/><use href="#h14" x="214.3" y="237.3" fill="#f7f001"/><use href="#h14" x="218.5" y="237.3" fill="#14f5b2"/><use href="#h14" x="222.8" y="237.3" fill="#14f5b2"/><use href="#h14" x="227.1" y="237.3" fill="#14f5b2"/><use href="#h14" x="231.3" y="237.3" fill="#14f5b2"/><use href="#h14" x="235.6" y="237.3" fill="#05e4ea"/><use href="#h14" x="239.8" y="237.3" fill="#0f9efc"/><use href="#h14" x="244.1" y="237.3" fill="#0863ff"/><use href="#h14" x="248.4" y="237.3" fill="#0430fc"/><use href="#h14" x="252.6" y="237.3" fill="#0863ff"/><use href="#h14" x="256.9" y="237.3" fill="#05e4ea"/><use href="#h14" x="261.2" y="237.3" fill="#f7f001"/><use href="#h14" x="265.4" y="237.3" fill="#ec120c"/><use href="#h14" x="207.9" y="240.9" fill="#05e4ea"/><use href="#h14" x="212.1" y="240.9" fill="#19ee20"/><use href="#h14" x="216.4" y="240.9" fill="#19ee20"/><use href="#h14" x="220.7" y="240.9" fill="#14f5b2"/><use href="#h14" x="224.9" y="240.9" fill="#19ee20"/><use href="#h14" x="229.2" y="240.9" fill="#91f814"/><use href="#h14" x="233.5" y="240.9" fill="#14f5b2"/><use href="#h14" x="237.7" y="240.9" fill="#05e4ea"/><use href="#h14" x="242.0" y="240.9" fill="#0863ff"/><use href="#h14" x="246.2" y="240.9" fill="#0430fc"/><use href="#h14" x="250.5" y="240.9" fill="#0430fc"/><use href="#h14" x="254.8" y="240.9" fill="#0863ff"/><use href="#h14" x="259.0" y="240.9" fill="#05e4ea"/><use href="#h14" x="263.3" y="240.9" fill="#f7f001"/><use href="#h14" x="267.6" y="240.9" fill="#ff9800"/><use href="#h14" x="205.7" y="244.5" fill="#0430fc"/><use href="#h14" x="210.0" y="244.5" fill="#0f9efc"/><use href="#h14" x="214.3" y="244.5" fill="#14f5b2"/><use href="#h14" x="218.5" y="244.5" fill="#14f5b2"/><use href="#h14" x="222.8" y="244.5" fill="#14f5b2"/><use href="#h14" x="227.1" y="244.5" fill="#f7f001"/><use href="#h14" x="231.3" y="244.5" fill="#14f5b2"/><use href="#h14" x="235.6" y="244.5" fill="#0f9efc"/><use href="#h14" x="239.8" y="244.5" fill="#0863ff"/><use href="#h14" x="244.1" y="244.5" fill="#0430fc"/><use href="#h14" x="248.4" y="244.5" fill="#0430fc"/><use href="#h14" x="252.6" y="244.5" fill="#0430fc"/><use href="#h14" x="256.9" y="244.5" fill="#0f9efc"/><use href="#h14" x="261.2" y="244.5" fill="#14f5b2"/><use href="#h14" x="265.4" y="244.5" fill="#19ee20"/><use href="#h14" x="207.9" y="248.2" fill="#085dff"/><use href="#h14" x="212.1" y="248.2" fill="#05e4ea"/><use href="#h14" x="216.4" y="248.2" fill="#05e4ea"/><use href="#h14" x="220.7" y="248.2" fill="#05e4ea"/><use href="#h14" x="224.9" y="248.2" fill="#05e4ea"/><use href="#h14" x="229.2" y="248.2" fill="#05e4ea"/><use href="#h14" x="233.5" y="248.2" fill="#0863ff"/><use href="#h14" x="237.7" y="248.2" fill="#0863ff"/><use href="#h14" x="242.0" y="248.2" fill="#0430fc"/><use href="#h14" x="246.2" y="248.2" fill="#0430fc"/><use href="#h14" x="250.5" y="248.2" fill="#0430fc"/><use href="#h14" x="254.8" y="248.2" fill="#0863ff"/><use href="#h14" x="259.0" y="248.2" fill="#05e4ea"/><use href="#h14" x="263.3" y="248.2" fill="#14f5b2"/><use href="#h14" x="267.6" y="248.2" fill="#19ee20"/><use href="#h14" x="205.7" y="251.8" fill="#085dff"/><use href="#h14" x="210.0" y="251.8" fill="#0863ff"/><use href="#h14" x="214.3" y="251.8" fill="#05e4ea"/><use href="#h14" x="218.5" y="251.8" fill="#05e4ea"/><use href="#h14" x="222.8" y="251.8" fill="#0f9efc"/><use href="#h14" x="227.1" y="251.8" fill="#0f9efc"/><use href="#h14" x="231.3" y="251.8" fill="#0863ff"/><use href="#h14" x="235.6" y="251.8" fill="#0430fc"/><use href="#h14" x="239.8" y="251.8" fill="#0430fc"/><use href="#h14" x="244.1" y="251.8" fill="#0430fc"/><use href="#h14" x="248.4" y="251.8" fill="#0430fc"/><use href="#h14" x="252.6" y="251.8" fill="#0430fc"/><use href="#h14" x="256.9" y="251.8" fill="#0863ff"/><use href="#h14" x="261.2" y="251.8" fill="#05e4ea"/><use href="#h14" x="265.4" y="251.8" fill="#19ee20"/><use href="#h14" x="207.9" y="255.4" fill="#085dff"/><use href="#h14" x="212.1" y="255.4" fill="#085dff"/><use href="#h14" x="216.4" y="255.4" fill="#0863ff"/><use href="#h14" x="220.7" y="255.4" fill="#0f9efc"/><use href="#h14" x="224.9" y="255.4" fill="#0863ff"/><use href="#h14" x="229.2" y="255.4" fill="#0863ff"/><use href="#h14" x="233.5" y="255.4" fill="#0430fc"/><use href="#h14" x="237.7" y="255.4" fill="#0430fc"/><use href="#h14" x="242.0" y="255.4" fill="#0430fc"/><use href="#h14" x="246.2" y="255.4" fill="#0430fc"/><use href="#h14" x="250.5" y="255.4" fill="#0430fc"/><use href="#h14" x="254.8" y="255.4" fill="#064dfe"/><use href="#h14" x="259.0" y="255.4" fill="#0863ff"/><use href="#h14" x="263.3" y="255.4" fill="#05e4ea"/><use href="#h14" x="267.6" y="255.4" fill="#0f9efc"/><use href="#h14" x="205.7" y="259.0" fill="#085dff"/><use href="#h14" x="210.0" y="259.0" fill="#085dff"/><use href="#h14" x="214.3" y="259.0" fill="#085dff"/><use href="#h14" x="218.5" y="259.0" fill="#085dff"/><use href="#h14" x="222.8" y="259.0" fill="#0863ff"/><use href="#h14" x="227.1" y="259.0" fill="#0863ff"/><use href="#h14" x="231.3" y="259.0" fill="#0863ff"/><use href="#h14" x="235.6" y="259.0" fill="#0430fc"/><use href="#h14" x="239.8" y="259.0" fill="#0325f8"/><use href="#h14" x="244.1" y="259.0" fill="#0325f8"/><use href="#h14" x="248.4" y="259.0" fill="#0430fc"/><use href="#h14" x="252.6" y="259.0" fill="#064dfe"/><use href="#h14" x="256.9" y="259.0" fill="#064dfe"/><use href="#h14" x="261.2" y="259.0" fill="#064dfe"/><use href="#h14" x="265.4" y="259.0" fill="#0863ff"/><use href="#h14" x="207.9" y="262.6" fill="#085dff"/><use href="#h14" x="212.1" y="262.6" fill="#085dff"/><use href="#h14" x="216.4" y="262.6" fill="#085dff"/><use href="#h14" x="220.7" y="262.6" fill="#085dff"/><use href="#h14" x="224.9" y="262.6" fill="#0863ff"/><use href="#h14" x="229.2" y="262.6" fill="#0863ff"/><use href="#h14" x="233.5" y="262.6" fill="#0430fc"/><use href="#h14" x="237.7" y="262.6" fill="#0430fc"/><use href="#h14" x="242.0" y="262.6" fill="#0325f8"/><use href="#h14" x="246.2" y="262.6" fill="#0430fc"/><use href="#h14" x="250.5" y="262.6" fill="#0430fc"/><use href="#h14" x="254.8" y="262.6" fill="#064dfe"/><use href="#h14" x="259.0" y="262.6" fill="#064dfe"/><use href="#h14" x="263.3" y="262.6" fill="#064dfe"/><use href="#h14" x="267.6" y="262.6" fill="#0863ff"/><use href="#h14" x="205.7" y="266.2" fill="#085dff"/><use href="#h14" x="210.0" y="266.2" fill="#085dff"/><use href="#h14" x="214.3" y="266.2" fill="#0863ff"/><use href="#h14" x="218.5" y="266.2" fill="#0f9efc"/><use href="#h14" x="222.8" y="266.2" fill="#0863ff"/><use href="#h14" x="227.1" y="266.2" fill="#085dff"/><use href="#h14" x="231.3" y="266.2" fill="#0863ff"/><use href="#h14" x="235.6" y="266.2" fill="#0430fc"/><use href="#h14" x="239.8" y="266.2" fill="#0430fc"/><use href="#h14" x="244.1" y="266.2" fill="#0430fc"/><use href="#h14" x="248.4" y="266.2" fill="#0430fc"/><use href="#h14" x="252.6" y="266.2" fill="#064dfe"/><use href="#h14" x="256.9" y="266.2" fill="#064dfe"/><use href="#h14" x="261.2" y="266.2" fill="#064dfe"/><use href="#h14" x="265.4" y="266.2" fill="#064dfe"/><use href="#h14" x="207.9" y="269.8" fill="#085dff"/><use href="#h14" x="212.1" y="269.8" fill="#085dff"/><use href="#h14" x="216.4" y="269.8" fill="#085dff"/><use href="#h14" x="220.7" y="269.8" fill="#0863ff"/><use href="#h14" x="224.9" y="269.8" fill="#0863ff"/><use href="#h14" x="229.2" y="269.8" fill="#05e4ea"/><use href="#h14" x="233.5" y="269.8" fill="#05e4ea"/><use href="#h14" x="237.7" y="269.8" fill="#05e4ea"/><use href="#h14" x="242.0" y="269.8" fill="#0863ff"/><use href="#h14" x="246.2" y="269.8" fill="#0430fc"/><use href="#h14" x="250.5" y="269.8" fill="#0430fc"/><use href="#h14" x="254.8" y="269.8" fill="#064dfe"/><use href="#h14" x="259.0" y="269.8" fill="#064dfe"/><use href="#h14" x="263.3" y="269.8" fill="#064dfe"/><use href="#h14" x="267.6" y="269.8" fill="#0863ff"/><use href="#h14" x="205.7" y="273.5" fill="#085dff"/><use href="#h14" x="210.0" y="273.5" fill="#0f9efc"/><use href="#h14" x="214.3" y="273.5" fill="#0863ff"/><use href="#h14" x="218.5" y="273.5" fill="#0863ff"/><use href="#h14" x="222.8" y="273.5" fill="#0863ff"/><use href="#h14" x="227.1" y="273.5" fill="#05e4ea"/><use href="#h14" x="231.3" y="273.5" fill="#19ee20"/><use href="#h14" x="235.6" y="273.5" fill="#05e4ea"/><use href="#h14" x="239.8" y="273.5" fill="#05e4ea"/><use href="#h14" x="244.1" y="273.5" fill="#0430fc"/><use href="#h14" x="248.4" y="273.5" fill="#0430fc"/><use href="#h14" x="252.6" y="273.5" fill="#064dfe"/><use href="#h14" x="256.9" y="273.5" fill="#064dfe"/><use href="#h14" x="261.2" y="273.5" fill="#064dfe"/><use href="#h14" x="265.4" y="273.5" fill="#0863ff"/><use href="#h14" x="207.9" y="277.1" fill="#085dff"/><use href="#h14" x="212.1" y="277.1" fill="#085dff"/><use href="#h14" x="216.4" y="277.1" fill="#085dff"/><use href="#h14" x="220.7" y="277.1" fill="#0863ff"/><use href="#h14" x="224.9" y="277.1" fill="#0863ff"/><use href="#h14" x="229.2" y="277.1" fill="#05e4ea"/><use href="#h14" x="233.5" y="277.1" fill="#05e4ea"/><use href="#h14" x="237.7" y="277.1" fill="#05e4ea"/><use href="#h14" x="242.0" y="277.1" fill="#0863ff"/><use href="#h14" x="246.2" y="277.1" fill="#0430fc"/><use href="#h14" x="250.5" y="277.1" fill="#0430fc"/><use href="#h14" x="254.8" y="277.1" fill="#064dfe"/><use href="#h14" x="259.0" y="277.1" fill="#064dfe"/><use href="#h14" x="263.3" y="277.1" fill="#064dfe"/><use href="#h14" x="267.6" y="277.1" fill="#0863ff"/><use href="#h14" x="205.7" y="280.7" fill="#0325f8"/><use href="#h14" x="210.0" y="280.7" fill="#0533fc"/><use href="#h14" x="214.3" y="280.7" fill="#0325f8"/><use href="#h14" x="218.5" y="280.7" fill="#0533fc"/><use href="#h14" x="222.8" y="280.7" fill="#0533fc"/><use href="#h14" x="227.1" y="280.7" fill="#0533fc"/><use href="#h14" x="231.3" y="280.7" fill="#0863ff"/><use href="#h14" x="235.6" y="280.7" fill="#0f9efc"/><use href="#h14" x="239.8" y="280.7" fill="#0533fc"/><use href="#h14" x="244.1" y="280.7" fill="#0533fc"/><use href="#h14" x="248.4" y="280.7" fill="#0325f8"/><use href="#h14" x="252.6" y="280.7" fill="#0533fc"/><use href="#h14" x="256.9" y="280.7" fill="#0533fc"/><use href="#h14" x="261.2" y="280.7" fill="#0533fc"/><use href="#h14" x="265.4" y="280.7" fill="#0533fc"/><use href="#h14" x="207.9" y="284.3" fill="#0325f8"/><use href="#h14" x="212.1" y="284.3" fill="#0325f8"/><use href="#h14" x="216.4" y="284.3" fill="#0325f8"/><use href="#h14" x="220.7" y="284.3" fill="#0533fc"/><use href="#h14" x="224.9" y="284.3" fill="#0533fc"/><use href="#h14" x="229.2" y="284.3" fill="#0533fc"/><use href="#h14" x="233.5" y="284.3" fill="#0533fc"/><use href="#h14" x="237.7" y="284.3" fill="#0533fc"/><use href="#h14" x="242.0" y="284.3" fill="#0325f8"/><use href="#h14" x="246.2" y="284.3" fill="#0325f8"/><use href="#h14" x="250.5" y="284.3" fill="#0325f8"/><use href="#h14" x="254.8" y="284.3" fill="#0325f8"/><use href="#h14" x="259.0" y="284.3" fill="#0325f8"/><use href="#h14" x="263.3" y="284.3" fill="#0533fc"/><use href="#h14" x="267.6" y="284.3" fill="#0533fc"/><use href="#h14" x="205.7" y="287.9" fill="#0533fc"/><use href="#h14" x="210.0" y="287.9" fill="#0533fc"/><use href="#h14" x="214.3" y="287.9" fill="#0533fc"/><use href="#h14" x="218.5" y="287.9" fill="#0863ff"/><use href="#h14" x="222.8" y="287.9" fill="#0863ff"/><use href="#h14" x="227.1" y="287.9" fill="#0533fc"/><use href="#h14" x="231.3" y="287.9" fill="#0533fc"/><use href="#h14" x="235.6" y="287.9" fill="#0325f8"/><use href="#h14" x="239.8" y="287.9" fill="#0325f8"/><use href="#h14" x="244.1" y="287.9" fill="#0325f8"/><use href="#h14" x="248.4" y="287.9" fill="#0325f8"/><use href="#h14" x="252.6" y="287.9" fill="#0325f8"/><use href="#h14" x="256.9" y="287.9" fill="#0325f8"/><use href="#h14" x="261.2" y="287.9" fill="#0325f8"/><use href="#h14" x="265.4" y="287.9" fill="#0533fc"/><use href="#h14" x="207.9" y="291.5" fill="#0533fc"/><use href="#h14" x="212.1" y="291.5" fill="#0533fc"/><use href="#h14" x="216.4" y="291.5" fill="#0533fc"/><use href="#h14" x="220.7" y="291.5" fill="#0533fc"/><use href="#h14" x="224.9" y="291.5" fill="#0533fc"/><use href="#h14" x="229.2" y="291.5" fill="#0863ff"/><use href="#h14" x="233.5" y="291.5" fill="#0533fc"/><use href="#h14" x="237.7" y="291.5" fill="#0325f8"/><use href="#h14" x="242.0" y="291.5" fill="#0325f8"/><use href="#h14" x="246.2" y="291.5" fill="#0325f8"/><use href="#h14" x="250.5" y="291.5" fill="#0325f8"/><use href="#h14" x="254.8" y="291.5" fill="#0325f8"/><use href="#h14" x="259.0" y="291.5" fill="#0533fc"/><use href="#h14" x="263.3" y="291.5" fill="#0533fc"/><use href="#h14" x="267.6" y="291.5" fill="#0533fc"/><use href="#h14" x="205.7" y="295.1" fill="#0325f8"/><use href="#h14" x="210.0" y="295.1" fill="#0533fc"/><use href="#h14" x="214.3" y="295.1" fill="#0533fc"/><use href="#h14" x="218.5" y="295.1" fill="#0533fc"/><use href="#h14" x="222.8" y="295.1" fill="#0533fc"/><use href="#h14" x="227.1" y="295.1" fill="#0533fc"/><use href="#h14" x="231.3" y="295.1" fill="#0f9efc"/><use href="#h14" x="235.6" y="295.1" fill="#0533fc"/><use href="#h14" x="239.8" y="295.1" fill="#0325f8"/><use href="#h14" x="244.1" y="295.1" fill="#0325f8"/><use href="#h14" x="248.4" y="295.1" fill="#0533fc"/><use href="#h14" x="252.6" y="295.1" fill="#0325f8"/><use href="#h14" x="256.9" y="295.1" fill="#0325f8"/><use href="#h14" x="261.2" y="295.1" fill="#0533fc"/><use href="#h14" x="265.4" y="295.1" fill="#0533fc"/><use href="#h14" x="207.9" y="298.8" fill="#0325f8"/><use href="#h14" x="212.1" y="298.8" fill="#0533fc"/><use href="#h14" x="216.4" y="298.8" fill="#0533fc"/><use href="#h14" x="220.7" y="298.8" fill="#0533fc"/><use href="#h14" x="224.9" y="298.8" fill="#0533fc"/><use href="#h14" x="229.2" y="298.8" fill="#0863ff"/><use href="#h14" x="233.5" y="298.8" fill="#0533fc"/><use href="#h14" x="237.7" y="298.8" fill="#0325f8"/><use href="#h14" x="242.0" y="298.8" fill="#0325f8"/><use href="#h14" x="246.2" y="298.8" fill="#0533fc"/><use href="#h14" x="250.5" y="298.8" fill="#0325f8"/><use href="#h14" x="254.8" y="298.8" fill="#0325f8"/><use href="#h14" x="259.0" y="298.8" fill="#0325f8"/><use href="#h14" x="263.3" y="298.8" fill="#0533fc"/><use href="#h14" x="267.6" y="298.8" fill="#0533fc"/><use href="#h14" x="205.7" y="302.4" fill="#0325f8"/><use href="#h14" x="210.0" y="302.4" fill="#0533fc"/><use href="#h14" x="214.3" y="302.4" fill="#0533fc"/><use href="#h14" x="218.5" y="302.4" fill="#0533fc"/><use href="#h14" x="222.8" y="302.4" fill="#0533fc"/><use href="#h14" x="227.1" y="302.4" fill="#0533fc"/><use href="#h14" x="231.3" y="302.4" fill="#0533fc"/><use href="#h14" x="235.6" y="302.4" fill="#0325f8"/><use href="#h14" x="239.8" y="302.4" fill="#0325f8"/><use href="#h14" x="244.1" y="302.4" fill="#0325f8"/><use href="#h14" x="248.4" y="302.4" fill="#0325f8"/><use href="#h14" x="252.6" y="302.4" fill="#0325f8"/><use href="#h14" x="256.9" y="302.4" fill="#0325f8"/><use href="#h14" x="261.2" y="302.4" fill="#0325f8"/><use href="#h14" x="265.4" y="302.4" fill="#0533fc"/><use href="#h14" x="207.9" y="306.0" fill="#0533fc"/><use href="#h14" x="212.1" y="306.0" fill="#0533fc"/><use href="#h14" x="216.4" y="306.0" fill="#0863ff"/><use href="#h14" x="220.7" y="306.0" fill="#0533fc"/><use href="#h14" x="224.9" y="306.0" fill="#0533fc"/><use href="#h14" x="229.2" y="306.0" fill="#0533fc"/><use href="#h14" x="233.5" y="306.0" fill="#0533fc"/><use href="#h14" x="237.7" y="306.0" fill="#0325f8"/><use href="#h14" x="242.0" y="306.0" fill="#0325f8"/><use href="#h14" x="246.2" y="306.0" fill="#0325f8"/><use href="#h14" x="250.5" y="306.0" fill="#0325f8"/><use href="#h14" x="254.8" y="306.0" fill="#0325f8"/><use href="#h14" x="259.0" y="306.0" fill="#0325f8"/><use href="#h14" x="263.3" y="306.0" fill="#0325f8"/><use href="#h14" x="267.6" y="306.0" fill="#0533fc"/></g>
<rect x="202.6" y="233.9" width="68.1" height="75.5" fill="url(#d14)"/>
<rect x="200.55" y="235.50" width="1.4" height="72.90" fill="url(#cbg)"/>
<rect x="200.55" y="235.50" width="1.4" height="72.90" fill="#707080" fill-opacity="0.18"/>
<text x="233.7" y="233.1" class="t" font-size="6.27" text-anchor="middle" textLength="18.0" lengthAdjust="spacingAndGlyphs">Inflow</text>
<text x="199.4" y="244.7" class="k" font-size="6.21" text-anchor="end" textLength="9.5" lengthAdjust="spacingAndGlyphs">100</text>
<text x="199.4" y="257.5" class="k" font-size="6.21" text-anchor="end" textLength="6.3" lengthAdjust="spacingAndGlyphs">80</text>
<text x="199.4" y="271.2" class="k" font-size="6.21" text-anchor="end" textLength="6.3" lengthAdjust="spacingAndGlyphs">60</text>
<text x="199.4" y="284.7" class="k" font-size="6.21" text-anchor="end" textLength="6.3" lengthAdjust="spacingAndGlyphs">40</text>
<text x="199.4" y="298.2" class="k" font-size="6.21" text-anchor="end" textLength="6.3" lengthAdjust="spacingAndGlyphs">20</text>
<g stroke="#454550" stroke-opacity="0.33" stroke-width="0.6" stroke-linejoin="round"><use href="#h15" x="296.5" y="237.5" fill="#0647fe"/><use href="#h15" x="300.8" y="237.5" fill="#0647fe"/><use href="#h15" x="305.1" y="237.5" fill="#0647fe"/><use href="#h15" x="309.4" y="237.5" fill="#0863ff"/><use href="#h15" x="313.7" y="237.5" fill="#0f9efc"/><use href="#h15" x="318.0" y="237.5" fill="#19ee20"/><use href="#h15" x="322.2" y="237.5" fill="#19ee20"/><use href="#h15" x="326.5" y="237.5" fill="#05e4ea"/><use href="#h15" x="330.8" y="237.5" fill="#0647fe"/><use href="#h15" x="335.1" y="237.5" fill="#0647fe"/><use href="#h15" x="339.4" y="237.5" fill="#0647fe"/><use href="#h15" x="343.7" y="237.5" fill="#0647fe"/><use href="#h15" x="347.9" y="237.5" fill="#0647fe"/><use href="#h15" x="352.2" y="237.5" fill="#0647fe"/><use href="#h15" x="356.5" y="237.5" fill="#0647fe"/><use href="#h15" x="298.7" y="241.1" fill="#0647fe"/><use href="#h15" x="303.0" y="241.1" fill="#05e4ea"/><use href="#h15" x="307.3" y="241.1" fill="#0f9efc"/><use href="#h15" x="311.5" y="241.1" fill="#05e4ea"/><use href="#h15" x="315.8" y="241.1" fill="#19ee20"/><use href="#h15" x="320.1" y="241.1" fill="#f7f001"/><use href="#h15" x="324.4" y="241.1" fill="#05e4ea"/><use href="#h15" x="328.7" y="241.1" fill="#0863ff"/><use href="#h15" x="333.0" y="241.1" fill="#0647fe"/><use href="#h15" x="337.2" y="241.1" fill="#0647fe"/><use href="#h15" x="341.5" y="241.1" fill="#0647fe"/><use href="#h15" x="345.8" y="241.1" fill="#0647fe"/><use href="#h15" x="350.1" y="241.1" fill="#0647fe"/><use href="#h15" x="354.4" y="241.1" fill="#0647fe"/><use href="#h15" x="358.7" y="241.1" fill="#0647fe"/><use href="#h15" x="296.5" y="244.8" fill="#0647fe"/><use href="#h15" x="300.8" y="244.8" fill="#05e4ea"/><use href="#h15" x="305.1" y="244.8" fill="#19ee20"/><use href="#h15" x="309.4" y="244.8" fill="#05e4ea"/><use href="#h15" x="313.7" y="244.8" fill="#19ee20"/><use href="#h15" x="318.0" y="244.8" fill="#ec120c"/><use href="#h15" x="322.2" y="244.8" fill="#19ee20"/><use href="#h15" x="326.5" y="244.8" fill="#05e4ea"/><use href="#h15" x="330.8" y="244.8" fill="#0647fe"/><use href="#h15" x="335.1" y="244.8" fill="#0647fe"/><use href="#h15" x="339.4" y="244.8" fill="#0647fe"/><use href="#h15" x="343.7" y="244.8" fill="#0647fe"/><use href="#h15" x="347.9" y="244.8" fill="#0647fe"/><use href="#h15" x="352.2" y="244.8" fill="#0647fe"/><use href="#h15" x="356.5" y="244.8" fill="#0647fe"/><use href="#h15" x="298.7" y="248.4" fill="#0863ff"/><use href="#h15" x="303.0" y="248.4" fill="#05e4ea"/><use href="#h15" x="307.3" y="248.4" fill="#14f5b2"/><use href="#h15" x="311.5" y="248.4" fill="#14f5b2"/><use href="#h15" x="315.8" y="248.4" fill="#19ee20"/><use href="#h15" x="320.1" y="248.4" fill="#19ee20"/><use href="#h15" x="324.4" y="248.4" fill="#05e4ea"/><use href="#h15" x="328.7" y="248.4" fill="#0647fe"/><use href="#h15" x="333.0" y="248.4" fill="#0647fe"/><use href="#h15" x="337.2" y="248.4" fill="#0647fe"/><use href="#h15" x="341.5" y="248.4" fill="#0647fe"/><use href="#h15" x="345.8" y="248.4" fill="#0647fe"/><use href="#h15" x="350.1" y="248.4" fill="#0647fe"/><use href="#h15" x="354.4" y="248.4" fill="#0647fe"/><use href="#h15" x="358.7" y="248.4" fill="#0647fe"/><use href="#h15" x="296.5" y="252.0" fill="#0647fe"/><use href="#h15" x="300.8" y="252.0" fill="#0863ff"/><use href="#h15" x="305.1" y="252.0" fill="#05e4ea"/><use href="#h15" x="309.4" y="252.0" fill="#19ee20"/><use href="#h15" x="313.7" y="252.0" fill="#05e4ea"/><use href="#h15" x="318.0" y="252.0" fill="#05e4ea"/><use href="#h15" x="322.2" y="252.0" fill="#0863ff"/><use href="#h15" x="326.5" y="252.0" fill="#0647fe"/><use href="#h15" x="330.8" y="252.0" fill="#0647fe"/><use href="#h15" x="335.1" y="252.0" fill="#0647fe"/><use href="#h15" x="339.4" y="252.0" fill="#0647fe"/><use href="#h15" x="343.7" y="252.0" fill="#0647fe"/><use href="#h15" x="347.9" y="252.0" fill="#0647fe"/><use href="#h15" x="352.2" y="252.0" fill="#0647fe"/><use href="#h15" x="356.5" y="252.0" fill="#0647fe"/><use href="#h15" x="298.7" y="255.6" fill="#0647fe"/><use href="#h15" x="303.0" y="255.6" fill="#0863ff"/><use href="#h15" x="307.3" y="255.6" fill="#05e4ea"/><use href="#h15" x="311.5" y="255.6" fill="#05e4ea"/><use href="#h15" x="315.8" y="255.6" fill="#0863ff"/><use href="#h15" x="320.1" y="255.6" fill="#0647fe"/><use href="#h15" x="324.4" y="255.6" fill="#0647fe"/><use href="#h15" x="328.7" y="255.6" fill="#0647fe"/><use href="#h15" x="333.0" y="255.6" fill="#0647fe"/><use href="#h15" x="337.2" y="255.6" fill="#0647fe"/><use href="#h15" x="341.5" y="255.6" fill="#0647fe"/><use href="#h15" x="345.8" y="255.6" fill="#0647fe"/><use href="#h15" x="350.1" y="255.6" fill="#0647fe"/><use href="#h15" x="354.4" y="255.6" fill="#0647fe"/><use href="#h15" x="358.7" y="255.6" fill="#0647fe"/><use href="#h15" x="296.5" y="259.2" fill="#0647fe"/><use href="#h15" x="300.8" y="259.2" fill="#0647fe"/><use href="#h15" x="305.1" y="259.2" fill="#0863ff"/><use href="#h15" x="309.4" y="259.2" fill="#0863ff"/><use href="#h15" x="313.7" y="259.2" fill="#0647fe"/><use href="#h15" x="318.0" y="259.2" fill="#0647fe"/><use href="#h15" x="322.2" y="259.2" fill="#0647fe"/><use href="#h15" x="326.5" y="259.2" fill="#0647fe"/><use href="#h15" x="330.8" y="259.2" fill="#0647fe"/><use href="#h15" x="335.1" y="259.2" fill="#0647fe"/><use href="#h15" x="339.4" y="259.2" fill="#0647fe"/><use href="#h15" x="343.7" y="259.2" fill="#0647fe"/><use href="#h15" x="347.9" y="259.2" fill="#0647fe"/><use href="#h15" x="352.2" y="259.2" fill="#0647fe"/><use href="#h15" x="356.5" y="259.2" fill="#0647fe"/><use href="#h15" x="298.7" y="262.9" fill="#0647fe"/><use href="#h15" x="303.0" y="262.9" fill="#0647fe"/><use href="#h15" x="307.3" y="262.9" fill="#0647fe"/><use href="#h15" x="311.5" y="262.9" fill="#0647fe"/><use href="#h15" x="315.8" y="262.9" fill="#0647fe"/><use href="#h15" x="320.1" y="262.9" fill="#0647fe"/><use href="#h15" x="324.4" y="262.9" fill="#0647fe"/><use href="#h15" x="328.7" y="262.9" fill="#0647fe"/><use href="#h15" x="333.0" y="262.9" fill="#0647fe"/><use href="#h15" x="337.2" y="262.9" fill="#0647fe"/><use href="#h15" x="341.5" y="262.9" fill="#0647fe"/><use href="#h15" x="345.8" y="262.9" fill="#0647fe"/><use href="#h15" x="350.1" y="262.9" fill="#0647fe"/><use href="#h15" x="354.4" y="262.9" fill="#0647fe"/><use href="#h15" x="358.7" y="262.9" fill="#0647fe"/><use href="#h15" x="296.5" y="266.5" fill="#0647fe"/><use href="#h15" x="300.8" y="266.5" fill="#0647fe"/><use href="#h15" x="305.1" y="266.5" fill="#0647fe"/><use href="#h15" x="309.4" y="266.5" fill="#0647fe"/><use href="#h15" x="313.7" y="266.5" fill="#0647fe"/><use href="#h15" x="318.0" y="266.5" fill="#0647fe"/><use href="#h15" x="322.2" y="266.5" fill="#0647fe"/><use href="#h15" x="326.5" y="266.5" fill="#0647fe"/><use href="#h15" x="330.8" y="266.5" fill="#0647fe"/><use href="#h15" x="335.1" y="266.5" fill="#0647fe"/><use href="#h15" x="339.4" y="266.5" fill="#0647fe"/><use href="#h15" x="343.7" y="266.5" fill="#0647fe"/><use href="#h15" x="347.9" y="266.5" fill="#0647fe"/><use href="#h15" x="352.2" y="266.5" fill="#0647fe"/><use href="#h15" x="356.5" y="266.5" fill="#0647fe"/><use href="#h15" x="298.7" y="270.1" fill="#0647fe"/><use href="#h15" x="303.0" y="270.1" fill="#0647fe"/><use href="#h15" x="307.3" y="270.1" fill="#0647fe"/><use href="#h15" x="311.5" y="270.1" fill="#0647fe"/><use href="#h15" x="315.8" y="270.1" fill="#0647fe"/><use href="#h15" x="320.1" y="270.1" fill="#0647fe"/><use href="#h15" x="324.4" y="270.1" fill="#0647fe"/><use href="#h15" x="328.7" y="270.1" fill="#0647fe"/><use href="#h15" x="333.0" y="270.1" fill="#0647fe"/><use href="#h15" x="337.2" y="270.1" fill="#0647fe"/><use href="#h15" x="341.5" y="270.1" fill="#0647fe"/><use href="#h15" x="345.8" y="270.1" fill="#0647fe"/><use href="#h15" x="350.1" y="270.1" fill="#0647fe"/><use href="#h15" x="354.4" y="270.1" fill="#0647fe"/><use href="#h15" x="358.7" y="270.1" fill="#0647fe"/><use href="#h15" x="296.5" y="273.7" fill="#0647fe"/><use href="#h15" x="300.8" y="273.7" fill="#0647fe"/><use href="#h15" x="305.1" y="273.7" fill="#0647fe"/><use href="#h15" x="309.4" y="273.7" fill="#0647fe"/><use href="#h15" x="313.7" y="273.7" fill="#0647fe"/><use href="#h15" x="318.0" y="273.7" fill="#0647fe"/><use href="#h15" x="322.2" y="273.7" fill="#0647fe"/><use href="#h15" x="326.5" y="273.7" fill="#0647fe"/><use href="#h15" x="330.8" y="273.7" fill="#0647fe"/><use href="#h15" x="335.1" y="273.7" fill="#0647fe"/><use href="#h15" x="339.4" y="273.7" fill="#0647fe"/><use href="#h15" x="343.7" y="273.7" fill="#0647fe"/><use href="#h15" x="347.9" y="273.7" fill="#0647fe"/><use href="#h15" x="352.2" y="273.7" fill="#0647fe"/><use href="#h15" x="356.5" y="273.7" fill="#0647fe"/><use href="#h15" x="298.7" y="277.4" fill="#0647fe"/><use href="#h15" x="303.0" y="277.4" fill="#0647fe"/><use href="#h15" x="307.3" y="277.4" fill="#0647fe"/><use href="#h15" x="311.5" y="277.4" fill="#0647fe"/><use href="#h15" x="315.8" y="277.4" fill="#0647fe"/><use href="#h15" x="320.1" y="277.4" fill="#0647fe"/><use href="#h15" x="324.4" y="277.4" fill="#0647fe"/><use href="#h15" x="328.7" y="277.4" fill="#0647fe"/><use href="#h15" x="333.0" y="277.4" fill="#0647fe"/><use href="#h15" x="337.2" y="277.4" fill="#0647fe"/><use href="#h15" x="341.5" y="277.4" fill="#0647fe"/><use href="#h15" x="345.8" y="277.4" fill="#0647fe"/><use href="#h15" x="350.1" y="277.4" fill="#0647fe"/><use href="#h15" x="354.4" y="277.4" fill="#0647fe"/><use href="#h15" x="358.7" y="277.4" fill="#0647fe"/><use href="#h15" x="296.5" y="281.0" fill="#0647fe"/><use href="#h15" x="300.8" y="281.0" fill="#0647fe"/><use href="#h15" x="305.1" y="281.0" fill="#0647fe"/><use href="#h15" x="309.4" y="281.0" fill="#0647fe"/><use href="#h15" x="313.7" y="281.0" fill="#0647fe"/><use href="#h15" x="318.0" y="281.0" fill="#0647fe"/><use href="#h15" x="322.2" y="281.0" fill="#0647fe"/><use href="#h15" x="326.5" y="281.0" fill="#0647fe"/><use href="#h15" x="330.8" y="281.0" fill="#0647fe"/><use href="#h15" x="335.1" y="281.0" fill="#0647fe"/><use href="#h15" x="339.4" y="281.0" fill="#0647fe"/><use href="#h15" x="343.7" y="281.0" fill="#0647fe"/><use href="#h15" x="347.9" y="281.0" fill="#0647fe"/><use href="#h15" x="352.2" y="281.0" fill="#0647fe"/><use href="#h15" x="356.5" y="281.0" fill="#0647fe"/><use href="#h15" x="298.7" y="284.6" fill="#0647fe"/><use href="#h15" x="303.0" y="284.6" fill="#0647fe"/><use href="#h15" x="307.3" y="284.6" fill="#0647fe"/><use href="#h15" x="311.5" y="284.6" fill="#0647fe"/><use href="#h15" x="315.8" y="284.6" fill="#0647fe"/><use href="#h15" x="320.1" y="284.6" fill="#0647fe"/><use href="#h15" x="324.4" y="284.6" fill="#0647fe"/><use href="#h15" x="328.7" y="284.6" fill="#0647fe"/><use href="#h15" x="333.0" y="284.6" fill="#0647fe"/><use href="#h15" x="337.2" y="284.6" fill="#0647fe"/><use href="#h15" x="341.5" y="284.6" fill="#0647fe"/><use href="#h15" x="345.8" y="284.6" fill="#0647fe"/><use href="#h15" x="350.1" y="284.6" fill="#0647fe"/><use href="#h15" x="354.4" y="284.6" fill="#0647fe"/><use href="#h15" x="358.7" y="284.6" fill="#0647fe"/><use href="#h15" x="296.5" y="288.2" fill="#0647fe"/><use href="#h15" x="300.8" y="288.2" fill="#0647fe"/><use href="#h15" x="305.1" y="288.2" fill="#0647fe"/><use href="#h15" x="309.4" y="288.2" fill="#0647fe"/><use href="#h15" x="313.7" y="288.2" fill="#0647fe"/><use href="#h15" x="318.0" y="288.2" fill="#0647fe"/><use href="#h15" x="322.2" y="288.2" fill="#0647fe"/><use href="#h15" x="326.5" y="288.2" fill="#0647fe"/><use href="#h15" x="330.8" y="288.2" fill="#0647fe"/><use href="#h15" x="335.1" y="288.2" fill="#0647fe"/><use href="#h15" x="339.4" y="288.2" fill="#0647fe"/><use href="#h15" x="343.7" y="288.2" fill="#0647fe"/><use href="#h15" x="347.9" y="288.2" fill="#0647fe"/><use href="#h15" x="352.2" y="288.2" fill="#0647fe"/><use href="#h15" x="356.5" y="288.2" fill="#0647fe"/><use href="#h15" x="298.7" y="291.8" fill="#0647fe"/><use href="#h15" x="303.0" y="291.8" fill="#0647fe"/><use href="#h15" x="307.3" y="291.8" fill="#0647fe"/><use href="#h15" x="311.5" y="291.8" fill="#0647fe"/><use href="#h15" x="315.8" y="291.8" fill="#0647fe"/><use href="#h15" x="320.1" y="291.8" fill="#0647fe"/><use href="#h15" x="324.4" y="291.8" fill="#0647fe"/><use href="#h15" x="328.7" y="291.8" fill="#0647fe"/><use href="#h15" x="333.0" y="291.8" fill="#0647fe"/><use href="#h15" x="337.2" y="291.8" fill="#0647fe"/><use href="#h15" x="341.5" y="291.8" fill="#0647fe"/><use href="#h15" x="345.8" y="291.8" fill="#0647fe"/><use href="#h15" x="350.1" y="291.8" fill="#0647fe"/><use href="#h15" x="354.4" y="291.8" fill="#0647fe"/><use href="#h15" x="358.7" y="291.8" fill="#0647fe"/><use href="#h15" x="296.5" y="295.5" fill="#0429fb"/><use href="#h15" x="300.8" y="295.5" fill="#0429fb"/><use href="#h15" x="305.1" y="295.5" fill="#0429fb"/><use href="#h15" x="309.4" y="295.5" fill="#0429fb"/><use href="#h15" x="313.7" y="295.5" fill="#0647fe"/><use href="#h15" x="318.0" y="295.5" fill="#0647fe"/><use href="#h15" x="322.2" y="295.5" fill="#0647fe"/><use href="#h15" x="326.5" y="295.5" fill="#0647fe"/><use href="#h15" x="330.8" y="295.5" fill="#0647fe"/><use href="#h15" x="335.1" y="295.5" fill="#0647fe"/><use href="#h15" x="339.4" y="295.5" fill="#0647fe"/><use href="#h15" x="343.7" y="295.5" fill="#0647fe"/><use href="#h15" x="347.9" y="295.5" fill="#0647fe"/><use href="#h15" x="352.2" y="295.5" fill="#0647fe"/><use href="#h15" x="356.5" y="295.5" fill="#0647fe"/><use href="#h15" x="298.7" y="299.1" fill="#0429fb"/><use href="#h15" x="303.0" y="299.1" fill="#0429fb"/><use href="#h15" x="307.3" y="299.1" fill="#0429fb"/><use href="#h15" x="311.5" y="299.1" fill="#0429fb"/><use href="#h15" x="315.8" y="299.1" fill="#0429fb"/><use href="#h15" x="320.1" y="299.1" fill="#0429fb"/><use href="#h15" x="324.4" y="299.1" fill="#0647fe"/><use href="#h15" x="328.7" y="299.1" fill="#0647fe"/><use href="#h15" x="333.0" y="299.1" fill="#0647fe"/><use href="#h15" x="337.2" y="299.1" fill="#0647fe"/><use href="#h15" x="341.5" y="299.1" fill="#0647fe"/><use href="#h15" x="345.8" y="299.1" fill="#0429fb"/><use href="#h15" x="350.1" y="299.1" fill="#0647fe"/><use href="#h15" x="354.4" y="299.1" fill="#0647fe"/><use href="#h15" x="358.7" y="299.1" fill="#0647fe"/><use href="#h15" x="296.5" y="302.7" fill="#0429fb"/><use href="#h15" x="300.8" y="302.7" fill="#0429fb"/><use href="#h15" x="305.1" y="302.7" fill="#0429fb"/><use href="#h15" x="309.4" y="302.7" fill="#0429fb"/><use href="#h15" x="313.7" y="302.7" fill="#0429fb"/><use href="#h15" x="318.0" y="302.7" fill="#0429fb"/><use href="#h15" x="322.2" y="302.7" fill="#0429fb"/><use href="#h15" x="326.5" y="302.7" fill="#0647fe"/><use href="#h15" x="330.8" y="302.7" fill="#0647fe"/><use href="#h15" x="335.1" y="302.7" fill="#0647fe"/><use href="#h15" x="339.4" y="302.7" fill="#0647fe"/><use href="#h15" x="343.7" y="302.7" fill="#0429fb"/><use href="#h15" x="347.9" y="302.7" fill="#0429fb"/><use href="#h15" x="352.2" y="302.7" fill="#0647fe"/><use href="#h15" x="356.5" y="302.7" fill="#0647fe"/><use href="#h15" x="298.7" y="306.3" fill="#0429fb"/><use href="#h15" x="303.0" y="306.3" fill="#0429fb"/><use href="#h15" x="307.3" y="306.3" fill="#0429fb"/><use href="#h15" x="311.5" y="306.3" fill="#0429fb"/><use href="#h15" x="315.8" y="306.3" fill="#0429fb"/><use href="#h15" x="320.1" y="306.3" fill="#0429fb"/><use href="#h15" x="324.4" y="306.3" fill="#0647fe"/><use href="#h15" x="328.7" y="306.3" fill="#0647fe"/><use href="#h15" x="333.0" y="306.3" fill="#0647fe"/><use href="#h15" x="337.2" y="306.3" fill="#0647fe"/><use href="#h15" x="341.5" y="306.3" fill="#0647fe"/><use href="#h15" x="345.8" y="306.3" fill="#0429fb"/><use href="#h15" x="350.1" y="306.3" fill="#0647fe"/><use href="#h15" x="354.4" y="306.3" fill="#0647fe"/><use href="#h15" x="358.7" y="306.3" fill="#0647fe"/></g>
<rect x="293.4" y="234.1" width="68.4" height="75.7" fill="url(#d15)"/>
<rect x="290.55" y="235.70" width="1.4" height="73.05" fill="url(#cbg)"/>
<rect x="290.55" y="235.70" width="1.4" height="73.05" fill="#707080" fill-opacity="0.18"/>
<text x="327.0" y="232.0" class="t" font-size="6.28" text-anchor="middle" textLength="28.4" lengthAdjust="spacingAndGlyphs">Discharge</text>
<text x="289.4" y="262.8" class="k" font-size="6.23" text-anchor="end" textLength="9.6" lengthAdjust="spacingAndGlyphs">100</text>
<text x="289.4" y="287.8" class="k" font-size="6.23" text-anchor="end" textLength="6.4" lengthAdjust="spacingAndGlyphs">50</text>
<g stroke="#454550" stroke-opacity="0.33" stroke-width="0.6" stroke-linejoin="round"><use href="#h16" x="393.0" y="236.7" fill="#ec120c"/><use href="#h16" x="397.0" y="236.7" fill="#ec120c"/><use href="#h16" x="401.0" y="236.7" fill="#f93107"/><use href="#h16" x="405.0" y="236.7" fill="#ff3f05"/><use href="#h16" x="408.9" y="236.7" fill="#ff6b02"/><use href="#h16" x="412.9" y="236.7" fill="#ff9800"/><use href="#h16" x="416.9" y="236.7" fill="#fcc500"/><use href="#h16" x="420.9" y="236.7" fill="#fbe100"/><use href="#h16" x="424.9" y="236.7" fill="#f7f001"/><use href="#h16" x="428.9" y="236.7" fill="#cff309"/><use href="#h16" x="432.9" y="236.7" fill="#b0f60f"/><use href="#h16" x="436.9" y="236.7" fill="#a6f711"/><use href="#h16" x="440.8" y="236.7" fill="#91f814"/><use href="#h16" x="444.8" y="236.7" fill="#91f814"/><use href="#h16" x="448.8" y="236.7" fill="#78f615"/><use href="#h16" x="395.0" y="240.1" fill="#ec120c"/><use href="#h16" x="399.0" y="240.1" fill="#f42409"/><use href="#h16" x="403.0" y="240.1" fill="#fb3606"/><use href="#h16" x="406.9" y="240.1" fill="#ff3f05"/><use href="#h16" x="410.9" y="240.1" fill="#ff6b02"/><use href="#h16" x="414.9" y="240.1" fill="#ff9800"/><use href="#h16" x="418.9" y="240.1" fill="#fdbc00"/><use href="#h16" x="422.9" y="240.1" fill="#fbd700"/><use href="#h16" x="426.9" y="240.1" fill="#f7f001"/><use href="#h16" x="430.9" y="240.1" fill="#d9f307"/><use href="#h16" x="434.9" y="240.1" fill="#baf50d"/><use href="#h16" x="438.8" y="240.1" fill="#a6f711"/><use href="#h16" x="442.8" y="240.1" fill="#91f814"/><use href="#h16" x="446.8" y="240.1" fill="#84f715"/><use href="#h16" x="450.8" y="240.1" fill="#78f615"/><use href="#h16" x="393.0" y="243.4" fill="#f93107"/><use href="#h16" x="397.0" y="243.4" fill="#ff3f05"/><use href="#h16" x="401.0" y="243.4" fill="#ff3f05"/><use href="#h16" x="405.0" y="243.4" fill="#ff6203"/><use href="#h16" x="408.9" y="243.4" fill="#ff7d01"/><use href="#h16" x="412.9" y="243.4" fill="#ff9800"/><use href="#h16" x="416.9" y="243.4" fill="#fdbc00"/><use href="#h16" x="420.9" y="243.4" fill="#fbe100"/><use href="#h16" x="424.9" y="243.4" fill="#f7f001"/><use href="#h16" x="428.9" y="243.4" fill="#cff309"/><use href="#h16" x="432.9" y="243.4" fill="#b0f60f"/><use href="#h16" x="436.9" y="243.4" fill="#9cf813"/><use href="#h16" x="440.8" y="243.4" fill="#91f814"/><use href="#h16" x="444.8" y="243.4" fill="#78f615"/><use href="#h16" x="448.8" y="243.4" fill="#6bf516"/><use href="#h16" x="395.0" y="246.8" fill="#ff6203"/><use href="#h16" x="399.0" y="246.8" fill="#ff6b02"/><use href="#h16" x="403.0" y="246.8" fill="#ff7402"/><use href="#h16" x="406.9" y="246.8" fill="#ff8601"/><use href="#h16" x="410.9" y="246.8" fill="#ff9800"/><use href="#h16" x="414.9" y="246.8" fill="#fdb300"/><use href="#h16" x="418.9" y="246.8" fill="#fcce00"/><use href="#h16" x="422.9" y="246.8" fill="#faea00"/><use href="#h16" x="426.9" y="246.8" fill="#edf103"/><use href="#h16" x="430.9" y="246.8" fill="#c4f40b"/><use href="#h16" x="434.9" y="246.8" fill="#a6f711"/><use href="#h16" x="438.8" y="246.8" fill="#91f814"/><use href="#h16" x="442.8" y="246.8" fill="#84f715"/><use href="#h16" x="446.8" y="246.8" fill="#6bf516"/><use href="#h16" x="450.8" y="246.8" fill="#5ef416"/><use href="#h16" x="393.0" y="250.2" fill="#ff8601"/><use href="#h16" x="397.0" y="250.2" fill="#ff8601"/><use href="#h16" x="401.0" y="250.2" fill="#ff8f00"/><use href="#h16" x="405.0" y="250.2" fill="#ff9800"/><use href="#h16" x="408.9" y="250.2" fill="#feaa00"/><use href="#h16" x="412.9" y="250.2" fill="#fcc500"/><use href="#h16" x="416.9" y="250.2" fill="#fbe100"/><use href="#h16" x="420.9" y="250.2" fill="#f7f001"/><use href="#h16" x="424.9" y="250.2" fill="#d9f307"/><use href="#h16" x="428.9" y="250.2" fill="#baf50d"/><use href="#h16" x="432.9" y="250.2" fill="#9cf813"/><use href="#h16" x="436.9" y="250.2" fill="#84f715"/><use href="#h16" x="440.8" y="250.2" fill="#78f615"/><use href="#h16" x="444.8" y="250.2" fill="#5ef416"/><use href="#h16" x="448.8" y="250.2" fill="#52f317"/><use href="#h16" x="395.0" y="253.6" fill="#ff9800"/><use href="#h16" x="399.0" y="253.6" fill="#ff9800"/><use href="#h16" x="403.0" y="253.6" fill="#fea100"/><use href="#h16" x="406.9" y="253.6" fill="#feaa00"/><use href="#h16" x="410.9" y="253.6" fill="#fdbc00"/><use href="#h16" x="414.9" y="253.6" fill="#fbd700"/><use href="#h16" x="418.9" y="253.6" fill="#f7f001"/><use href="#h16" x="422.9" y="253.6" fill="#e3f205"/><use href="#h16" x="426.9" y="253.6" fill="#c4f40b"/><use href="#h16" x="430.9" y="253.6" fill="#a6f711"/><use href="#h16" x="434.9" y="253.6" fill="#91f814"/><use href="#h16" x="438.8" y="253.6" fill="#78f615"/><use href="#h16" x="442.8" y="253.6" fill="#6bf516"/><use href="#h16" x="446.8" y="253.6" fill="#52f317"/><use href="#h16" x="450.8" y="253.6" fill="#45f217"/><use href="#h16" x="393.0" y="257.0" fill="#feaa00"/><use href="#h16" x="397.0" y="257.0" fill="#feaa00"/><use href="#h16" x="401.0" y="257.0" fill="#fdb300"/><use href="#h16" x="405.0" y="257.0" fill="#fcc500"/><use href="#h16" x="408.9" y="257.0" fill="#fbd700"/><use href="#h16" x="412.9" y="257.0" fill="#faea00"/><use href="#h16" x="416.9" y="257.0" fill="#edf103"/><use href="#h16" x="420.9" y="257.0" fill="#cff309"/><use href="#h16" x="424.9" y="257.0" fill="#b0f60f"/><use href="#h16" x="428.9" y="257.0" fill="#91f814"/><use href="#h16" x="432.9" y="257.0" fill="#78f615"/><use href="#h16" x="436.9" y="257.0" fill="#6bf516"/><use href="#h16" x="440.8" y="257.0" fill="#5ef416"/><use href="#h16" x="444.8" y="257.0" fill="#45f217"/><use href="#h16" x="448.8" y="257.0" fill="#39f118"/><use href="#h16" x="395.0" y="260.4" fill="#fbd700"/><use href="#h16" x="399.0" y="260.4" fill="#fbd700"/><use href="#h16" x="403.0" y="260.4" fill="#fbe100"/><use href="#h16" x="406.9" y="260.4" fill="#faea00"/><use href="#h16" x="410.9" y="260.4" fill="#f7f001"/><use href="#h16" x="414.9" y="260.4" fill="#e3f205"/><use href="#h16" x="418.9" y="260.4" fill="#cff309"/><use href="#h16" x="422.9" y="260.4" fill="#b0f60f"/><use href="#h16" x="426.9" y="260.4" fill="#9cf813"/><use href="#h16" x="430.9" y="260.4" fill="#84f715"/><use href="#h16" x="434.9" y="260.4" fill="#6bf516"/><use href="#h16" x="438.8" y="260.4" fill="#5ef416"/><use href="#h16" x="442.8" y="260.4" fill="#52f317"/><use href="#h16" x="446.8" y="260.4" fill="#39f118"/><use href="#h16" x="450.8" y="260.4" fill="#2cf018"/><use href="#h16" x="393.0" y="263.8" fill="#cff309"/><use href="#h16" x="397.0" y="263.8" fill="#d9f307"/><use href="#h16" x="401.0" y="263.8" fill="#d9f307"/><use href="#h16" x="405.0" y="263.8" fill="#cff309"/><use href="#h16" x="408.9" y="263.8" fill="#c4f40b"/><use href="#h16" x="412.9" y="263.8" fill="#baf50d"/><use href="#h16" x="416.9" y="263.8" fill="#a6f711"/><use href="#h16" x="420.9" y="263.8" fill="#91f814"/><use href="#h16" x="424.9" y="263.8" fill="#84f715"/><use href="#h16" x="428.9" y="263.8" fill="#6bf516"/><use href="#h16" x="432.9" y="263.8" fill="#5ef416"/><use href="#h16" x="436.9" y="263.8" fill="#52f317"/><use href="#h16" x="440.8" y="263.8" fill="#45f217"/><use href="#h16" x="444.8" y="263.8" fill="#2cf018"/><use href="#h16" x="448.8" y="263.8" fill="#1fef19"/><use href="#h16" x="395.0" y="267.2" fill="#91f814"/><use href="#h16" x="399.0" y="267.2" fill="#9cf813"/><use href="#h16" x="403.0" y="267.2" fill="#9cf813"/><use href="#h16" x="406.9" y="267.2" fill="#9cf813"/><use href="#h16" x="410.9" y="267.2" fill="#9cf813"/><use href="#h16" x="414.9" y="267.2" fill="#91f814"/><use href="#h16" x="418.9" y="267.2" fill="#84f715"/><use href="#h16" x="422.9" y="267.2" fill="#78f615"/><use href="#h16" x="426.9" y="267.2" fill="#6bf516"/><use href="#h16" x="430.9" y="267.2" fill="#5ef416"/><use href="#h16" x="434.9" y="267.2" fill="#52f317"/><use href="#h16" x="438.8" y="267.2" fill="#45f217"/><use href="#h16" x="442.8" y="267.2" fill="#39f118"/><use href="#h16" x="446.8" y="267.2" fill="#1fef19"/><use href="#h16" x="450.8" y="267.2" fill="#19ee20"/><use href="#h16" x="393.0" y="270.6" fill="#5ef416"/><use href="#h16" x="397.0" y="270.6" fill="#6bf516"/><use href="#h16" x="401.0" y="270.6" fill="#6bf516"/><use href="#h16" x="405.0" y="270.6" fill="#78f615"/><use href="#h16" x="408.9" y="270.6" fill="#78f615"/><use href="#h16" x="412.9" y="270.6" fill="#6bf516"/><use href="#h16" x="416.9" y="270.6" fill="#5ef416"/><use href="#h16" x="420.9" y="270.6" fill="#5ef416"/><use href="#h16" x="424.9" y="270.6" fill="#52f317"/><use href="#h16" x="428.9" y="270.6" fill="#45f217"/><use href="#h16" x="432.9" y="270.6" fill="#39f118"/><use href="#h16" x="436.9" y="270.6" fill="#2cf018"/><use href="#h16" x="440.8" y="270.6" fill="#1fef19"/><use href="#h16" x="444.8" y="270.6" fill="#19ee20"/><use href="#h16" x="448.8" y="270.6" fill="#19ee20"/><use href="#h16" x="395.0" y="274.0" fill="#2cf018"/><use href="#h16" x="399.0" y="274.0" fill="#2cf018"/><use href="#h16" x="403.0" y="274.0" fill="#2cf018"/><use href="#h16" x="406.9" y="274.0" fill="#2cf018"/><use href="#h16" x="410.9" y="274.0" fill="#2cf018"/><use href="#h16" x="414.9" y="274.0" fill="#1fef19"/><use href="#h16" x="418.9" y="274.0" fill="#1fef19"/><use href="#h16" x="422.9" y="274.0" fill="#19ee20"/><use href="#h16" x="426.9" y="274.0" fill="#19ee20"/><use href="#h16" x="430.9" y="274.0" fill="#19ee20"/><use href="#h16" x="434.9" y="274.0" fill="#19ee20"/><use href="#h16" x="438.8" y="274.0" fill="#19ee20"/><use href="#h16" x="442.8" y="274.0" fill="#19ee20"/><use href="#h16" x="446.8" y="274.0" fill="#19ee20"/><use href="#h16" x="450.8" y="274.0" fill="#19ee20"/><use href="#h16" x="393.0" y="277.4" fill="#17f15a"/><use href="#h16" x="397.0" y="277.4" fill="#17f15a"/><use href="#h16" x="401.0" y="277.4" fill="#17f15a"/><use href="#h16" x="405.0" y="277.4" fill="#17f04c"/><use href="#h16" x="408.9" y="277.4" fill="#17f04c"/><use href="#h16" x="412.9" y="277.4" fill="#18f03d"/><use href="#h16" x="416.9" y="277.4" fill="#18f03d"/><use href="#h16" x="420.9" y="277.4" fill="#18f03d"/><use href="#h16" x="424.9" y="277.4" fill="#18ef2f"/><use href="#h16" x="428.9" y="277.4" fill="#18ef2f"/><use href="#h16" x="432.9" y="277.4" fill="#19ee20"/><use href="#h16" x="436.9" y="277.4" fill="#19ee20"/><use href="#h16" x="440.8" y="277.4" fill="#19ee20"/><use href="#h16" x="444.8" y="277.4" fill="#19ee20"/><use href="#h16" x="448.8" y="277.4" fill="#19ee20"/><use href="#h16" x="395.0" y="280.8" fill="#14f5b2"/><use href="#h16" x="399.0" y="280.8" fill="#14f5b2"/><use href="#h16" x="403.0" y="280.8" fill="#14f5b2"/><use href="#h16" x="406.9" y="280.8" fill="#15f4a3"/><use href="#h16" x="410.9" y="280.8" fill="#15f395"/><use href="#h16" x="414.9" y="280.8" fill="#16f386"/><use href="#h16" x="418.9" y="280.8" fill="#16f278"/><use href="#h16" x="422.9" y="280.8" fill="#16f269"/><use href="#h16" x="426.9" y="280.8" fill="#17f15a"/><use href="#h16" x="430.9" y="280.8" fill="#17f04c"/><use href="#h16" x="434.9" y="280.8" fill="#18f03d"/><use href="#h16" x="438.8" y="280.8" fill="#18f03d"/><use href="#h16" x="442.8" y="280.8" fill="#18ef2f"/><use href="#h16" x="446.8" y="280.8" fill="#18ef2f"/><use href="#h16" x="450.8" y="280.8" fill="#18ef2f"/><use href="#h16" x="393.0" y="284.2" fill="#09e9da"/><use href="#h16" x="397.0" y="284.2" fill="#09e9da"/><use href="#h16" x="401.0" y="284.2" fill="#0bebd5"/><use href="#h16" x="405.0" y="284.2" fill="#0dedd0"/><use href="#h16" x="408.9" y="284.2" fill="#0eefcb"/><use href="#h16" x="412.9" y="284.2" fill="#10f0c6"/><use href="#h16" x="416.9" y="284.2" fill="#13f4bc"/><use href="#h16" x="420.9" y="284.2" fill="#15f4a3"/><use href="#h16" x="424.9" y="284.2" fill="#16f386"/><use href="#h16" x="428.9" y="284.2" fill="#16f278"/><use href="#h16" x="432.9" y="284.2" fill="#17f15a"/><use href="#h16" x="436.9" y="284.2" fill="#17f04c"/><use href="#h16" x="440.8" y="284.2" fill="#18f03d"/><use href="#h16" x="444.8" y="284.2" fill="#18f03d"/><use href="#h16" x="448.8" y="284.2" fill="#18f03d"/><use href="#h16" x="395.0" y="287.6" fill="#05e4ea"/><use href="#h16" x="399.0" y="287.6" fill="#05e4ea"/><use href="#h16" x="403.0" y="287.6" fill="#05e4ea"/><use href="#h16" x="406.9" y="287.6" fill="#06e6e5"/><use href="#h16" x="410.9" y="287.6" fill="#08e7e0"/><use href="#h16" x="414.9" y="287.6" fill="#0bebd5"/><use href="#h16" x="418.9" y="287.6" fill="#0eefcb"/><use href="#h16" x="422.9" y="287.6" fill="#12f2c1"/><use href="#h16" x="426.9" y="287.6" fill="#14f5b2"/><use href="#h16" x="430.9" y="287.6" fill="#15f395"/><use href="#h16" x="434.9" y="287.6" fill="#16f278"/><use href="#h16" x="438.8" y="287.6" fill="#16f269"/><use href="#h16" x="442.8" y="287.6" fill="#17f15a"/><use href="#h16" x="446.8" y="287.6" fill="#17f04c"/><use href="#h16" x="450.8" y="287.6" fill="#17f04c"/><use href="#h16" x="393.0" y="291.0" fill="#0647fe"/><use href="#h16" x="397.0" y="291.0" fill="#0647fe"/><use href="#h16" x="401.0" y="291.0" fill="#0752fe"/><use href="#h16" x="405.0" y="291.0" fill="#0f9efc"/><use href="#h16" x="408.9" y="291.0" fill="#0bb4f7"/><use href="#h16" x="412.9" y="291.0" fill="#05e4ea"/><use href="#h16" x="416.9" y="291.0" fill="#08e7e0"/><use href="#h16" x="420.9" y="291.0" fill="#0dedd0"/><use href="#h16" x="424.9" y="291.0" fill="#12f2c1"/><use href="#h16" x="428.9" y="291.0" fill="#14f5b2"/><use href="#h16" x="432.9" y="291.0" fill="#15f395"/><use href="#h16" x="436.9" y="291.0" fill="#16f278"/><use href="#h16" x="440.8" y="291.0" fill="#16f269"/><use href="#h16" x="444.8" y="291.0" fill="#17f15a"/><use href="#h16" x="448.8" y="291.0" fill="#17f15a"/><use href="#h16" x="395.0" y="294.4" fill="#042bfc"/><use href="#h16" x="399.0" y="294.4" fill="#042bfc"/><use href="#h16" x="403.0" y="294.4" fill="#042bfc"/><use href="#h16" x="406.9" y="294.4" fill="#0536fd"/><use href="#h16" x="410.9" y="294.4" fill="#0c80fd"/><use href="#h16" x="414.9" y="294.4" fill="#0f9efc"/><use href="#h16" x="418.9" y="294.4" fill="#06d8ef"/><use href="#h16" x="422.9" y="294.4" fill="#08e7e0"/><use href="#h16" x="426.9" y="294.4" fill="#0eefcb"/><use href="#h16" x="430.9" y="294.4" fill="#13f4bc"/><use href="#h16" x="434.9" y="294.4" fill="#15f4a3"/><use href="#h16" x="438.8" y="294.4" fill="#16f386"/><use href="#h16" x="442.8" y="294.4" fill="#16f269"/><use href="#h16" x="446.8" y="294.4" fill="#16f269"/><use href="#h16" x="450.8" y="294.4" fill="#17f15a"/><use href="#h16" x="393.0" y="297.7" fill="#0325f8"/><use href="#h16" x="397.0" y="297.7" fill="#0325f8"/><use href="#h16" x="401.0" y="297.7" fill="#0325f8"/><use href="#h16" x="405.0" y="297.7" fill="#042bfc"/><use href="#h16" x="408.9" y="297.7" fill="#0863ff"/><use href="#h16" x="412.9" y="297.7" fill="#0c80fd"/><use href="#h16" x="416.9" y="297.7" fill="#09c2f3"/><use href="#h16" x="420.9" y="297.7" fill="#05e4ea"/><use href="#h16" x="424.9" y="297.7" fill="#0bebd5"/><use href="#h16" x="428.9" y="297.7" fill="#12f2c1"/><use href="#h16" x="432.9" y="297.7" fill="#14f5b2"/><use href="#h16" x="436.9" y="297.7" fill="#15f395"/><use href="#h16" x="440.8" y="297.7" fill="#16f278"/><use href="#h16" x="444.8" y="297.7" fill="#16f269"/><use href="#h16" x="448.8" y="297.7" fill="#16f269"/><use href="#h16" x="395.0" y="301.1" fill="#042bfc"/><use href="#h16" x="399.0" y="301.1" fill="#042bfc"/><use href="#h16" x="403.0" y="301.1" fill="#042bfc"/><use href="#h16" x="406.9" y="301.1" fill="#0536fd"/><use href="#h16" x="410.9" y="301.1" fill="#0863ff"/><use href="#h16" x="414.9" y="301.1" fill="#0c80fd"/><use href="#h16" x="418.9" y="301.1" fill="#09c2f3"/><use href="#h16" x="422.9" y="301.1" fill="#05e4ea"/><use href="#h16" x="426.9" y="301.1" fill="#0bebd5"/><use href="#h16" x="430.9" y="301.1" fill="#10f0c6"/><use href="#h16" x="434.9" y="301.1" fill="#14f5b2"/><use href="#h16" x="438.8" y="301.1" fill="#15f395"/><use href="#h16" x="442.8" y="301.1" fill="#16f278"/><use href="#h16" x="446.8" y="301.1" fill="#16f269"/><use href="#h16" x="450.8" y="301.1" fill="#16f269"/></g>
<rect x="390.0" y="233.4" width="63.8" height="71.0" fill="url(#d16)"/>
<rect x="388.05" y="235.00" width="1.4" height="68.40" fill="url(#cbg)"/>
<rect x="388.05" y="235.00" width="1.4" height="68.40" fill="#707080" fill-opacity="0.18"/>
<text x="422.3" y="232.0" class="t" font-size="6.60" text-anchor="middle" textLength="25.3" lengthAdjust="spacingAndGlyphs">Reservoir</text>
<text x="387.5" y="242.4" class="k" font-size="5.80" text-anchor="end" textLength="16.3" lengthAdjust="spacingAndGlyphs">35,000</text>
<text x="387.5" y="254.3" class="k" font-size="5.80" text-anchor="end" textLength="16.3" lengthAdjust="spacingAndGlyphs">30,000</text>
<text x="387.5" y="265.8" class="k" font-size="5.80" text-anchor="end" textLength="16.3" lengthAdjust="spacingAndGlyphs">25,000</text>
<text x="387.5" y="277.4" class="k" font-size="5.80" text-anchor="end" textLength="16.3" lengthAdjust="spacingAndGlyphs">20,000</text>
<text x="387.5" y="288.7" class="k" font-size="5.80" text-anchor="end" textLength="16.3" lengthAdjust="spacingAndGlyphs">15,000</text>
<text x="387.5" y="300.1" class="k" font-size="5.80" text-anchor="end" textLength="16.3" lengthAdjust="spacingAndGlyphs">10,000</text>
</svg>
</body></html>
